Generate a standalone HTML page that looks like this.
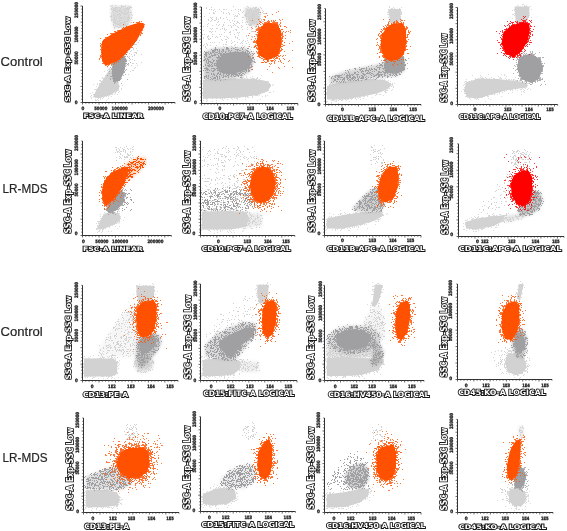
<!DOCTYPE html>
<html><head><meta charset="utf-8"><style>
html,body{margin:0;padding:0;background:#fff;}
body{width:567px;height:531px;position:relative;overflow:hidden;}
svg{position:absolute;left:0;top:0;}
.lab{font-family:"Liberation Sans",Arial,sans-serif;font-size:13px;fill:#262626;stroke:#262626;stroke-width:0.2;}
.t{font-family:"DejaVu Sans","Liberation Sans",sans-serif;font-weight:bold;fill:#fff;stroke:#161616;paint-order:stroke;}
.s{font-family:"DejaVu Sans","Liberation Sans",sans-serif;font-weight:bold;fill:#222;stroke:#222;paint-order:stroke;}
.ax{fill:none;stroke:#333;stroke-width:1;}
.tk{fill:none;stroke:#333;stroke-width:0.75;}
</style></head><body>
<svg width="567" height="531" viewBox="0 0 567 531">
<defs><filter id="b" x="-20%" y="-20%" width="140%" height="140%"><feGaussianBlur stdDeviation="0.7"/></filter>
<filter id="b2" x="-20%" y="-20%" width="140%" height="140%"><feGaussianBlur stdDeviation="1.5"/></filter></defs>
<path d="M111 6 131 6 131.5 20 128 28 114 28 111 18Z" fill="#d2d2d2" filter="url(#b2)" fill-opacity="0.75"/>
<path d="M110 5.5h1M110 16.5h1M111 6.5h1M111 8.5h1M111 9.5h1M111 13.5h1M111 15.5h1M111 16.5h1M111 17.5h1M111 19.5h1M111 20.5h1M112 5.5h1M112 7.5h1M112 9.5h1M112 11.5h1M112 19.5h1M113 8.5h1M113 10.5h1M113 12.5h1M113 14.5h1M113 15.5h1M113 17.5h1M113 20.5h1M113 21.5h1M113 22.5h1M113 24.5h1M113 25.5h1M114 8.5h1M114 9.5h1M114 10.5h1M114 15.5h1M114 16.5h1M114 17.5h1M114 18.5h1M114 19.5h1M114 20.5h1M114 22.5h1M114 23.5h1M114 27.5h1M114 28.5h1M115 5.5h1M115 7.5h1M115 9.5h1M115 10.5h1M115 11.5h1M115 13.5h1M115 19.5h1M115 20.5h1M115 21.5h1M115 22.5h1M115 23.5h1M115 25.5h1M115 26.5h1M116 7.5h1M116 8.5h1M116 11.5h1M116 16.5h1M116 18.5h1M116 23.5h1M117 7.5h1M117 9.5h1M117 11.5h1M117 12.5h1M117 14.5h1M117 15.5h1M117 21.5h1M117 23.5h1M117 24.5h1M117 26.5h1M118 10.5h1M118 14.5h1M118 17.5h1M118 20.5h1M118 22.5h1M118 24.5h1M118 27.5h1M119 7.5h1M119 9.5h1M119 10.5h1M119 11.5h1M119 13.5h1M119 14.5h1M119 16.5h1M119 18.5h1M119 20.5h1M119 21.5h1M119 23.5h1M119 24.5h1M119 25.5h1M119 27.5h1M120 8.5h1M120 9.5h1M120 11.5h1M120 14.5h1M120 15.5h1M120 17.5h1M120 18.5h1M120 20.5h1M120 22.5h1M120 23.5h1M120 25.5h1M120 26.5h1M121 5.5h1M121 6.5h1M121 7.5h1M121 11.5h1M121 12.5h1M121 13.5h1M121 17.5h1M121 18.5h1M121 20.5h1M121 22.5h1M121 23.5h1M121 25.5h1M121 27.5h1M122 6.5h1M122 12.5h1M122 17.5h1M122 22.5h1M123 6.5h1M123 9.5h1M123 13.5h1M123 19.5h1M123 22.5h1M123 23.5h1M123 24.5h1M123 25.5h1M123 26.5h1M123 27.5h1M124 6.5h1M124 9.5h1M124 11.5h1M124 12.5h1M124 13.5h1M124 14.5h1M124 16.5h1M124 18.5h1M124 21.5h1M124 22.5h1M124 25.5h1M124 27.5h1M124 28.5h1M125 5.5h1M125 8.5h1M125 10.5h1M125 11.5h1M125 13.5h1M125 17.5h1M125 21.5h1M125 23.5h1M125 24.5h1M125 25.5h1M125 27.5h1M126 8.5h1M126 9.5h1M126 13.5h1M126 14.5h1M126 20.5h1M126 21.5h1M126 25.5h1M126 26.5h1M126 27.5h1M127 7.5h1M127 8.5h1M127 9.5h1M127 12.5h1M127 13.5h1M127 17.5h1M127 18.5h1M127 19.5h1M127 21.5h1M127 24.5h1M128 6.5h1M128 8.5h1M128 9.5h1M128 11.5h1M128 12.5h1M128 15.5h1M128 16.5h1M128 17.5h1M128 19.5h1M128 20.5h1M129 7.5h1M129 8.5h1M129 14.5h1M129 17.5h1M129 18.5h1M129 25.5h1M130 6.5h1M130 7.5h1M130 12.5h1M131 7.5h1M131 12.5h1M131 14.5h1M131 17.5h1M131 18.5h1M131 22.5h1M132 15.5h1" stroke="#d2d2d2" stroke-width="1" fill="none"/>
<path d="M111 93.5h1M109 69.5h1M98 98.5h1M108 96.5h1M107 67.5h1M112 92.5h1M109 95.5h1M115 93.5h1M102 81.5h1M115 76.5h1M108 98.5h1M101 82.5h1M114 76.5h1M119 91.5h1M113 72.5h1M96 89.5h1M119 86.5h1M106 96.5h1M107 74.5h1M91 95.5h1M117 94.5h1M103 78.5h1M107 70.5h1M113 74.5h1M112 70.5h1M100 83.5h1M94 89.5h1M105 77.5h1M112 71.5h1M103 80.5h1M100 98.5h1M107 73.5h1M113 69.5h1M107 94.5h1M97 83.5h1M95 97.5h1M114 71.5h1M99 84.5h1M95 100.5h1M107 95.5h1M97 99.5h1M100 80.5h1M99 85.5h1M100 97.5h1M118 88.5h1M95 89.5h1M99 80.5h1M117 80.5h1M113 73.5h1M98 97.5h1M118 90.5h1M118 87.5h1M91 98.5h1M114 94.5h1M99 83.5h1M108 69.5h1M106 75.5h1M104 96.5h1M93 84.5h1M111 96.5h1M90 96.5h1M103 97.5h1M90 93.5h1M121 88.5h1M92 92.5h1M110 69.5h1M118 92.5h1M96 100.5h1M121 89.5h1M106 100.5h1M102 77.5h1M97 84.5h1M112 94.5h1M116 79.5h1M105 95.5h1M104 78.5h1M98 100.5h1M118 82.5h1M114 72.5h1M104 71.5h1M100 99.5h1M96 86.5h1M105 75.5h1M117 76.5h1M102 78.5h1M94 94.5h1M111 94.5h1M115 77.5h1M112 93.5h1M102 98.5h1M116 91.5h1M101 81.5h1M114 75.5h1M95 99.5h1M114 74.5h1M110 70.5h1M100 81.5h1M109 68.5h1M103 79.5h1M99 97.5h1M122 85.5h1M107 66.5h1M91 97.5h1M115 92.5h1M111 71.5h1M102 82.5h1M118 89.5h1M93 94.5h1" stroke="#d2d2d2" stroke-width="1" fill="none" stroke-opacity="0.8"/>
<path d="M92.9 96.9 96.9 89 104.8 77.1 109.7 69.2 112.7 71.2 117 80 119.5 86 118 90.5 110 95 102 97.5 96.9 98Z" fill="#d2d2d2" filter="url(#b)"/>
<path d="M115 50.5h1M112 72.5h1M124 71.5h1M123 70.5h1M121 75.5h1M126 61.5h1M119 79.5h1M125 66.5h1M115 82.5h1M112 66.5h1M110 78.5h1M114 83.5h1M114 56.5h1M125 62.5h1M121 78.5h1M115 81.5h1M125 58.5h1M114 57.5h1M110 79.5h1M120 54.5h1M125 74.5h1M123 71.5h1M126 54.5h1M113 78.5h1M127 79.5h1M112 67.5h1M123 54.5h1M111 69.5h1M120 56.5h1M127 64.5h1M112 76.5h1M113 79.5h1M117 80.5h1M114 54.5h1M119 80.5h1M121 83.5h1M113 67.5h1M130 62.5h1M112 78.5h1M122 56.5h1M127 52.5h1M124 68.5h1M123 75.5h1M124 72.5h1M123 72.5h1M124 52.5h1M125 56.5h1M109 71.5h1M124 69.5h1M107 75.5h1M114 82.5h1M125 63.5h1M112 58.5h1M126 69.5h1M108 61.5h1M128 63.5h1M113 80.5h1M129 58.5h1M109 73.5h1M112 63.5h1M110 67.5h1M122 73.5h1M127 56.5h1M113 81.5h1M117 81.5h1M118 57.5h1M112 57.5h1M119 57.5h1M125 61.5h1M124 57.5h1M124 56.5h1M118 56.5h1M120 79.5h1M113 76.5h1M126 60.5h1M112 64.5h1M111 68.5h1M112 75.5h1M125 54.5h1M110 76.5h1M125 70.5h1M125 59.5h1M116 80.5h1M123 55.5h1M110 59.5h1M111 76.5h1M111 65.5h1M126 63.5h1M112 69.5h1" stroke="#a0a0a2" stroke-width="1" fill="none" stroke-opacity="0.8"/>
<path d="M114.7 57.3 124.5 55.4 126.5 61.3 123.6 73.2 119.6 81 113.7 82 111.7 73.2 112.7 63.3Z" fill="#a0a0a2" filter="url(#b)"/>
<path d="M125 62.5h1M126 51.5h1M126 59.5h1M126 65.5h1M127 48.5h1M128 48.5h1M128 57.5h1M128 64.5h1M128 65.5h1M128 74.5h1M129 48.5h1M129 53.5h1M129 56.5h1M129 60.5h1M130 47.5h1M130 48.5h1M130 51.5h1M130 59.5h1M130 71.5h1M131 44.5h1M131 46.5h1M131 50.5h1M131 54.5h1M131 65.5h1M132 56.5h1M132 59.5h1M132 63.5h1M132 70.5h1M133 41.5h1M133 48.5h1M133 49.5h1M133 63.5h1M133 70.5h1M134 43.5h1M134 44.5h1M134 52.5h1M134 54.5h1M134 55.5h1M134 60.5h1M134 68.5h1M135 40.5h1M135 44.5h1M135 52.5h1M135 67.5h1M136 36.5h1M136 38.5h1M136 44.5h1M136 48.5h1M136 52.5h1M136 53.5h1M136 63.5h1M137 50.5h1M137 65.5h1M138 42.5h1M139 40.5h1M140 35.5h1M141 54.5h1M141 62.5h1" stroke="#d2d2d2" stroke-width="1" fill="none"/>
<path d="M113 34.5h1M123 55.5h1M132 45.5h1M122 28.5h1M100 45.5h1M106 37.5h1M113 33.5h1M126 26.5h1M103 63.5h1M122 57.5h1M125 51.5h1M131 25.5h1M111 33.5h1M115 31.5h1M101 50.5h1M120 30.5h1M111 62.5h1M136 22.5h1M141 30.5h1M116 62.5h1M100 57.5h1M110 33.5h1M99 58.5h1M126 54.5h1M112 33.5h1M111 34.5h1M133 43.5h1M120 59.5h1M138 22.5h1M140 34.5h1M102 42.5h1M131 47.5h1M130 46.5h1M101 47.5h1M129 49.5h1M123 54.5h1M135 41.5h1M139 21.5h1M112 62.5h1M116 32.5h1M125 53.5h1M102 60.5h1M101 56.5h1M102 48.5h1M113 64.5h1M108 37.5h1M141 21.5h1M121 57.5h1M103 62.5h1M142 33.5h1M102 56.5h1M138 36.5h1M102 61.5h1M100 43.5h1M117 30.5h1M133 25.5h1M141 32.5h1M105 37.5h1M125 27.5h1M107 34.5h1M108 65.5h1M120 57.5h1M103 43.5h1M137 23.5h1M141 33.5h1M119 30.5h1M123 27.5h1M100 56.5h1M102 57.5h1M109 64.5h1M114 63.5h1M102 52.5h1M104 61.5h1M119 59.5h1M142 23.5h1M134 42.5h1M128 49.5h1M102 63.5h1M140 35.5h1M101 52.5h1M118 30.5h1M103 40.5h1M102 54.5h1M120 56.5h1M135 40.5h1M117 32.5h1M136 40.5h1M133 22.5h1M133 44.5h1M101 54.5h1M107 66.5h1M142 30.5h1M140 31.5h1M118 59.5h1M126 52.5h1M110 35.5h1M107 64.5h1M123 24.5h1M102 59.5h1M132 47.5h1M101 44.5h1M141 23.5h1M100 38.5h1M114 31.5h1M144 24.5h1M100 46.5h1M102 41.5h1M137 22.5h1M100 49.5h1M118 61.5h1M129 26.5h1M136 38.5h1M131 45.5h1M132 43.5h1M111 64.5h1M99 59.5h1M104 63.5h1M115 32.5h1M100 55.5h1M139 22.5h1M134 41.5h1M126 51.5h1" stroke="#ff5100" stroke-width="1" fill="none" stroke-opacity="0.8"/>
<path d="M101.6 44 103.5 39.5 109 36 115 32.5 121.2 29.4 127 26.5 133.5 24.2 139 22.8 143.5 23 144.5 26.5 141 32.5 137 40 131 47.5 124.5 55 117 61.5 109.5 64.5 105.3 66 101.6 58.8 101.1 50Z" fill="#ff5100" filter="url(#b)"/>
<path d="M202 34.5h1M203 26.5h1M203 30.5h1M203 37.5h1M203 38.5h1M203 45.5h1M204 16.5h1M204 34.5h1M204 44.5h1M205 46.5h1M205 47.5h1M205 52.5h1M205 53.5h1M205 54.5h1M206 7.5h1M206 8.5h1M206 43.5h1M206 48.5h1M206 54.5h1M207 24.5h1M207 26.5h1M207 36.5h1M207 37.5h1M207 44.5h1M207 45.5h1M208 19.5h1M208 20.5h1M208 23.5h1M208 35.5h1M208 36.5h1M208 38.5h1M208 39.5h1M208 51.5h1M208 52.5h1M209 9.5h1M209 13.5h1M209 31.5h1M209 39.5h1M210 17.5h1M210 21.5h1M210 28.5h1M210 31.5h1M210 38.5h1M210 42.5h1M210 45.5h1M211 7.5h1M211 9.5h1M211 18.5h1M211 20.5h1M211 29.5h1M211 32.5h1M211 54.5h1M212 17.5h1M212 19.5h1M212 25.5h1M212 28.5h1M212 31.5h1M212 34.5h1M212 36.5h1M212 42.5h1M213 10.5h1M213 12.5h1M213 13.5h1M213 50.5h1M214 9.5h1M214 13.5h1M214 20.5h1M214 42.5h1M214 50.5h1M214 53.5h1M215 11.5h1M215 20.5h1M215 31.5h1M215 37.5h1M216 17.5h1M216 18.5h1M216 19.5h1M216 24.5h1M216 28.5h1M216 36.5h1M216 45.5h1M216 49.5h1M216 54.5h1M217 22.5h1M217 28.5h1M217 37.5h1M218 19.5h1M218 21.5h1M218 25.5h1M218 51.5h1M219 9.5h1M219 24.5h1M219 34.5h1M219 42.5h1M220 17.5h1M220 18.5h1M220 29.5h1M220 36.5h1M220 53.5h1M221 11.5h1M221 34.5h1M221 39.5h1M222 26.5h1M222 28.5h1M222 40.5h1M222 50.5h1M223 9.5h1M223 12.5h1M223 13.5h1M223 18.5h1M223 24.5h1M223 25.5h1M223 44.5h1M223 46.5h1M223 49.5h1M224 9.5h1M224 22.5h1M224 28.5h1M224 29.5h1M224 32.5h1M224 36.5h1M224 47.5h1M225 30.5h1M225 39.5h1M225 44.5h1M226 9.5h1M226 13.5h1M226 17.5h1M226 29.5h1M226 36.5h1M226 39.5h1M226 41.5h1M226 42.5h1M226 44.5h1M226 51.5h1M227 19.5h1M227 37.5h1M228 12.5h1M228 25.5h1M228 38.5h1M228 48.5h1M228 49.5h1M229 13.5h1M229 14.5h1M229 20.5h1M229 32.5h1M230 22.5h1M230 25.5h1M230 31.5h1M230 32.5h1M230 34.5h1M231 10.5h1M231 26.5h1M231 27.5h1M231 40.5h1M231 43.5h1M231 46.5h1M232 20.5h1M232 42.5h1M232 47.5h1M233 6.5h1M233 14.5h1M233 23.5h1M233 25.5h1M233 30.5h1M234 16.5h1M234 18.5h1M234 21.5h1M234 24.5h1M234 34.5h1M234 41.5h1M234 45.5h1M234 48.5h1M235 9.5h1M235 15.5h1M235 25.5h1M235 29.5h1M235 36.5h1M235 37.5h1M235 44.5h1M236 16.5h1M236 23.5h1M236 29.5h1M236 30.5h1M236 47.5h1M236 49.5h1M237 15.5h1M237 16.5h1M237 21.5h1M237 22.5h1M237 26.5h1M237 32.5h1M237 37.5h1M237 38.5h1M237 42.5h1M237 47.5h1M238 9.5h1M238 11.5h1M238 13.5h1M238 22.5h1M238 27.5h1M238 33.5h1M238 35.5h1M239 14.5h1M239 23.5h1M239 32.5h1M239 39.5h1M240 9.5h1M240 10.5h1M240 43.5h1M240 48.5h1M241 25.5h1M241 27.5h1M241 42.5h1M242 12.5h1M242 17.5h1M242 20.5h1M242 22.5h1M242 26.5h1M242 29.5h1M242 41.5h1M242 43.5h1M242 45.5h1M242 48.5h1M242 49.5h1M243 17.5h1M243 40.5h1M244 15.5h1M244 46.5h1M245 13.5h1M245 14.5h1M245 22.5h1M245 41.5h1M245 49.5h1M245 51.5h1M246 11.5h1M246 16.5h1M246 19.5h1M246 24.5h1M246 35.5h1M246 36.5h1M246 43.5h1M247 6.5h1M247 13.5h1M247 27.5h1M247 29.5h1M247 38.5h1M247 40.5h1M248 35.5h1M248 42.5h1M248 46.5h1M249 20.5h1M249 25.5h1M249 44.5h1M250 9.5h1M250 16.5h1M250 20.5h1M250 25.5h1M250 49.5h1M251 9.5h1M251 13.5h1M251 17.5h1M251 29.5h1M251 31.5h1M251 36.5h1M251 47.5h1M252 8.5h1M252 18.5h1M252 20.5h1M252 31.5h1M252 36.5h1M252 37.5h1M253 13.5h1M253 15.5h1M253 21.5h1M253 31.5h1M253 47.5h1M253 51.5h1M253 53.5h1M254 8.5h1M254 23.5h1M254 31.5h1M254 40.5h1M254 47.5h1M255 7.5h1M255 26.5h1M255 27.5h1M255 29.5h1M255 34.5h1M255 39.5h1M255 44.5h1M255 46.5h1M256 10.5h1M256 14.5h1M256 17.5h1M256 22.5h1M256 25.5h1M256 28.5h1M256 35.5h1M256 42.5h1M256 52.5h1M257 10.5h1M257 18.5h1M258 16.5h1M258 24.5h1M258 25.5h1M258 28.5h1M258 34.5h1M258 44.5h1M259 10.5h1M259 12.5h1M259 16.5h1M259 19.5h1M259 20.5h1M259 34.5h1M259 36.5h1M259 38.5h1M259 40.5h1M260 7.5h1M260 14.5h1M260 18.5h1M260 24.5h1M260 35.5h1M260 36.5h1M260 38.5h1M260 51.5h1M261 8.5h1M261 19.5h1M261 20.5h1M261 31.5h1M261 44.5h1M261 45.5h1M262 10.5h1M262 12.5h1M262 21.5h1M262 30.5h1M262 43.5h1M263 11.5h1M263 13.5h1M263 21.5h1M263 23.5h1M263 24.5h1M263 44.5h1M263 51.5h1M264 13.5h1M264 25.5h1M264 26.5h1M264 27.5h1M264 40.5h1M264 43.5h1M264 52.5h1M265 13.5h1M265 17.5h1M265 23.5h1M265 48.5h1" stroke="#d2d2d2" stroke-width="1" fill="none"/>
<path d="M244.5 7.9 259.3 7.9 260.3 19.8 257.4 25.7 249.4 25.7 245.5 17.8Z" fill="#d2d2d2" filter="url(#b2)" fill-opacity="0.9"/>
<path d="M243 11.5h1M245 15.5h1M245 16.5h1M246 8.5h1M246 11.5h1M246 13.5h1M246 14.5h1M246 15.5h1M246 16.5h1M246 18.5h1M246 21.5h1M247 9.5h1M247 10.5h1M247 16.5h1M247 21.5h1M247 22.5h1M248 7.5h1M248 11.5h1M248 12.5h1M248 13.5h1M248 16.5h1M248 17.5h1M248 18.5h1M248 19.5h1M248 24.5h1M249 9.5h1M249 10.5h1M249 11.5h1M249 12.5h1M249 19.5h1M249 21.5h1M249 22.5h1M249 24.5h1M250 8.5h1M250 9.5h1M250 16.5h1M250 17.5h1M250 19.5h1M250 23.5h1M250 24.5h1M251 9.5h1M251 10.5h1M251 13.5h1M251 14.5h1M251 15.5h1M251 17.5h1M251 18.5h1M251 20.5h1M251 21.5h1M251 22.5h1M251 24.5h1M251 25.5h1M252 11.5h1M252 14.5h1M252 15.5h1M252 16.5h1M252 17.5h1M252 19.5h1M252 22.5h1M252 23.5h1M253 7.5h1M253 10.5h1M253 11.5h1M253 12.5h1M253 16.5h1M253 17.5h1M253 18.5h1M253 20.5h1M253 23.5h1M254 8.5h1M254 13.5h1M254 14.5h1M254 15.5h1M254 16.5h1M254 18.5h1M254 19.5h1M254 21.5h1M254 22.5h1M254 23.5h1M255 7.5h1M255 8.5h1M255 9.5h1M255 10.5h1M255 11.5h1M255 12.5h1M255 17.5h1M255 18.5h1M255 22.5h1M256 7.5h1M256 9.5h1M256 10.5h1M256 11.5h1M256 12.5h1M256 15.5h1M256 17.5h1M256 19.5h1M256 21.5h1M256 22.5h1M256 23.5h1M256 24.5h1M257 9.5h1M257 10.5h1M257 12.5h1M257 13.5h1M257 17.5h1M257 19.5h1M257 22.5h1M257 23.5h1M258 8.5h1M258 9.5h1M258 10.5h1M258 11.5h1M258 12.5h1M258 13.5h1M258 14.5h1M258 16.5h1M258 17.5h1M258 18.5h1M258 19.5h1M258 20.5h1M258 22.5h1M259 9.5h1M259 14.5h1M259 18.5h1M259 23.5h1" stroke="#d2d2d2" stroke-width="1" fill="none"/>
<path d="M270 84.5h1M245 97.5h1M228 78.5h1M211 97.5h1M247 97.5h1M270 86.5h1M262 96.5h1M231 78.5h1M234 98.5h1M251 78.5h1M202 95.5h1M256 78.5h1M202 93.5h1M230 76.5h1M255 79.5h1M236 98.5h1M265 96.5h1M205 98.5h1M208 79.5h1M224 98.5h1M262 92.5h1M273 91.5h1M233 97.5h1M226 79.5h1M268 87.5h1M244 78.5h1M255 94.5h1M259 79.5h1M235 79.5h1M230 78.5h1M252 78.5h1M216 102.5h1M219 97.5h1M237 98.5h1M260 99.5h1M266 81.5h1M200 82.5h1M243 77.5h1M242 78.5h1M256 95.5h1M241 78.5h1M227 99.5h1M241 96.5h1M201 81.5h1M207 98.5h1M240 79.5h1M226 97.5h1M220 78.5h1M250 77.5h1M235 78.5h1M252 97.5h1M246 77.5h1M259 80.5h1M258 94.5h1M269 87.5h1M206 98.5h1M200 86.5h1M223 79.5h1M234 78.5h1M268 90.5h1M251 95.5h1M247 95.5h1M224 76.5h1M244 79.5h1M270 85.5h1M206 101.5h1M203 91.5h1M214 75.5h1M220 98.5h1M212 101.5h1M203 87.5h1M208 77.5h1M257 94.5h1M260 80.5h1M216 100.5h1M210 80.5h1M206 99.5h1M233 78.5h1M246 76.5h1M261 75.5h1M247 78.5h1M265 95.5h1M252 96.5h1M237 99.5h1M209 79.5h1M245 99.5h1M247 96.5h1M248 97.5h1M217 79.5h1M203 88.5h1M270 92.5h1M205 79.5h1M252 76.5h1M273 84.5h1M267 82.5h1M217 78.5h1M245 96.5h1M231 98.5h1M202 92.5h1M214 78.5h1M206 80.5h1M221 79.5h1M213 97.5h1M239 97.5h1M232 99.5h1M230 97.5h1M265 81.5h1M203 100.5h1M203 95.5h1M203 98.5h1M253 78.5h1M255 95.5h1M272 85.5h1M202 102.5h1M269 92.5h1M232 97.5h1M233 76.5h1M200 83.5h1M262 80.5h1M267 95.5h1M216 98.5h1M222 98.5h1M268 81.5h1M254 78.5h1M213 79.5h1M201 91.5h1M213 77.5h1M269 83.5h1M257 78.5h1M256 79.5h1M260 78.5h1M212 98.5h1M263 92.5h1M212 78.5h1M206 79.5h1M243 79.5h1M241 77.5h1M266 91.5h1M269 85.5h1M245 79.5h1M223 100.5h1M257 77.5h1M207 100.5h1M199 87.5h1M234 79.5h1M215 77.5h1M202 83.5h1M268 82.5h1M246 96.5h1M223 97.5h1M236 97.5h1M257 95.5h1M242 77.5h1M208 97.5h1M264 92.5h1M213 78.5h1M232 96.5h1M243 96.5h1M259 95.5h1M222 99.5h1M241 76.5h1M256 94.5h1M267 81.5h1M257 100.5h1M235 75.5h1M202 88.5h1M232 77.5h1" stroke="#d2d2d2" stroke-width="1" fill="none" stroke-opacity="0.8"/>
<path d="M203 80 220 79 240 78.5 255 79 266 81 271 85 268 91 258 95 240 97.5 220 98.5 203 98.5Z" fill="#d2d2d2" filter="url(#b)"/>
<path d="M203.7 52 215 48 230 47.4 245 48 253 53 254 62 250 72 240 77 225 79.5 203.7 79.5Z" fill="#a0a0a2" filter="url(#b2)" fill-opacity="0.5"/>
<path d="M203 60.5h1M203 66.5h1M203 70.5h1M204 51.5h1M204 54.5h1M204 56.5h1M204 57.5h1M204 59.5h1M204 60.5h1M204 68.5h1M204 76.5h1M204 77.5h1M204 78.5h1M205 52.5h1M205 53.5h1M205 54.5h1M205 55.5h1M205 58.5h1M205 59.5h1M205 64.5h1M205 65.5h1M205 68.5h1M205 70.5h1M205 76.5h1M206 52.5h1M206 53.5h1M206 54.5h1M206 55.5h1M206 56.5h1M206 60.5h1M206 61.5h1M206 62.5h1M206 67.5h1M206 68.5h1M206 69.5h1M206 72.5h1M206 75.5h1M206 76.5h1M206 77.5h1M207 52.5h1M207 58.5h1M207 59.5h1M207 63.5h1M207 65.5h1M207 68.5h1M207 69.5h1M207 70.5h1M207 72.5h1M207 78.5h1M208 53.5h1M208 57.5h1M208 59.5h1M208 60.5h1M208 61.5h1M208 62.5h1M208 63.5h1M208 65.5h1M208 66.5h1M208 69.5h1M208 72.5h1M208 75.5h1M208 76.5h1M208 78.5h1M209 54.5h1M209 56.5h1M209 57.5h1M209 61.5h1M209 64.5h1M209 65.5h1M209 66.5h1M209 70.5h1M210 52.5h1M210 53.5h1M210 56.5h1M210 57.5h1M210 61.5h1M210 62.5h1M210 65.5h1M210 77.5h1M210 79.5h1M211 49.5h1M211 53.5h1M211 55.5h1M211 62.5h1M211 64.5h1M211 66.5h1M211 68.5h1M211 70.5h1M211 73.5h1M211 74.5h1M211 78.5h1M212 50.5h1M212 51.5h1M212 52.5h1M212 55.5h1M212 56.5h1M212 59.5h1M212 62.5h1M212 63.5h1M212 65.5h1M212 66.5h1M212 71.5h1M212 76.5h1M212 79.5h1M213 50.5h1M213 51.5h1M213 52.5h1M213 55.5h1M213 60.5h1M213 61.5h1M213 68.5h1M213 70.5h1M213 71.5h1M213 73.5h1M213 74.5h1M213 78.5h1M214 49.5h1M214 50.5h1M214 51.5h1M214 53.5h1M214 54.5h1M214 55.5h1M214 60.5h1M214 63.5h1M214 64.5h1M214 65.5h1M214 68.5h1M214 69.5h1M214 70.5h1M214 74.5h1M214 75.5h1M214 77.5h1M214 78.5h1M215 47.5h1M215 48.5h1M215 49.5h1M215 50.5h1M215 52.5h1M215 54.5h1M215 55.5h1M215 63.5h1M215 65.5h1M215 69.5h1M215 77.5h1M215 78.5h1M215 80.5h1M216 49.5h1M216 52.5h1M216 57.5h1M216 60.5h1M216 68.5h1M216 75.5h1M216 76.5h1M217 49.5h1M217 50.5h1M217 52.5h1M217 57.5h1M217 58.5h1M217 60.5h1M217 61.5h1M217 62.5h1M217 63.5h1M217 68.5h1M217 70.5h1M217 73.5h1M217 74.5h1M217 76.5h1M217 77.5h1M217 78.5h1M217 79.5h1M218 53.5h1M218 55.5h1M218 56.5h1M218 57.5h1M218 59.5h1M218 60.5h1M218 63.5h1M218 65.5h1M218 67.5h1M218 68.5h1M218 70.5h1M218 72.5h1M218 73.5h1M219 49.5h1M219 50.5h1M219 51.5h1M219 52.5h1M219 57.5h1M219 60.5h1M219 62.5h1M219 64.5h1M219 65.5h1M219 66.5h1M219 71.5h1M219 74.5h1M219 76.5h1M219 77.5h1M219 78.5h1M220 53.5h1M220 54.5h1M220 55.5h1M220 57.5h1M220 60.5h1M220 63.5h1M220 64.5h1M220 66.5h1M220 68.5h1M220 69.5h1M220 71.5h1M220 73.5h1M220 74.5h1M220 80.5h1M221 51.5h1M221 53.5h1M221 54.5h1M221 55.5h1M221 59.5h1M221 61.5h1M221 62.5h1M221 63.5h1M221 67.5h1M221 68.5h1M221 71.5h1M221 75.5h1M222 50.5h1M222 52.5h1M222 56.5h1M222 57.5h1M222 58.5h1M222 60.5h1M222 63.5h1M222 65.5h1M222 66.5h1M222 68.5h1M222 69.5h1M222 70.5h1M222 71.5h1M222 72.5h1M222 77.5h1M223 49.5h1M223 50.5h1M223 51.5h1M223 53.5h1M223 54.5h1M223 58.5h1M223 59.5h1M223 63.5h1M223 64.5h1M223 65.5h1M223 66.5h1M223 69.5h1M223 71.5h1M223 72.5h1M223 73.5h1M223 75.5h1M223 77.5h1M224 53.5h1M224 57.5h1M224 61.5h1M224 62.5h1M224 63.5h1M224 69.5h1M224 70.5h1M224 73.5h1M225 51.5h1M225 52.5h1M225 60.5h1M225 61.5h1M225 63.5h1M225 65.5h1M225 76.5h1M225 79.5h1M226 47.5h1M226 48.5h1M226 49.5h1M226 53.5h1M226 56.5h1M226 57.5h1M226 60.5h1M226 61.5h1M226 62.5h1M226 67.5h1M226 68.5h1M226 70.5h1M226 74.5h1M226 76.5h1M227 47.5h1M227 48.5h1M227 56.5h1M227 57.5h1M227 58.5h1M227 64.5h1M227 65.5h1M227 66.5h1M227 68.5h1M227 73.5h1M227 75.5h1M228 48.5h1M228 50.5h1M228 57.5h1M228 60.5h1M228 61.5h1M228 62.5h1M228 67.5h1M228 69.5h1M228 74.5h1M228 75.5h1M228 76.5h1M228 77.5h1M229 56.5h1M229 61.5h1M229 65.5h1M229 69.5h1M229 71.5h1M229 74.5h1M230 52.5h1M230 53.5h1M230 56.5h1M230 58.5h1M230 59.5h1M230 63.5h1M230 64.5h1M230 66.5h1M230 68.5h1M230 70.5h1M231 48.5h1M231 50.5h1M231 56.5h1M231 58.5h1M231 59.5h1M231 60.5h1M231 63.5h1M231 65.5h1M231 66.5h1M231 74.5h1M231 75.5h1M231 76.5h1M232 52.5h1M232 53.5h1M232 57.5h1M232 59.5h1M232 60.5h1M232 62.5h1M232 63.5h1M232 68.5h1M232 69.5h1M232 74.5h1M233 48.5h1M233 52.5h1M233 57.5h1M233 59.5h1M233 64.5h1M233 70.5h1M233 71.5h1M233 72.5h1M233 73.5h1M233 74.5h1M233 75.5h1M234 53.5h1M234 56.5h1M234 59.5h1M234 60.5h1M234 61.5h1M234 62.5h1M234 65.5h1M234 66.5h1M234 67.5h1M234 72.5h1M234 73.5h1M234 76.5h1M235 47.5h1M235 49.5h1M235 51.5h1M235 54.5h1M235 56.5h1M235 57.5h1M235 59.5h1M235 60.5h1M235 62.5h1M235 65.5h1M235 66.5h1M235 67.5h1M235 71.5h1M235 72.5h1M235 73.5h1M235 74.5h1M235 76.5h1M236 56.5h1M236 57.5h1M236 62.5h1M236 66.5h1M236 67.5h1M236 69.5h1M236 71.5h1M236 74.5h1M237 49.5h1M237 50.5h1M237 52.5h1M237 53.5h1M237 56.5h1M237 57.5h1M237 58.5h1M237 60.5h1M237 61.5h1M237 64.5h1M237 65.5h1M237 66.5h1M237 68.5h1M237 74.5h1M237 75.5h1M238 49.5h1M238 52.5h1M238 56.5h1M238 57.5h1M238 58.5h1M238 61.5h1M238 67.5h1M238 75.5h1M238 76.5h1M239 50.5h1M239 53.5h1M239 58.5h1M239 61.5h1M239 63.5h1M239 64.5h1M239 66.5h1M239 67.5h1M239 68.5h1M239 70.5h1M239 73.5h1M239 74.5h1M240 59.5h1M240 61.5h1M240 75.5h1M240 77.5h1M241 47.5h1M241 52.5h1M241 53.5h1M241 54.5h1M241 56.5h1M241 60.5h1M241 61.5h1M241 62.5h1M241 64.5h1M241 65.5h1M241 66.5h1M241 72.5h1M241 74.5h1M241 75.5h1M242 48.5h1M242 49.5h1M242 51.5h1M242 56.5h1M242 60.5h1M242 61.5h1M242 63.5h1M242 64.5h1M242 65.5h1M242 67.5h1M243 47.5h1M243 53.5h1M243 55.5h1M243 56.5h1M243 57.5h1M243 61.5h1M243 65.5h1M243 67.5h1M243 71.5h1M243 73.5h1M244 54.5h1M244 59.5h1M244 60.5h1M244 62.5h1M244 64.5h1M244 67.5h1M244 68.5h1M244 69.5h1M244 71.5h1M245 52.5h1M245 55.5h1M245 56.5h1M245 59.5h1M245 64.5h1M245 67.5h1M245 68.5h1M245 69.5h1M245 70.5h1M245 72.5h1M246 50.5h1M246 53.5h1M246 56.5h1M246 57.5h1M246 58.5h1M246 59.5h1M246 61.5h1M246 63.5h1M246 67.5h1M246 69.5h1M246 70.5h1M246 71.5h1M247 48.5h1M247 50.5h1M247 51.5h1M247 54.5h1M247 57.5h1M247 62.5h1M247 64.5h1M247 65.5h1M247 66.5h1M247 67.5h1M248 48.5h1M248 51.5h1M248 54.5h1M248 55.5h1M248 57.5h1M248 59.5h1M248 60.5h1M248 62.5h1M248 63.5h1M248 67.5h1M248 68.5h1M248 69.5h1M248 70.5h1M248 71.5h1M249 52.5h1M249 57.5h1M249 59.5h1M249 61.5h1M249 64.5h1M249 70.5h1M250 61.5h1M250 62.5h1M250 64.5h1M251 51.5h1M251 59.5h1M251 60.5h1M251 65.5h1M251 66.5h1M251 67.5h1M251 69.5h1M252 53.5h1M252 55.5h1M252 57.5h1M252 58.5h1M252 66.5h1M252 69.5h1M253 54.5h1M253 57.5h1M254 61.5h1" stroke="#a0a0a2" stroke-width="1" fill="none"/>
<path d="M215 63.5h1M247 54.5h1M225 52.5h1M251 58.5h1M219 69.5h1M237 52.5h1M226 74.5h1M222 77.5h1M249 66.5h1M241 74.5h1M216 63.5h1M218 57.5h1M249 67.5h1M237 51.5h1M231 73.5h1M221 57.5h1M234 74.5h1M253 61.5h1M225 51.5h1M228 75.5h1M242 75.5h1M242 71.5h1M230 51.5h1M240 72.5h1M250 54.5h1M226 73.5h1M240 50.5h1M222 54.5h1M236 52.5h1M249 71.5h1M244 52.5h1M216 61.5h1M228 73.5h1M246 53.5h1M252 60.5h1M254 62.5h1M250 59.5h1M236 75.5h1M217 69.5h1M249 64.5h1M229 73.5h1M250 62.5h1M251 62.5h1M219 70.5h1M228 53.5h1M248 68.5h1M227 48.5h1M215 69.5h1M248 54.5h1M247 51.5h1M240 71.5h1M236 49.5h1M247 53.5h1M244 74.5h1M223 73.5h1M232 73.5h1M217 63.5h1M238 73.5h1M217 70.5h1M245 51.5h1M216 66.5h1M217 54.5h1M236 73.5h1M219 53.5h1M244 69.5h1M249 53.5h1M214 65.5h1M219 59.5h1M248 65.5h1M239 52.5h1M229 52.5h1M228 76.5h1M222 49.5h1M247 52.5h1M248 66.5h1M245 70.5h1M254 59.5h1M218 56.5h1M228 51.5h1M229 50.5h1M217 68.5h1M248 69.5h1M228 74.5h1M255 62.5h1M251 64.5h1M249 68.5h1M239 73.5h1M220 72.5h1M253 58.5h1M218 59.5h1M233 52.5h1M252 61.5h1M219 56.5h1M224 73.5h1M248 55.5h1M246 71.5h1M212 68.5h1M223 75.5h1M233 73.5h1M246 54.5h1M216 65.5h1M225 75.5h1M219 71.5h1M243 51.5h1M227 49.5h1M216 64.5h1M226 72.5h1M222 55.5h1M223 76.5h1M241 77.5h1M221 54.5h1M242 73.5h1M249 63.5h1M220 55.5h1M248 53.5h1M240 73.5h1M220 57.5h1M242 51.5h1M221 56.5h1M246 69.5h1M250 58.5h1M249 65.5h1M223 74.5h1" stroke="#a0a0a2" stroke-width="1" fill="none" stroke-opacity="0.8"/>
<path d="M218.5 58.5 224.7 53.6 234.6 51.7 244.4 52.3 250.6 56 251.9 62.2 248.1 68.4 240.7 72.1 230.9 74 222.2 73.3 217.3 68.4 216 63.5Z" fill="#a0a0a2" filter="url(#b)"/>
<path d="M279 36.5h1M272 72.5h1M261 55.5h1M261 22.5h1M272 14.5h1M268 42.5h1M278 48.5h1M266 47.5h1M264 31.5h1M282 38.5h1M272 48.5h1M271 26.5h1M266 58.5h1M274 44.5h1M268 47.5h1M272 52.5h1M281 39.5h1M277 42.5h1M271 21.5h1M257 28.5h1M269 33.5h1M267 35.5h1M266 35.5h1M273 24.5h1M280 36.5h1M259 30.5h1M266 59.5h1M270 23.5h1M269 58.5h1M269 54.5h1M279 68.5h1M265 32.5h1M286 27.5h1M258 45.5h1M267 36.5h1M285 35.5h1M271 56.5h1M278 41.5h1M274 54.5h1M266 41.5h1M254 53.5h1M267 30.5h1M270 44.5h1M277 41.5h1M264 34.5h1M266 46.5h1M275 48.5h1M276 35.5h1M284 59.5h1M264 45.5h1M284 42.5h1M261 45.5h1M265 62.5h1M279 31.5h1M267 44.5h1M270 46.5h1M264 22.5h1M288 61.5h1M252 69.5h1M262 23.5h1M273 39.5h1M272 38.5h1M272 47.5h1M281 48.5h1M265 33.5h1M282 32.5h1M274 28.5h1M259 23.5h1M269 36.5h1M265 17.5h1M272 32.5h1M253 42.5h1M271 34.5h1M263 44.5h1M273 41.5h1M273 53.5h1M267 60.5h1M277 46.5h1M281 40.5h1M283 63.5h1M259 38.5h1M260 21.5h1M292 41.5h1M262 62.5h1M262 34.5h1M265 43.5h1M249 33.5h1M266 27.5h1M280 20.5h1M260 36.5h1M259 34.5h1M265 44.5h1M285 32.5h1M269 66.5h1M251 27.5h1M268 23.5h1M274 42.5h1M275 56.5h1M278 32.5h1M273 54.5h1M271 28.5h1M267 55.5h1M271 54.5h1M257 29.5h1M266 56.5h1M290 32.5h1M272 40.5h1M269 51.5h1M262 50.5h1M279 28.5h1M248 35.5h1M278 67.5h1M260 12.5h1M279 49.5h1M265 16.5h1M267 48.5h1M265 41.5h1M277 25.5h1M280 40.5h1M269 40.5h1M257 32.5h1M284 66.5h1M256 26.5h1M253 57.5h1M249 46.5h1M270 64.5h1M269 23.5h1M279 50.5h1M260 50.5h1M288 31.5h1M270 34.5h1M272 50.5h1M275 41.5h1M269 48.5h1M274 33.5h1M261 28.5h1M267 69.5h1M278 30.5h1M269 37.5h1M260 57.5h1M276 48.5h1M290 30.5h1M292 67.5h1M260 51.5h1M276 56.5h1M266 22.5h1M279 45.5h1M277 52.5h1M282 29.5h1M272 25.5h1M269 26.5h1M252 20.5h1M272 56.5h1M264 16.5h1M276 29.5h1M268 50.5h1M278 47.5h1M263 26.5h1M278 35.5h1M279 48.5h1M282 19.5h1M275 55.5h1M270 60.5h1M250 67.5h1M269 55.5h1M264 53.5h1M265 46.5h1M270 30.5h1M257 30.5h1M271 25.5h1M276 54.5h1M286 31.5h1M267 54.5h1M267 15.5h1M265 36.5h1M251 39.5h1M289 43.5h1M266 13.5h1M274 22.5h1M270 25.5h1M270 39.5h1M264 47.5h1M264 61.5h1M272 57.5h1M248 56.5h1M271 23.5h1M276 12.5h1M274 62.5h1M263 34.5h1M280 38.5h1M252 28.5h1M280 22.5h1M279 42.5h1M278 61.5h1M265 39.5h1M254 41.5h1M280 51.5h1M255 46.5h1M289 60.5h1M262 28.5h1M280 46.5h1M278 38.5h1M280 25.5h1M266 57.5h1M257 56.5h1M284 45.5h1M292 50.5h1M260 33.5h1M278 33.5h1M284 51.5h1M258 34.5h1M279 58.5h1M274 21.5h1M279 24.5h1M278 11.5h1M263 52.5h1M274 26.5h1M275 26.5h1M262 42.5h1M279 37.5h1M262 27.5h1M261 56.5h1M257 36.5h1M267 61.5h1M285 55.5h1M272 41.5h1M269 47.5h1M262 48.5h1M282 44.5h1M263 30.5h1M266 44.5h1" stroke="#ff5100" stroke-width="1" fill="none" stroke-opacity="0.75"/>
<path d="M258 33.5h1M261 58.5h1M267 59.5h1M264 24.5h1M279 52.5h1M259 53.5h1M269 21.5h1M271 20.5h1M277 22.5h1M263 26.5h1M269 58.5h1M275 22.5h1M280 31.5h1M280 34.5h1M258 30.5h1M271 57.5h1M274 63.5h1M268 60.5h1M258 51.5h1M280 42.5h1M275 58.5h1M263 19.5h1M282 46.5h1M260 27.5h1M258 34.5h1M283 31.5h1M257 34.5h1M271 61.5h1M281 50.5h1M256 51.5h1M267 23.5h1M278 52.5h1M263 60.5h1M280 46.5h1M259 28.5h1M267 61.5h1M280 33.5h1M258 26.5h1M263 57.5h1M261 62.5h1M259 52.5h1M280 32.5h1M257 38.5h1M268 20.5h1M277 25.5h1M267 22.5h1M269 22.5h1M264 59.5h1M259 31.5h1M280 55.5h1M255 42.5h1M282 38.5h1M276 23.5h1M276 22.5h1M274 57.5h1M258 27.5h1M271 60.5h1M279 28.5h1M254 42.5h1M256 41.5h1M258 31.5h1M277 26.5h1M258 47.5h1M254 46.5h1M261 27.5h1M268 22.5h1M271 58.5h1M261 55.5h1M280 37.5h1M278 56.5h1M280 47.5h1M280 30.5h1M263 24.5h1M258 29.5h1M259 30.5h1M272 61.5h1M264 20.5h1M282 49.5h1M260 29.5h1M260 55.5h1M262 58.5h1M258 45.5h1M277 57.5h1M275 23.5h1M253 41.5h1M265 24.5h1M282 34.5h1M258 52.5h1M259 54.5h1M281 43.5h1M277 23.5h1M272 22.5h1M264 23.5h1M274 61.5h1M267 24.5h1M256 29.5h1M282 29.5h1M280 38.5h1M278 53.5h1M256 43.5h1M261 26.5h1M283 45.5h1M274 59.5h1M281 33.5h1M256 34.5h1M256 42.5h1M280 40.5h1M265 23.5h1M273 60.5h1M280 35.5h1M265 62.5h1M277 24.5h1M276 24.5h1M257 40.5h1M278 28.5h1M276 57.5h1M257 42.5h1M265 59.5h1M257 53.5h1M259 29.5h1M262 56.5h1M257 36.5h1M281 41.5h1M274 56.5h1M257 52.5h1M257 49.5h1M257 45.5h1M278 51.5h1M282 36.5h1M272 57.5h1M255 38.5h1M264 25.5h1M273 23.5h1M281 42.5h1M279 29.5h1M278 55.5h1M264 57.5h1M259 23.5h1M258 32.5h1M258 19.5h1M277 54.5h1M279 53.5h1M254 47.5h1M257 24.5h1M273 22.5h1M259 27.5h1M259 33.5h1M255 41.5h1M255 46.5h1M269 63.5h1M265 22.5h1M280 50.5h1M255 45.5h1M273 20.5h1M257 48.5h1M258 55.5h1M281 44.5h1M273 58.5h1M282 35.5h1M260 54.5h1M258 54.5h1M279 56.5h1M259 55.5h1M257 32.5h1M285 26.5h1M283 36.5h1M282 56.5h1M281 62.5h1M258 28.5h1M263 62.5h1M271 63.5h1M256 40.5h1M264 19.5h1M281 39.5h1M279 30.5h1M284 42.5h1M279 51.5h1M258 53.5h1M282 40.5h1M275 56.5h1M280 45.5h1M280 23.5h1M257 41.5h1M281 49.5h1M283 55.5h1M260 24.5h1M283 58.5h1M278 25.5h1M284 26.5h1M282 33.5h1M278 27.5h1M259 56.5h1M281 34.5h1M273 21.5h1M280 61.5h1M274 23.5h1M270 23.5h1M257 43.5h1M279 19.5h1M281 29.5h1M270 58.5h1M281 38.5h1M280 60.5h1M276 58.5h1M268 21.5h1M255 31.5h1M254 36.5h1M277 58.5h1M258 56.5h1M260 22.5h1M266 23.5h1M280 26.5h1M268 61.5h1M282 41.5h1M279 59.5h1M261 28.5h1M281 37.5h1M267 60.5h1M275 20.5h1M263 59.5h1M258 48.5h1M256 45.5h1M256 48.5h1M281 46.5h1M266 59.5h1M262 62.5h1M259 32.5h1M254 40.5h1M267 21.5h1M272 60.5h1M256 47.5h1M256 30.5h1M278 26.5h1M259 21.5h1M285 38.5h1M266 62.5h1M275 60.5h1M281 35.5h1M259 57.5h1M257 35.5h1M277 55.5h1M282 37.5h1M262 27.5h1" stroke="#ff5100" stroke-width="1" fill="none" stroke-opacity="0.8"/>
<path d="M268.2 22.7 277.1 23.7 281.1 31.6 281.1 45.5 278.1 55.4 267.2 60.5 259.3 55 256.4 41.5 259.3 29.7 263.3 24.7Z" fill="#ff5100" filter="url(#b)"/>
<path d="M393 7.5h1M389 15.5h1M399 14.5h1M401 14.5h1M389 20.5h1M401 20.5h1M390 19.5h1M396 22.5h1M401 13.5h1M401 12.5h1M398 25.5h1M388 17.5h1M390 26.5h1M400 20.5h1M388 22.5h1M399 8.5h1M390 22.5h1M394 22.5h1M389 6.5h1M389 19.5h1M388 11.5h1M397 22.5h1M387 14.5h1M389 23.5h1M398 23.5h1M401 7.5h1M396 23.5h1M400 16.5h1M400 18.5h1M399 15.5h1M389 12.5h1M391 8.5h1M388 12.5h1M399 16.5h1M389 7.5h1M400 23.5h1M388 9.5h1M400 17.5h1M401 11.5h1M400 13.5h1M388 14.5h1M399 21.5h1M393 9.5h1M394 8.5h1M397 20.5h1M392 8.5h1M396 25.5h1M388 21.5h1M399 9.5h1M398 20.5h1M400 14.5h1M401 19.5h1M387 12.5h1M394 23.5h1" stroke="#d2d2d2" stroke-width="1" fill="none" stroke-opacity="0.8"/>
<path d="M388.3 8.9 401.1 8.9 400.2 19.8 396.2 23.7 390.3 22.7Z" fill="#d2d2d2" filter="url(#b)"/>
<path d="M328 86.5h1M379 76.5h1M393 86.5h1M346 81.5h1M337 81.5h1M392 84.5h1M329 84.5h1M386 88.5h1M357 81.5h1M385 91.5h1M332 99.5h1M344 81.5h1M340 82.5h1M356 99.5h1M335 101.5h1M387 81.5h1M358 96.5h1M338 100.5h1M380 94.5h1M334 98.5h1M325 101.5h1M327 93.5h1M351 98.5h1M384 76.5h1M381 91.5h1M388 82.5h1M336 98.5h1M333 99.5h1M363 95.5h1M325 95.5h1M373 78.5h1M344 82.5h1M347 99.5h1M340 99.5h1M329 85.5h1M342 79.5h1M372 79.5h1M332 84.5h1M359 96.5h1M341 98.5h1M335 79.5h1M362 95.5h1M334 100.5h1M330 83.5h1M342 100.5h1M356 96.5h1M375 92.5h1M370 78.5h1M387 82.5h1M382 79.5h1M363 98.5h1M338 103.5h1M364 96.5h1M384 91.5h1M363 80.5h1M386 92.5h1M325 88.5h1M367 94.5h1M355 80.5h1M338 82.5h1M391 90.5h1M341 100.5h1M376 92.5h1M372 93.5h1M386 90.5h1M379 94.5h1M327 89.5h1M363 96.5h1M345 99.5h1M348 99.5h1M387 90.5h1M348 98.5h1M367 79.5h1M355 98.5h1M331 98.5h1M377 94.5h1M370 77.5h1M342 82.5h1M323 88.5h1M363 78.5h1M367 96.5h1M324 98.5h1M364 79.5h1M331 103.5h1M390 83.5h1M385 92.5h1M362 79.5h1M351 80.5h1M347 78.5h1M351 79.5h1M325 91.5h1M332 83.5h1M379 80.5h1M327 87.5h1M383 95.5h1M352 98.5h1M326 94.5h1M388 76.5h1M327 98.5h1M365 79.5h1M390 81.5h1M388 80.5h1M339 99.5h1M333 100.5h1M372 97.5h1M359 77.5h1M392 85.5h1M357 97.5h1M326 93.5h1M346 100.5h1M359 97.5h1M384 80.5h1M327 96.5h1M328 103.5h1M336 82.5h1M368 79.5h1M330 84.5h1M336 100.5h1M345 82.5h1M323 92.5h1M380 79.5h1M327 101.5h1M325 89.5h1M392 89.5h1M391 86.5h1M360 99.5h1M350 98.5h1M358 98.5h1M374 93.5h1M384 79.5h1M389 88.5h1M326 92.5h1M385 89.5h1M375 95.5h1M336 101.5h1M376 93.5h1M326 101.5h1M326 89.5h1M351 99.5h1M370 94.5h1M349 80.5h1M355 97.5h1M348 77.5h1M339 82.5h1M388 87.5h1M380 75.5h1M374 79.5h1M367 78.5h1M385 90.5h1M353 97.5h1M392 83.5h1M377 92.5h1M331 102.5h1M327 90.5h1M326 84.5h1M373 79.5h1M333 82.5h1M331 100.5h1M332 100.5h1M326 102.5h1M394 83.5h1M368 94.5h1M380 80.5h1M376 94.5h1M349 101.5h1M352 77.5h1M393 87.5h1M342 99.5h1M366 79.5h1M334 99.5h1M367 95.5h1M360 97.5h1" stroke="#d2d2d2" stroke-width="1" fill="none" stroke-opacity="0.8"/>
<path d="M327 86 340 82 355 80.5 370 79 385 80 392 84.5 388 89 377 93.5 362 96.5 345 99.5 327 99.5Z" fill="#d2d2d2" filter="url(#b)"/>
<path d="M330 77 340 73 350 70 362.5 67.5 377.5 64.5 385 62 404 59 405 70 398 76 385 77.5 370 79 355 81 340 82.5 330 84Z" fill="#a0a0a2" filter="url(#b2)" fill-opacity="0.45"/>
<path d="M329 76.5h1M331 77.5h1M331 78.5h1M331 82.5h1M332 76.5h1M333 78.5h1M333 81.5h1M334 76.5h1M334 79.5h1M334 80.5h1M335 75.5h1M335 76.5h1M335 77.5h1M335 79.5h1M335 80.5h1M336 75.5h1M336 81.5h1M337 75.5h1M337 76.5h1M337 78.5h1M337 79.5h1M337 81.5h1M338 75.5h1M338 76.5h1M338 77.5h1M338 79.5h1M339 75.5h1M339 76.5h1M339 77.5h1M339 81.5h1M340 75.5h1M340 77.5h1M340 79.5h1M340 82.5h1M341 75.5h1M341 77.5h1M341 81.5h1M342 74.5h1M342 77.5h1M342 79.5h1M342 80.5h1M343 78.5h1M343 79.5h1M343 81.5h1M343 82.5h1M344 74.5h1M344 77.5h1M344 78.5h1M344 79.5h1M344 80.5h1M345 70.5h1M345 72.5h1M345 82.5h1M346 73.5h1M346 75.5h1M346 76.5h1M346 77.5h1M347 70.5h1M347 74.5h1M347 75.5h1M347 76.5h1M347 77.5h1M347 78.5h1M347 79.5h1M348 71.5h1M348 72.5h1M348 75.5h1M348 78.5h1M348 80.5h1M349 69.5h1M349 73.5h1M349 74.5h1M349 75.5h1M349 76.5h1M349 77.5h1M349 79.5h1M350 75.5h1M350 76.5h1M350 77.5h1M350 79.5h1M350 80.5h1M351 74.5h1M351 78.5h1M352 74.5h1M352 75.5h1M352 77.5h1M352 78.5h1M352 79.5h1M353 74.5h1M353 76.5h1M353 77.5h1M353 78.5h1M353 80.5h1M354 68.5h1M354 72.5h1M354 73.5h1M354 76.5h1M354 77.5h1M354 79.5h1M355 68.5h1M355 69.5h1M355 72.5h1M355 73.5h1M355 77.5h1M355 78.5h1M355 80.5h1M356 74.5h1M356 80.5h1M357 71.5h1M357 74.5h1M357 75.5h1M357 76.5h1M357 77.5h1M357 79.5h1M358 72.5h1M358 74.5h1M358 78.5h1M358 79.5h1M358 80.5h1M359 67.5h1M359 69.5h1M359 76.5h1M359 77.5h1M360 69.5h1M360 70.5h1M360 78.5h1M361 68.5h1M361 69.5h1M361 71.5h1M361 72.5h1M361 75.5h1M361 77.5h1M361 78.5h1M361 80.5h1M362 68.5h1M362 70.5h1M362 71.5h1M362 73.5h1M362 75.5h1M362 76.5h1M362 77.5h1M362 78.5h1M363 68.5h1M363 71.5h1M363 73.5h1M363 74.5h1M363 76.5h1M363 77.5h1M363 78.5h1M364 68.5h1M364 74.5h1M364 75.5h1M365 70.5h1M365 71.5h1M365 74.5h1M365 77.5h1M365 79.5h1M366 67.5h1M366 68.5h1M366 69.5h1M366 70.5h1M366 73.5h1M366 76.5h1M366 78.5h1M366 79.5h1M367 70.5h1M367 72.5h1M367 73.5h1M368 66.5h1M368 70.5h1M368 71.5h1M368 73.5h1M368 77.5h1M369 68.5h1M369 69.5h1M369 72.5h1M369 73.5h1M370 70.5h1M370 72.5h1M370 74.5h1M371 65.5h1M371 68.5h1M371 69.5h1M371 73.5h1M371 75.5h1M371 77.5h1M372 69.5h1M372 71.5h1M372 73.5h1M373 74.5h1M373 76.5h1M374 68.5h1M374 69.5h1M374 71.5h1M374 75.5h1M374 76.5h1M375 69.5h1M375 75.5h1M375 79.5h1M376 66.5h1M376 69.5h1M376 70.5h1M376 74.5h1M376 75.5h1M376 78.5h1M377 65.5h1M377 67.5h1M377 73.5h1M377 74.5h1M377 77.5h1M378 67.5h1M378 71.5h1M378 72.5h1M378 73.5h1M378 74.5h1M378 75.5h1M378 76.5h1M378 77.5h1M379 63.5h1M379 65.5h1M379 67.5h1M379 68.5h1M379 69.5h1M379 71.5h1M379 72.5h1M379 74.5h1M379 75.5h1M379 76.5h1M380 64.5h1M380 65.5h1M380 67.5h1M380 72.5h1M380 74.5h1M381 64.5h1M381 65.5h1M381 72.5h1M381 74.5h1M381 75.5h1M382 62.5h1M382 65.5h1M382 66.5h1M382 71.5h1M382 74.5h1M382 76.5h1M382 77.5h1M383 68.5h1M384 64.5h1M384 65.5h1M384 66.5h1M384 67.5h1M384 68.5h1M384 72.5h1M384 74.5h1M384 75.5h1M385 62.5h1M385 65.5h1M385 66.5h1M385 67.5h1M385 68.5h1M385 72.5h1M385 73.5h1M385 75.5h1M386 66.5h1M386 70.5h1M386 72.5h1M387 65.5h1M387 66.5h1M387 67.5h1M387 69.5h1M387 70.5h1M387 73.5h1M387 76.5h1M387 77.5h1M388 62.5h1M388 63.5h1M388 64.5h1M388 67.5h1M388 70.5h1M388 76.5h1M389 63.5h1M389 64.5h1M389 65.5h1M389 66.5h1M389 67.5h1M389 68.5h1M389 71.5h1M389 74.5h1M390 63.5h1M390 64.5h1M390 65.5h1M390 69.5h1M390 74.5h1M390 75.5h1M391 60.5h1M391 61.5h1M391 62.5h1M391 63.5h1M391 67.5h1M391 72.5h1M392 62.5h1M392 66.5h1M392 67.5h1M392 68.5h1M392 70.5h1M392 72.5h1M392 73.5h1M392 75.5h1M393 61.5h1M393 62.5h1M393 64.5h1M393 66.5h1M393 71.5h1M393 74.5h1M394 61.5h1M394 63.5h1M394 64.5h1M394 66.5h1M394 69.5h1M394 75.5h1M395 65.5h1M395 68.5h1M395 72.5h1M395 74.5h1M395 76.5h1M396 63.5h1M396 69.5h1M396 72.5h1M396 73.5h1M396 74.5h1M396 75.5h1M397 62.5h1M397 64.5h1M397 66.5h1M397 67.5h1M397 69.5h1M397 70.5h1M398 60.5h1M398 61.5h1M398 63.5h1M398 68.5h1M398 71.5h1M398 72.5h1M399 58.5h1M399 61.5h1M399 65.5h1M399 66.5h1M399 67.5h1M399 70.5h1M399 71.5h1M399 73.5h1M399 74.5h1M400 60.5h1M400 61.5h1M400 63.5h1M400 67.5h1M400 69.5h1M400 71.5h1M400 74.5h1M401 60.5h1M401 61.5h1M401 64.5h1M401 65.5h1M401 66.5h1M401 69.5h1M401 70.5h1M401 72.5h1M402 61.5h1M402 64.5h1M402 66.5h1M402 69.5h1M403 59.5h1M403 61.5h1M403 64.5h1M404 62.5h1M404 65.5h1M404 68.5h1M405 64.5h1M405 65.5h1" stroke="#a0a0a2" stroke-width="1" fill="none"/>
<path d="M384 64.5h1M400 55.5h1M384 63.5h1M408 58.5h1M403 56.5h1M407 68.5h1M387 72.5h1M398 72.5h1M402 70.5h1M397 56.5h1M384 59.5h1M388 57.5h1M381 64.5h1M384 70.5h1M390 73.5h1M403 69.5h1M404 64.5h1M390 57.5h1M405 65.5h1M383 72.5h1M397 75.5h1M391 57.5h1M383 69.5h1M382 63.5h1M392 56.5h1M393 58.5h1M401 71.5h1M384 68.5h1M384 65.5h1M392 72.5h1M391 77.5h1M407 63.5h1M402 54.5h1M385 65.5h1M405 64.5h1M405 60.5h1M383 57.5h1M396 72.5h1M391 56.5h1M396 73.5h1M403 61.5h1M384 73.5h1M392 75.5h1M397 54.5h1M382 68.5h1M384 60.5h1M389 72.5h1M398 53.5h1M381 60.5h1M385 58.5h1M406 60.5h1M401 72.5h1M388 72.5h1M398 57.5h1M385 57.5h1M404 65.5h1M396 54.5h1M383 62.5h1M384 72.5h1M383 71.5h1M387 75.5h1M386 71.5h1M400 52.5h1M385 70.5h1M390 72.5h1M387 57.5h1" stroke="#a0a0a2" stroke-width="1" fill="none" stroke-opacity="0.8"/>
<path d="M384.3 58 404 56 405 70 396 74 385 72Z" fill="#a0a0a2" filter="url(#b)"/>
<path d="M408 32.5h1M403 25.5h1M397 64.5h1M397 59.5h1M393 23.5h1M382 53.5h1M399 56.5h1M383 57.5h1M406 43.5h1M393 65.5h1M381 40.5h1M403 53.5h1M380 38.5h1M403 23.5h1M404 50.5h1M406 45.5h1M401 22.5h1M397 60.5h1M389 60.5h1M378 45.5h1M392 24.5h1M401 59.5h1M379 33.5h1M387 27.5h1M404 26.5h1M403 51.5h1M382 55.5h1M407 37.5h1M404 28.5h1M400 21.5h1M389 25.5h1M382 51.5h1M389 59.5h1M406 42.5h1M380 49.5h1M405 30.5h1M407 34.5h1M394 59.5h1M383 19.5h1M401 20.5h1M393 61.5h1M391 60.5h1M395 61.5h1M380 50.5h1M407 36.5h1M386 59.5h1M391 61.5h1M388 22.5h1M379 47.5h1M389 19.5h1M380 46.5h1M385 60.5h1M407 28.5h1M382 34.5h1M380 44.5h1M388 59.5h1M381 52.5h1M385 25.5h1M408 30.5h1M405 39.5h1M394 61.5h1M400 56.5h1M381 43.5h1M385 29.5h1M379 46.5h1M391 23.5h1M405 34.5h1M384 57.5h1M387 25.5h1M386 27.5h1M403 52.5h1M405 38.5h1M383 56.5h1M382 35.5h1M404 49.5h1M382 50.5h1M380 40.5h1M399 60.5h1M385 59.5h1M385 28.5h1M377 42.5h1M388 24.5h1M402 53.5h1M405 46.5h1M402 54.5h1M386 26.5h1M381 35.5h1M405 41.5h1M383 53.5h1M380 31.5h1M403 50.5h1M379 56.5h1M380 36.5h1M386 28.5h1M386 61.5h1M406 27.5h1M381 42.5h1M393 24.5h1M396 23.5h1M382 52.5h1M408 53.5h1M379 57.5h1M381 38.5h1M379 48.5h1M394 22.5h1M384 54.5h1M400 57.5h1M392 60.5h1M405 48.5h1M398 22.5h1M388 23.5h1M382 33.5h1M377 38.5h1M406 46.5h1M394 23.5h1M401 23.5h1M385 31.5h1M406 28.5h1M387 24.5h1M383 55.5h1M401 54.5h1M380 51.5h1M401 56.5h1M393 22.5h1M381 29.5h1M397 21.5h1M376 45.5h1M384 27.5h1M406 29.5h1M406 49.5h1M383 26.5h1M403 24.5h1M405 49.5h1M403 59.5h1M383 28.5h1M381 47.5h1M405 50.5h1M407 35.5h1M390 25.5h1M405 28.5h1M404 46.5h1M404 48.5h1M389 21.5h1M407 41.5h1M377 53.5h1M378 34.5h1M406 26.5h1M396 21.5h1M385 57.5h1M406 37.5h1M396 59.5h1M392 64.5h1M396 22.5h1M402 55.5h1M399 58.5h1M405 33.5h1M398 58.5h1M381 31.5h1M405 59.5h1M405 44.5h1M382 56.5h1M409 33.5h1M382 30.5h1M384 28.5h1M394 63.5h1M390 60.5h1M406 41.5h1M384 56.5h1M377 44.5h1M402 20.5h1M405 47.5h1M394 21.5h1M407 49.5h1M401 55.5h1M408 39.5h1M380 52.5h1M388 25.5h1M400 23.5h1M380 35.5h1M401 63.5h1M402 24.5h1M406 40.5h1M403 54.5h1M387 58.5h1M397 22.5h1M380 48.5h1M404 27.5h1M396 24.5h1M404 20.5h1M408 31.5h1M400 19.5h1M379 36.5h1M407 53.5h1M381 32.5h1M376 39.5h1M383 60.5h1M383 29.5h1M410 46.5h1M407 27.5h1M384 29.5h1M403 22.5h1M381 44.5h1M381 34.5h1M393 59.5h1M384 60.5h1M391 24.5h1M391 25.5h1M384 55.5h1M381 50.5h1M395 59.5h1M408 34.5h1M398 57.5h1M378 49.5h1M387 62.5h1M410 31.5h1M379 52.5h1M378 35.5h1M396 20.5h1M405 31.5h1M381 51.5h1M380 37.5h1M409 32.5h1" stroke="#ff5100" stroke-width="1" fill="none" stroke-opacity="0.8"/>
<path d="M392.2 23.7 402.1 22.7 406.1 29.7 406.1 43.5 404.1 53.4 398.2 59.3 390.3 61.3 384.3 57.4 380.4 47.5 381.4 35.6 386.3 27.7Z" fill="#ff5100" filter="url(#b)"/>
<path d="M516 22.5h1M529 13.5h1M517 24.5h1M516 27.5h1M528 17.5h1M530 6.5h1M525 6.5h1M528 11.5h1M531 9.5h1M525 21.5h1M514 23.5h1M515 13.5h1M526 7.5h1M518 6.5h1M524 6.5h1M512 14.5h1M520 24.5h1M514 9.5h1M514 15.5h1M521 27.5h1M526 6.5h1M527 17.5h1M521 23.5h1M526 24.5h1M526 5.5h1M524 23.5h1M515 10.5h1M523 23.5h1M515 22.5h1M517 5.5h1M527 21.5h1M531 17.5h1M521 24.5h1M528 12.5h1M514 10.5h1M512 10.5h1M526 20.5h1M524 5.5h1M514 13.5h1M527 19.5h1M515 14.5h1M512 18.5h1M516 16.5h1M523 4.5h1M516 24.5h1M522 4.5h1M526 21.5h1M513 14.5h1M524 7.5h1M522 23.5h1M529 15.5h1" stroke="#d2d2d2" stroke-width="1" fill="none" stroke-opacity="0.8"/>
<path d="M514.5 6.5 529.5 6.5 529 17 525 24 516 25Z" fill="#d2d2d2" filter="url(#b)"/>
<path d="M521 94.5h1M463 85.5h1M488 74.5h1M512 89.5h1M506 79.5h1M488 96.5h1M465 81.5h1M515 80.5h1M469 96.5h1M466 81.5h1M530 81.5h1M516 87.5h1M464 90.5h1M485 95.5h1M501 74.5h1M522 87.5h1M482 78.5h1M493 78.5h1M510 89.5h1M475 98.5h1M466 94.5h1M510 90.5h1M521 91.5h1M492 94.5h1M489 78.5h1M477 98.5h1M509 89.5h1M479 97.5h1M502 92.5h1M517 88.5h1M467 82.5h1M528 83.5h1M524 92.5h1M466 82.5h1M469 98.5h1M465 96.5h1M478 79.5h1M481 76.5h1M527 85.5h1M474 98.5h1M524 81.5h1M499 91.5h1M530 84.5h1M523 91.5h1M515 77.5h1M470 99.5h1M481 97.5h1M513 80.5h1M504 91.5h1M526 85.5h1M508 80.5h1M467 95.5h1M472 75.5h1M520 87.5h1M528 80.5h1M501 90.5h1M476 79.5h1M530 89.5h1M491 79.5h1M525 83.5h1M497 94.5h1M469 81.5h1M466 95.5h1M494 93.5h1M465 93.5h1M526 86.5h1M516 80.5h1M506 80.5h1M511 89.5h1M488 79.5h1M494 78.5h1M479 79.5h1M487 79.5h1M498 76.5h1M509 79.5h1M505 80.5h1M499 78.5h1M476 99.5h1M487 95.5h1M491 77.5h1M515 89.5h1M490 99.5h1M480 77.5h1M481 78.5h1M525 88.5h1M497 92.5h1M505 78.5h1M464 93.5h1M484 96.5h1M465 88.5h1M492 93.5h1M508 89.5h1M524 90.5h1M517 90.5h1M516 81.5h1M506 90.5h1M524 87.5h1M514 79.5h1M515 88.5h1M465 87.5h1M501 78.5h1M498 79.5h1M528 88.5h1M475 78.5h1M504 80.5h1M520 89.5h1M482 97.5h1M466 79.5h1M464 87.5h1M486 95.5h1M482 77.5h1M504 74.5h1M500 78.5h1M512 92.5h1M464 89.5h1M499 93.5h1M486 78.5h1M480 75.5h1M466 96.5h1M496 79.5h1M508 79.5h1M464 84.5h1M465 92.5h1M483 96.5h1M478 99.5h1M477 97.5h1M499 92.5h1M494 94.5h1M475 79.5h1M469 97.5h1M472 81.5h1M463 89.5h1M464 82.5h1M522 88.5h1M527 89.5h1M496 92.5h1M472 97.5h1M512 90.5h1M527 83.5h1M519 80.5h1M487 96.5h1M483 78.5h1M500 77.5h1M513 79.5h1M471 80.5h1M478 78.5h1M468 81.5h1M485 77.5h1M521 89.5h1M485 101.5h1M493 93.5h1M491 94.5h1M481 79.5h1M483 95.5h1M504 75.5h1M489 94.5h1M508 93.5h1M523 89.5h1M511 79.5h1M481 96.5h1M519 82.5h1M467 97.5h1M506 76.5h1M461 91.5h1M501 96.5h1M476 97.5h1M500 91.5h1M480 97.5h1M488 98.5h1M515 81.5h1M465 83.5h1M523 87.5h1M464 91.5h1" stroke="#d2d2d2" stroke-width="1" fill="none" stroke-opacity="0.8"/>
<path d="M465.9 83 477.8 78.5 497.6 79 517.3 81.1 527.2 83.1 527.2 87.5 507.4 90 493.6 94 477.8 98.5 467.9 97.5 464 91Z" fill="#d2d2d2" filter="url(#b)"/>
<path d="M539 80.5h1M542 70.5h1M518 63.5h1M538 80.5h1M540 61.5h1M524 53.5h1M519 76.5h1M526 53.5h1M517 58.5h1M513 68.5h1M541 73.5h1M541 79.5h1M541 69.5h1M544 81.5h1M520 57.5h1M542 63.5h1M519 74.5h1M526 82.5h1M521 79.5h1M525 80.5h1M531 82.5h1M523 79.5h1M523 55.5h1M542 68.5h1M532 81.5h1M521 55.5h1M535 53.5h1M536 57.5h1M541 61.5h1M541 70.5h1M522 82.5h1M517 72.5h1M537 58.5h1M540 59.5h1M535 56.5h1M533 54.5h1M520 76.5h1M541 65.5h1M545 84.5h1M540 78.5h1M540 80.5h1M542 66.5h1M542 57.5h1M538 57.5h1M531 53.5h1M516 64.5h1M525 54.5h1M539 57.5h1M531 54.5h1M540 63.5h1M543 65.5h1M517 59.5h1M542 71.5h1M533 56.5h1M518 75.5h1M537 80.5h1M541 63.5h1M518 59.5h1M532 52.5h1M539 59.5h1M518 65.5h1M537 81.5h1M541 68.5h1M520 79.5h1M521 80.5h1M533 81.5h1M517 64.5h1M515 70.5h1M516 62.5h1M518 78.5h1M518 70.5h1M519 58.5h1M519 59.5h1M526 55.5h1M529 83.5h1M517 65.5h1M528 54.5h1M530 81.5h1M540 77.5h1M539 52.5h1M530 52.5h1M532 82.5h1M521 78.5h1M534 81.5h1M540 60.5h1M514 65.5h1M522 79.5h1M517 69.5h1M522 81.5h1M513 73.5h1M532 53.5h1M523 52.5h1M517 55.5h1M540 85.5h1M525 83.5h1M516 69.5h1M520 78.5h1M537 79.5h1M542 73.5h1M539 76.5h1M523 54.5h1M533 55.5h1M518 56.5h1M520 75.5h1M539 78.5h1M539 58.5h1M540 58.5h1M531 84.5h1M542 69.5h1M518 71.5h1M534 54.5h1M539 79.5h1M535 82.5h1M519 73.5h1M526 81.5h1M540 79.5h1M532 51.5h1M519 75.5h1M526 80.5h1M530 84.5h1M542 79.5h1M543 57.5h1M538 78.5h1M517 57.5h1M543 66.5h1M522 53.5h1M538 58.5h1M541 67.5h1M540 57.5h1M520 58.5h1M520 80.5h1M516 60.5h1M535 81.5h1M541 84.5h1M517 68.5h1M521 56.5h1M542 78.5h1M518 61.5h1M541 71.5h1M524 56.5h1M532 83.5h1M517 80.5h1M517 66.5h1M522 51.5h1M544 63.5h1M525 81.5h1M542 65.5h1M518 57.5h1M530 51.5h1M538 77.5h1M515 66.5h1M524 55.5h1" stroke="#a0a0a2" stroke-width="1" fill="none" stroke-opacity="0.8"/>
<path d="M523.3 55.4 531.2 53.4 540.1 59.3 543 67.2 539.1 79.1 531.2 83.1 521.3 79.1 517.3 69.2 518.3 59.3Z" fill="#a0a0a2" filter="url(#b)"/>
<path d="M511 25.5h1M519 57.5h1M531 42.5h1M529 38.5h1M530 42.5h1M504 49.5h1M525 50.5h1M524 45.5h1M529 42.5h1M499 33.5h1M526 45.5h1M534 26.5h1M513 59.5h1M503 46.5h1M520 51.5h1M519 53.5h1M527 44.5h1M519 22.5h1M515 56.5h1M525 43.5h1M531 22.5h1M523 21.5h1M514 56.5h1M507 54.5h1M524 49.5h1M513 57.5h1M508 57.5h1M511 26.5h1M501 35.5h1M521 49.5h1M515 21.5h1M517 24.5h1M506 54.5h1M526 42.5h1M500 45.5h1M528 35.5h1M501 38.5h1M523 47.5h1M503 49.5h1M497 40.5h1M522 22.5h1M503 48.5h1M517 53.5h1M505 29.5h1M503 36.5h1M526 22.5h1M512 25.5h1M518 55.5h1M521 53.5h1M529 35.5h1M512 22.5h1M526 41.5h1M502 50.5h1M530 30.5h1M502 41.5h1M529 37.5h1M524 21.5h1M529 33.5h1M526 23.5h1M510 56.5h1M518 52.5h1M519 54.5h1M529 29.5h1M526 19.5h1M501 39.5h1M501 44.5h1M510 21.5h1M513 25.5h1M509 26.5h1M521 51.5h1M523 22.5h1M508 29.5h1M517 23.5h1M502 48.5h1M501 43.5h1M502 42.5h1M512 24.5h1M512 26.5h1M519 51.5h1M528 41.5h1M528 26.5h1M507 25.5h1M529 32.5h1M498 42.5h1M530 40.5h1M505 53.5h1M507 29.5h1M513 24.5h1M500 48.5h1M520 56.5h1M523 48.5h1M509 23.5h1M508 28.5h1M519 52.5h1M528 38.5h1M528 33.5h1M524 17.5h1M525 21.5h1M514 25.5h1M505 50.5h1M504 53.5h1M527 22.5h1M528 25.5h1M522 20.5h1M500 31.5h1M529 24.5h1M517 22.5h1M497 53.5h1M506 29.5h1M529 20.5h1M516 22.5h1M521 19.5h1M504 51.5h1M525 22.5h1M528 24.5h1M513 22.5h1M516 57.5h1M529 44.5h1M512 56.5h1M530 26.5h1M533 29.5h1M506 56.5h1M532 31.5h1M504 29.5h1M527 37.5h1M525 23.5h1M531 26.5h1M527 39.5h1M527 38.5h1M502 36.5h1M502 47.5h1M506 28.5h1M524 20.5h1M527 41.5h1M502 30.5h1M502 44.5h1M509 54.5h1M525 46.5h1M530 36.5h1M512 23.5h1M514 57.5h1M521 22.5h1M529 54.5h1M531 31.5h1M514 24.5h1M504 54.5h1M517 55.5h1M522 23.5h1M502 43.5h1M527 42.5h1M525 20.5h1M509 27.5h1M503 34.5h1M501 46.5h1M530 32.5h1M530 25.5h1M532 35.5h1M505 26.5h1M530 33.5h1M530 28.5h1M532 34.5h1M523 46.5h1M503 50.5h1M525 16.5h1M509 58.5h1M517 21.5h1M528 31.5h1M520 54.5h1M503 55.5h1M510 57.5h1M518 53.5h1M531 20.5h1M520 55.5h1M509 56.5h1M510 54.5h1M507 21.5h1M502 39.5h1M500 44.5h1M502 34.5h1M503 39.5h1M512 57.5h1M505 55.5h1M529 23.5h1M530 21.5h1M500 37.5h1M519 55.5h1M526 43.5h1M505 52.5h1M523 20.5h1M527 46.5h1M511 22.5h1M508 53.5h1M528 23.5h1M513 56.5h1M509 25.5h1M528 39.5h1M496 31.5h1M503 53.5h1M517 54.5h1M528 40.5h1M517 56.5h1M524 51.5h1M523 16.5h1M504 25.5h1M530 34.5h1M508 24.5h1M523 18.5h1M502 32.5h1M510 23.5h1M502 31.5h1M520 22.5h1M499 42.5h1M501 52.5h1M529 36.5h1" stroke="#ff0000" stroke-width="1" fill="none" stroke-opacity="0.8"/>
<path d="M511.4 25.5 523 22 529 23.5 530 29.7 527.5 41.5 521.3 51.4 513.4 57.4 505.5 53.4 501.5 43.5 503.5 32Z" fill="#ff0000" filter="url(#b)"/>
<path d="M115 147.5h1M115 152.5h1M116 147.5h1M116 149.5h1M116 150.5h1M116 157.5h1M116 160.5h1M117 151.5h1M117 152.5h1M118 148.5h1M118 151.5h1M119 149.5h1M119 150.5h1M119 152.5h1M119 156.5h1M119 158.5h1M120 147.5h1M120 151.5h1M120 153.5h1M120 154.5h1M120 157.5h1M121 151.5h1M121 158.5h1M122 148.5h1M122 155.5h1M123 149.5h1M123 150.5h1M123 151.5h1M124 147.5h1M124 149.5h1M124 156.5h1M124 157.5h1M124 159.5h1M125 150.5h1M125 151.5h1M125 152.5h1M125 157.5h1M126 146.5h1M126 156.5h1M126 157.5h1M127 148.5h1M127 153.5h1M127 154.5h1M127 156.5h1M127 157.5h1M128 149.5h1M128 154.5h1M128 155.5h1M129 155.5h1M129 159.5h1M130 148.5h1M130 151.5h1M130 152.5h1M130 154.5h1M130 157.5h1M131 158.5h1M132 147.5h1M132 149.5h1M132 151.5h1M132 155.5h1M133 146.5h1M133 149.5h1M133 157.5h1" stroke="#d2d2d2" stroke-width="1" fill="none"/>
<path d="M106 210.5h1M103 228.5h1M103 215.5h1M100 218.5h1M112 225.5h1M107 210.5h1M99 224.5h1M102 231.5h1M119 222.5h1M103 216.5h1M107 211.5h1M99 230.5h1M101 228.5h1M110 225.5h1M119 221.5h1M98 231.5h1M98 228.5h1M113 223.5h1M96 228.5h1M99 231.5h1M119 219.5h1M101 220.5h1M109 226.5h1M97 232.5h1M112 212.5h1M108 212.5h1M98 223.5h1M102 216.5h1M111 211.5h1M117 222.5h1M118 213.5h1M120 216.5h1M99 223.5h1M110 212.5h1M108 231.5h1M102 227.5h1M116 213.5h1M102 218.5h1M103 214.5h1M108 213.5h1M100 228.5h1M98 222.5h1M105 227.5h1M97 221.5h1M119 215.5h1M114 224.5h1M119 213.5h1M119 220.5h1M118 221.5h1M96 223.5h1M117 213.5h1M100 216.5h1M99 221.5h1M97 226.5h1M119 216.5h1M115 226.5h1M111 231.5h1M119 218.5h1M120 218.5h1M123 220.5h1M100 214.5h1M103 229.5h1M109 210.5h1M118 223.5h1M114 210.5h1M96 229.5h1M117 212.5h1M102 230.5h1M97 225.5h1M105 214.5h1M98 221.5h1M112 210.5h1M100 220.5h1M97 228.5h1M102 217.5h1M118 210.5h1M124 217.5h1M117 228.5h1M119 226.5h1M101 232.5h1M97 229.5h1M104 212.5h1M115 222.5h1M109 227.5h1M102 229.5h1M98 226.5h1M119 211.5h1M116 223.5h1M100 229.5h1M118 220.5h1M116 221.5h1M105 228.5h1" stroke="#d2d2d2" stroke-width="1" fill="none" stroke-opacity="0.8"/>
<path d="M97.5 227.7 101.1 218.8 104.7 213.4 111.9 211.6 119 213.4 120.8 218.8 115.4 224.1 104.7 228.6 98.4 229.5Z" fill="#d2d2d2" filter="url(#b)"/>
<path d="M124 199.5h1M113 213.5h1M121 204.5h1M121 203.5h1M118 193.5h1M112 212.5h1M123 192.5h1M115 194.5h1M104 209.5h1M104 208.5h1M117 209.5h1M125 189.5h1M104 187.5h1M108 211.5h1M126 193.5h1M115 214.5h1M117 211.5h1M107 207.5h1M109 211.5h1M122 204.5h1M107 197.5h1M125 195.5h1M118 191.5h1M122 205.5h1M113 212.5h1M107 203.5h1M125 196.5h1M115 210.5h1M111 197.5h1M115 209.5h1M125 194.5h1M108 214.5h1M111 199.5h1M110 212.5h1M119 208.5h1M126 197.5h1M123 200.5h1M124 200.5h1M108 200.5h1M118 188.5h1M119 206.5h1M121 191.5h1M123 188.5h1M108 199.5h1M114 212.5h1M120 189.5h1M121 205.5h1M108 212.5h1M108 205.5h1M124 202.5h1M118 209.5h1M106 210.5h1M112 196.5h1M124 190.5h1M124 201.5h1M105 209.5h1M115 196.5h1M117 192.5h1M106 201.5h1M107 205.5h1M112 213.5h1M122 190.5h1M126 190.5h1M109 196.5h1M118 207.5h1M123 197.5h1M124 194.5h1M107 201.5h1M124 204.5h1M124 192.5h1" stroke="#a0a0a2" stroke-width="1" fill="none" stroke-opacity="0.8"/>
<path d="M111.9 197.3 120.8 190.1 125.3 193.7 123.5 202.7 117.2 209.8 110.1 213.4 105.6 209.8Z" fill="#a0a0a2" filter="url(#b)"/>
<path d="M122 208.5h1M122 210.5h1M123 201.5h1M123 205.5h1M124 199.5h1M124 200.5h1M124 202.5h1M124 204.5h1M124 209.5h1M125 193.5h1M125 202.5h1M126 198.5h1M126 203.5h1M126 207.5h1M127 194.5h1M127 197.5h1M127 202.5h1M127 204.5h1M128 193.5h1M128 203.5h1M129 193.5h1M130 189.5h1M130 197.5h1M130 199.5h1M130 210.5h1M131 190.5h1M131 199.5h1M131 200.5h1M131 209.5h1M133 202.5h1" stroke="#a0a0a2" stroke-width="1" fill="none"/>
<path d="M118 173 127 163 137 157.5 145.5 157 146 163 140 171 132 178 124 183Z" fill="#ff5100" filter="url(#b2)" fill-opacity="0.25"/>
<path d="M117 171.5h1M117 172.5h1M118 171.5h1M118 173.5h1M119 171.5h1M119 173.5h1M119 175.5h1M120 170.5h1M120 171.5h1M120 173.5h1M120 174.5h1M121 168.5h1M121 170.5h1M121 174.5h1M121 176.5h1M121 177.5h1M122 169.5h1M122 170.5h1M122 171.5h1M122 173.5h1M122 174.5h1M122 176.5h1M122 178.5h1M122 180.5h1M123 167.5h1M123 169.5h1M123 170.5h1M123 171.5h1M123 172.5h1M123 178.5h1M123 179.5h1M124 169.5h1M124 171.5h1M124 176.5h1M124 180.5h1M124 181.5h1M124 182.5h1M125 167.5h1M125 168.5h1M125 169.5h1M125 172.5h1M125 180.5h1M125 182.5h1M126 167.5h1M126 171.5h1M126 172.5h1M126 173.5h1M126 174.5h1M126 175.5h1M126 178.5h1M127 164.5h1M127 167.5h1M127 168.5h1M127 169.5h1M127 170.5h1M127 174.5h1M127 175.5h1M128 163.5h1M128 164.5h1M128 165.5h1M128 167.5h1M128 169.5h1M128 170.5h1M128 171.5h1M128 174.5h1M128 176.5h1M128 177.5h1M128 180.5h1M129 161.5h1M129 164.5h1M129 167.5h1M129 169.5h1M129 170.5h1M129 171.5h1M129 172.5h1M129 173.5h1M129 175.5h1M129 176.5h1M130 162.5h1M130 164.5h1M130 169.5h1M130 170.5h1M130 172.5h1M130 174.5h1M130 175.5h1M130 176.5h1M131 162.5h1M131 163.5h1M131 165.5h1M131 166.5h1M131 168.5h1M131 170.5h1M131 171.5h1M131 174.5h1M131 176.5h1M131 177.5h1M132 162.5h1M132 163.5h1M132 169.5h1M132 170.5h1M132 174.5h1M132 176.5h1M132 177.5h1M133 159.5h1M133 161.5h1M133 162.5h1M133 164.5h1M133 166.5h1M133 169.5h1M133 173.5h1M134 159.5h1M134 161.5h1M134 164.5h1M134 169.5h1M134 170.5h1M134 173.5h1M135 159.5h1M135 161.5h1M135 163.5h1M135 164.5h1M135 165.5h1M135 167.5h1M135 170.5h1M135 173.5h1M136 160.5h1M136 162.5h1M136 166.5h1M136 167.5h1M137 157.5h1M137 158.5h1M137 159.5h1M137 162.5h1M137 164.5h1M137 166.5h1M137 167.5h1M137 168.5h1M137 171.5h1M138 156.5h1M138 158.5h1M138 161.5h1M138 162.5h1M138 167.5h1M138 170.5h1M138 172.5h1M139 161.5h1M139 163.5h1M139 166.5h1M139 169.5h1M140 158.5h1M140 159.5h1M140 162.5h1M140 164.5h1M140 165.5h1M140 166.5h1M140 167.5h1M140 168.5h1M141 158.5h1M141 159.5h1M141 162.5h1M141 164.5h1M141 165.5h1M142 159.5h1M142 163.5h1M142 165.5h1M142 166.5h1M142 167.5h1M143 159.5h1M143 162.5h1M143 163.5h1M143 164.5h1M143 167.5h1M144 161.5h1M144 163.5h1M145 159.5h1M145 164.5h1" stroke="#ff5100" stroke-width="1" fill="none"/>
<path d="M105 205.5h1M122 187.5h1M102 194.5h1M113 172.5h1M129 179.5h1M121 191.5h1M104 183.5h1M103 199.5h1M123 185.5h1M117 193.5h1M123 167.5h1M104 208.5h1M105 176.5h1M112 167.5h1M116 196.5h1M114 201.5h1M106 205.5h1M115 198.5h1M112 173.5h1M130 167.5h1M111 173.5h1M117 168.5h1M111 170.5h1M103 187.5h1M101 193.5h1M110 174.5h1M120 189.5h1M127 178.5h1M113 203.5h1M124 186.5h1M127 172.5h1M129 180.5h1M103 185.5h1M117 170.5h1M102 198.5h1M104 182.5h1M106 171.5h1M119 169.5h1M107 203.5h1M121 185.5h1M109 203.5h1M127 182.5h1M115 197.5h1M125 184.5h1M101 192.5h1M124 181.5h1M110 202.5h1M99 195.5h1M117 167.5h1M104 205.5h1M99 199.5h1M102 205.5h1M116 170.5h1M124 183.5h1M118 193.5h1M116 194.5h1M126 168.5h1M127 176.5h1M126 176.5h1M115 196.5h1M123 184.5h1M113 200.5h1M129 166.5h1M105 180.5h1M102 197.5h1M111 200.5h1M116 168.5h1M126 182.5h1M109 175.5h1M126 174.5h1M122 168.5h1M119 193.5h1M111 172.5h1M126 175.5h1M118 201.5h1M119 190.5h1M122 189.5h1M103 183.5h1M128 170.5h1M114 170.5h1M104 180.5h1M102 187.5h1M114 171.5h1M99 201.5h1M114 199.5h1M107 204.5h1M121 187.5h1M102 191.5h1M119 168.5h1M121 167.5h1M112 200.5h1M104 177.5h1M100 190.5h1M115 195.5h1M111 174.5h1M104 181.5h1M104 178.5h1M105 181.5h1M112 199.5h1M106 177.5h1M112 172.5h1M104 209.5h1M127 169.5h1M120 166.5h1M103 203.5h1M125 180.5h1M103 195.5h1M102 192.5h1M101 184.5h1M125 178.5h1M106 206.5h1M108 204.5h1M101 186.5h1M122 185.5h1M102 189.5h1M114 197.5h1M121 190.5h1M123 183.5h1M121 168.5h1M127 177.5h1M104 204.5h1M103 186.5h1M102 202.5h1M107 176.5h1M101 187.5h1M108 176.5h1M124 166.5h1M101 198.5h1M122 165.5h1M116 200.5h1M105 203.5h1M122 167.5h1M114 169.5h1M118 169.5h1M106 179.5h1M118 167.5h1M124 185.5h1M121 188.5h1M110 204.5h1M121 195.5h1M127 174.5h1M105 171.5h1M101 191.5h1M115 199.5h1M106 180.5h1M104 202.5h1M107 208.5h1M120 197.5h1M118 192.5h1M103 201.5h1M124 180.5h1M113 198.5h1M128 169.5h1M125 176.5h1M127 171.5h1M126 178.5h1M113 201.5h1M119 192.5h1M113 171.5h1M104 206.5h1M108 207.5h1M109 205.5h1M102 199.5h1M128 173.5h1M109 206.5h1M124 163.5h1M102 195.5h1M110 173.5h1M120 188.5h1M122 184.5h1M124 167.5h1M117 195.5h1M122 193.5h1M127 173.5h1M115 169.5h1M99 192.5h1M113 170.5h1M129 168.5h1M129 171.5h1M127 175.5h1M103 176.5h1M113 199.5h1M106 204.5h1" stroke="#ff5100" stroke-width="1" fill="none" stroke-opacity="0.8"/>
<path d="M102.9 184.8 106.5 177.6 113.6 171.3 122.6 167.7 128 168.6 127.1 175.8 123.5 184.8 118.1 193.7 111.9 200.9 105.6 206.2 102.5 200.9 102 191.9Z" fill="#ff5100" filter="url(#b)"/>
<path d="M200 155.5h1M202 149.5h1M202 160.5h1M202 166.5h1M202 178.5h1M203 147.5h1M203 156.5h1M204 159.5h1M204 160.5h1M204 161.5h1M204 165.5h1M204 175.5h1M204 181.5h1M205 157.5h1M205 178.5h1M205 181.5h1M205 185.5h1M206 181.5h1M206 186.5h1M207 153.5h1M207 157.5h1M207 164.5h1M207 166.5h1M207 178.5h1M207 181.5h1M208 151.5h1M208 155.5h1M208 164.5h1M208 178.5h1M208 181.5h1M208 189.5h1M209 150.5h1M209 178.5h1M209 184.5h1M209 189.5h1M210 151.5h1M210 154.5h1M210 159.5h1M210 169.5h1M210 183.5h1M211 165.5h1M211 179.5h1M211 180.5h1M213 165.5h1M214 149.5h1M214 155.5h1M214 158.5h1M215 153.5h1M215 164.5h1M215 172.5h1M215 179.5h1M215 180.5h1M215 184.5h1M216 158.5h1M216 168.5h1M216 173.5h1M216 177.5h1M217 151.5h1M217 152.5h1M217 153.5h1M217 163.5h1M217 164.5h1M217 169.5h1M217 178.5h1M217 183.5h1M218 149.5h1M218 153.5h1M218 158.5h1M218 159.5h1M218 160.5h1M218 166.5h1M218 172.5h1M219 179.5h1M220 154.5h1M220 177.5h1M221 154.5h1M221 156.5h1M221 160.5h1M221 162.5h1M221 183.5h1M222 148.5h1M222 154.5h1M222 156.5h1M222 162.5h1M222 165.5h1M222 169.5h1M222 170.5h1M222 178.5h1M222 182.5h1M223 147.5h1M223 162.5h1M223 166.5h1M223 175.5h1M224 155.5h1M224 160.5h1M224 165.5h1M224 166.5h1M224 169.5h1M224 175.5h1M225 148.5h1M225 156.5h1M225 157.5h1M225 161.5h1M225 183.5h1M225 189.5h1M226 146.5h1M226 152.5h1M226 156.5h1M228 148.5h1M228 150.5h1M228 152.5h1M228 159.5h1M228 176.5h1M228 178.5h1M229 151.5h1M229 160.5h1M229 178.5h1M229 179.5h1M229 182.5h1M229 185.5h1M230 156.5h1M230 159.5h1M230 175.5h1M230 179.5h1M232 189.5h1M233 148.5h1M233 166.5h1M233 175.5h1M233 176.5h1M233 188.5h1M234 148.5h1M234 154.5h1M234 165.5h1M234 174.5h1M234 176.5h1M234 177.5h1M234 183.5h1M234 184.5h1M234 188.5h1M235 158.5h1M235 161.5h1M235 188.5h1M236 150.5h1M236 152.5h1M236 155.5h1M236 156.5h1M236 170.5h1M236 175.5h1M236 181.5h1M236 187.5h1M237 146.5h1M237 149.5h1M237 154.5h1M237 164.5h1M237 180.5h1M237 182.5h1M237 187.5h1M238 147.5h1M238 148.5h1M238 153.5h1M238 155.5h1M238 165.5h1M238 180.5h1M238 186.5h1M239 150.5h1M239 174.5h1M240 151.5h1M240 152.5h1M240 156.5h1M240 159.5h1M241 170.5h1M241 173.5h1M241 185.5h1M242 154.5h1M242 164.5h1M242 170.5h1M242 187.5h1M243 151.5h1M243 157.5h1M243 170.5h1M243 179.5h1M244 146.5h1M244 156.5h1M244 158.5h1M244 172.5h1M244 179.5h1M244 186.5h1M246 157.5h1M246 164.5h1M247 148.5h1M247 149.5h1M247 159.5h1M248 149.5h1M248 158.5h1M248 161.5h1M249 152.5h1M249 165.5h1M249 166.5h1M249 169.5h1M249 175.5h1M249 178.5h1M250 156.5h1M251 157.5h1M251 163.5h1M251 171.5h1M251 179.5h1M251 184.5h1M251 185.5h1M252 147.5h1M252 168.5h1M252 177.5h1M252 187.5h1M253 157.5h1M253 164.5h1M253 176.5h1M253 178.5h1M253 185.5h1M254 151.5h1M254 156.5h1M254 158.5h1M254 161.5h1M254 168.5h1M254 188.5h1M255 180.5h1M255 185.5h1M256 156.5h1M256 179.5h1M257 170.5h1M257 178.5h1M258 159.5h1M258 165.5h1M258 178.5h1M258 182.5h1M258 187.5h1" stroke="#d2d2d2" stroke-width="1" fill="none"/>
<path d="M200 205.5h1M201 190.5h1M201 192.5h1M201 193.5h1M201 197.5h1M201 209.5h1M202 188.5h1M203 192.5h1M203 202.5h1M203 205.5h1M203 206.5h1M204 201.5h1M204 202.5h1M204 210.5h1M204 211.5h1M205 203.5h1M205 210.5h1M205 212.5h1M206 200.5h1M206 202.5h1M206 206.5h1M206 210.5h1M207 189.5h1M207 194.5h1M207 196.5h1M207 200.5h1M207 203.5h1M207 205.5h1M208 189.5h1M208 190.5h1M208 192.5h1M208 193.5h1M208 204.5h1M209 200.5h1M209 208.5h1M209 212.5h1M210 187.5h1M210 190.5h1M210 192.5h1M210 195.5h1M210 200.5h1M211 195.5h1M211 196.5h1M211 201.5h1M211 209.5h1M211 210.5h1M212 194.5h1M212 206.5h1M212 209.5h1M213 192.5h1M213 193.5h1M213 197.5h1M213 200.5h1M213 209.5h1M214 189.5h1M214 191.5h1M214 200.5h1M214 204.5h1M214 208.5h1M214 209.5h1M215 188.5h1M215 189.5h1M215 194.5h1M215 196.5h1M215 201.5h1M215 208.5h1M216 190.5h1M216 199.5h1M217 189.5h1M217 196.5h1M217 202.5h1M217 203.5h1M217 206.5h1M217 209.5h1M218 190.5h1M218 195.5h1M218 198.5h1M218 199.5h1M218 201.5h1M218 203.5h1M218 204.5h1M219 189.5h1M219 192.5h1M219 196.5h1M219 197.5h1M219 198.5h1M219 206.5h1M219 209.5h1M220 202.5h1M220 206.5h1M220 208.5h1M220 212.5h1M221 191.5h1M221 192.5h1M221 194.5h1M221 202.5h1M221 205.5h1M221 208.5h1M221 210.5h1M222 193.5h1M222 194.5h1M222 212.5h1M223 185.5h1M223 187.5h1M223 189.5h1M223 191.5h1M223 198.5h1M223 200.5h1M223 201.5h1M223 203.5h1M223 204.5h1M223 205.5h1M223 207.5h1M224 198.5h1M224 202.5h1M224 206.5h1M224 207.5h1M224 210.5h1M225 187.5h1M225 190.5h1M225 197.5h1M225 202.5h1M225 204.5h1M225 211.5h1M226 192.5h1M226 196.5h1M227 186.5h1M227 187.5h1M227 190.5h1M227 194.5h1M227 198.5h1M227 203.5h1M227 204.5h1M227 207.5h1M227 211.5h1M228 201.5h1M228 203.5h1M228 206.5h1M229 207.5h1M229 211.5h1M230 187.5h1M230 194.5h1M230 196.5h1M230 201.5h1M230 212.5h1M231 191.5h1M231 193.5h1M231 194.5h1M231 196.5h1M231 201.5h1M231 204.5h1M232 185.5h1M232 192.5h1M232 193.5h1M232 196.5h1M232 199.5h1M232 202.5h1M233 195.5h1M234 185.5h1M234 191.5h1M234 197.5h1M234 199.5h1M235 186.5h1M235 192.5h1M235 193.5h1M235 196.5h1M235 197.5h1M235 199.5h1M235 208.5h1M236 188.5h1M236 193.5h1M236 198.5h1M236 199.5h1M236 200.5h1M236 201.5h1M236 208.5h1M236 209.5h1M236 210.5h1M236 212.5h1M237 186.5h1M237 196.5h1M237 198.5h1M237 203.5h1M237 206.5h1M238 193.5h1M238 195.5h1M238 199.5h1M238 204.5h1M238 206.5h1M238 207.5h1M238 212.5h1M239 187.5h1M239 204.5h1M239 206.5h1M239 211.5h1M239 213.5h1M240 187.5h1M240 192.5h1M240 197.5h1M241 190.5h1M241 193.5h1M241 202.5h1M242 193.5h1M242 194.5h1M242 197.5h1M242 200.5h1M243 198.5h1M243 199.5h1M244 192.5h1M244 194.5h1M244 195.5h1M244 196.5h1M244 202.5h1M245 190.5h1M245 195.5h1M245 196.5h1M245 198.5h1M246 188.5h1M246 195.5h1M246 197.5h1M246 210.5h1M247 190.5h1M247 204.5h1M247 206.5h1M247 208.5h1M248 189.5h1M248 190.5h1M248 193.5h1M248 195.5h1M248 196.5h1M248 202.5h1M248 207.5h1M249 190.5h1M249 195.5h1M249 202.5h1M250 192.5h1M250 193.5h1M250 199.5h1M250 200.5h1M251 193.5h1M251 202.5h1M251 203.5h1M252 187.5h1M252 194.5h1M252 197.5h1M252 202.5h1M252 207.5h1M253 187.5h1M254 202.5h1M254 203.5h1M254 207.5h1M255 192.5h1M255 205.5h1M256 197.5h1M256 199.5h1M256 204.5h1M257 200.5h1M257 205.5h1" stroke="#d2d2d2" stroke-width="1" fill="none"/>
<path d="M200 204.5h1M200 211.5h1M201 192.5h1M201 196.5h1M201 203.5h1M201 210.5h1M202 194.5h1M202 197.5h1M202 199.5h1M202 202.5h1M202 205.5h1M202 209.5h1M203 193.5h1M203 202.5h1M203 203.5h1M203 205.5h1M203 206.5h1M203 207.5h1M203 210.5h1M204 192.5h1M204 197.5h1M204 200.5h1M204 201.5h1M204 210.5h1M205 191.5h1M205 193.5h1M205 194.5h1M205 199.5h1M205 200.5h1M205 202.5h1M205 203.5h1M205 211.5h1M205 213.5h1M206 191.5h1M206 194.5h1M206 200.5h1M206 202.5h1M206 204.5h1M207 199.5h1M207 200.5h1M207 201.5h1M207 202.5h1M207 203.5h1M207 204.5h1M207 205.5h1M207 208.5h1M208 201.5h1M208 202.5h1M208 203.5h1M208 204.5h1M208 206.5h1M208 208.5h1M208 209.5h1M209 193.5h1M209 196.5h1M209 200.5h1M209 206.5h1M209 207.5h1M209 209.5h1M210 191.5h1M210 196.5h1M210 197.5h1M210 198.5h1M210 202.5h1M210 204.5h1M211 192.5h1M211 193.5h1M211 196.5h1M211 204.5h1M211 208.5h1M211 209.5h1M212 194.5h1M212 196.5h1M212 200.5h1M212 202.5h1M212 203.5h1M212 204.5h1M212 209.5h1M212 212.5h1M213 190.5h1M213 202.5h1M213 210.5h1M214 190.5h1M214 192.5h1M214 195.5h1M214 199.5h1M214 202.5h1M214 203.5h1M214 205.5h1M215 188.5h1M215 191.5h1M215 192.5h1M215 193.5h1M215 199.5h1M215 201.5h1M215 204.5h1M215 210.5h1M216 195.5h1M216 201.5h1M216 206.5h1M216 207.5h1M216 208.5h1M216 209.5h1M217 188.5h1M217 194.5h1M217 195.5h1M217 196.5h1M217 197.5h1M217 200.5h1M217 201.5h1M217 204.5h1M217 209.5h1M217 210.5h1M217 211.5h1M218 192.5h1M218 194.5h1M218 195.5h1M218 196.5h1M218 201.5h1M219 193.5h1M219 194.5h1M219 201.5h1M219 212.5h1M220 192.5h1M220 196.5h1M220 198.5h1M220 204.5h1M220 207.5h1M220 209.5h1M221 194.5h1M221 200.5h1M221 204.5h1M221 207.5h1M222 188.5h1M222 191.5h1M222 198.5h1M222 210.5h1M223 193.5h1M223 202.5h1M223 205.5h1M223 209.5h1M224 190.5h1M224 194.5h1M224 196.5h1M224 202.5h1M224 204.5h1M224 207.5h1M224 208.5h1M225 190.5h1M225 191.5h1M225 192.5h1M225 196.5h1M225 198.5h1M225 204.5h1M225 205.5h1M225 206.5h1M225 207.5h1M225 209.5h1M225 210.5h1M226 191.5h1M226 192.5h1M226 197.5h1M226 206.5h1M227 190.5h1M227 191.5h1M227 192.5h1M227 197.5h1M227 199.5h1M227 201.5h1M227 204.5h1M227 206.5h1M227 209.5h1M228 194.5h1M228 197.5h1M228 198.5h1M228 201.5h1M228 202.5h1M228 207.5h1M229 187.5h1M229 188.5h1M229 190.5h1M229 191.5h1M229 195.5h1M229 196.5h1M229 205.5h1M229 207.5h1M230 193.5h1M230 194.5h1M230 195.5h1M230 197.5h1M230 198.5h1M230 199.5h1M230 205.5h1M230 208.5h1M230 212.5h1M231 193.5h1M231 194.5h1M231 197.5h1M231 199.5h1M231 207.5h1M231 208.5h1M231 209.5h1M231 212.5h1M232 198.5h1M232 201.5h1M232 202.5h1M232 208.5h1M233 191.5h1M233 192.5h1M233 194.5h1M233 195.5h1M233 197.5h1M233 199.5h1M233 200.5h1M233 203.5h1M233 204.5h1M233 205.5h1M233 206.5h1M233 209.5h1M233 211.5h1M234 191.5h1M234 193.5h1M234 194.5h1M234 201.5h1M234 205.5h1M234 206.5h1M235 191.5h1M235 196.5h1M235 198.5h1M235 200.5h1M235 203.5h1M235 206.5h1M235 212.5h1M236 190.5h1M236 191.5h1M236 192.5h1M236 193.5h1M236 194.5h1M236 202.5h1M236 203.5h1M236 205.5h1M236 207.5h1M236 208.5h1M236 210.5h1M237 192.5h1M237 194.5h1M237 199.5h1M237 203.5h1M237 204.5h1M237 205.5h1M237 210.5h1M238 193.5h1M238 203.5h1M238 207.5h1M239 189.5h1M239 192.5h1M239 193.5h1M239 194.5h1M239 200.5h1M239 201.5h1M239 206.5h1M240 190.5h1M240 191.5h1M240 193.5h1M240 194.5h1M240 195.5h1M240 204.5h1M240 207.5h1M240 210.5h1M240 211.5h1M241 193.5h1M241 198.5h1M241 201.5h1M242 193.5h1M242 207.5h1M242 209.5h1M242 211.5h1M243 189.5h1M243 190.5h1M243 194.5h1M243 195.5h1M243 202.5h1M244 188.5h1M244 193.5h1M244 200.5h1M244 201.5h1M244 204.5h1M245 193.5h1M245 194.5h1M245 195.5h1M245 199.5h1M245 200.5h1M245 203.5h1M245 207.5h1M245 208.5h1M245 210.5h1M246 194.5h1M246 195.5h1M246 197.5h1M246 198.5h1M246 205.5h1M246 208.5h1M247 189.5h1M247 193.5h1M247 195.5h1M247 197.5h1M247 199.5h1M247 200.5h1M247 203.5h1M247 205.5h1M247 208.5h1M248 190.5h1M248 191.5h1M248 194.5h1M248 197.5h1M248 199.5h1M248 202.5h1M248 206.5h1M248 207.5h1M248 208.5h1M249 189.5h1M249 193.5h1M249 195.5h1M249 199.5h1M249 201.5h1M249 202.5h1M249 204.5h1M250 194.5h1M250 201.5h1M250 203.5h1M251 193.5h1M251 194.5h1M251 198.5h1M251 204.5h1M252 206.5h1M253 191.5h1M253 200.5h1M254 201.5h1M254 203.5h1M254 206.5h1M255 194.5h1" stroke="#a0a0a2" stroke-width="1" fill="none"/>
<path d="M245 212 262 214 262 226 245 228Z" fill="#d2d2d2" filter="url(#b2)" fill-opacity="0.45"/>
<path d="M244 216.5h1M244 221.5h1M244 223.5h1M244 228.5h1M245 213.5h1M245 215.5h1M245 222.5h1M245 223.5h1M245 224.5h1M246 212.5h1M246 213.5h1M246 215.5h1M246 216.5h1M246 224.5h1M246 225.5h1M247 211.5h1M247 212.5h1M247 215.5h1M247 217.5h1M247 225.5h1M248 218.5h1M248 220.5h1M248 224.5h1M249 212.5h1M249 213.5h1M249 218.5h1M249 220.5h1M249 221.5h1M249 223.5h1M250 214.5h1M250 215.5h1M250 222.5h1M250 226.5h1M251 216.5h1M251 218.5h1M251 228.5h1M252 221.5h1M252 222.5h1M252 223.5h1M253 216.5h1M253 220.5h1M253 221.5h1M254 220.5h1M254 221.5h1M255 218.5h1M255 219.5h1M255 222.5h1M255 224.5h1M256 222.5h1M256 225.5h1M256 227.5h1M257 213.5h1M257 215.5h1M257 216.5h1M257 217.5h1M257 218.5h1M257 224.5h1M258 217.5h1M258 220.5h1M259 224.5h1M259 227.5h1M260 215.5h1M260 219.5h1M260 221.5h1M260 223.5h1M261 215.5h1M261 221.5h1M262 218.5h1" stroke="#d2d2d2" stroke-width="1" fill="none"/>
<path d="M220 231.5h1M248 219.5h1M202 212.5h1M230 209.5h1M213 208.5h1M242 211.5h1M238 228.5h1M231 209.5h1M207 207.5h1M220 208.5h1M222 228.5h1M225 208.5h1M213 229.5h1M244 212.5h1M235 211.5h1M201 227.5h1M198 222.5h1M210 209.5h1M237 227.5h1M248 223.5h1M248 221.5h1M201 219.5h1M205 228.5h1M234 227.5h1M228 209.5h1M232 209.5h1M226 211.5h1M243 228.5h1M231 232.5h1M241 212.5h1M215 209.5h1M204 228.5h1M247 211.5h1M220 230.5h1M213 209.5h1M225 211.5h1M222 230.5h1M230 231.5h1M227 231.5h1M234 232.5h1M201 230.5h1M243 211.5h1M218 212.5h1M198 211.5h1M202 216.5h1M200 222.5h1M207 229.5h1M221 211.5h1M219 210.5h1M246 215.5h1M246 213.5h1M242 231.5h1M232 228.5h1M248 217.5h1M203 210.5h1M241 209.5h1M231 229.5h1M247 216.5h1M245 228.5h1M246 224.5h1M250 219.5h1M226 228.5h1M221 210.5h1M240 227.5h1M202 215.5h1M229 210.5h1M201 229.5h1M229 230.5h1M199 229.5h1M200 210.5h1M246 214.5h1M217 232.5h1M240 211.5h1M214 228.5h1M208 230.5h1M217 230.5h1M204 208.5h1M218 211.5h1M230 210.5h1M246 223.5h1M209 229.5h1M210 228.5h1M202 209.5h1M205 208.5h1M252 214.5h1M243 226.5h1M251 215.5h1M223 209.5h1M234 209.5h1M201 215.5h1M214 233.5h1M200 226.5h1M201 218.5h1M244 226.5h1M212 212.5h1M214 212.5h1M214 230.5h1M210 231.5h1M252 228.5h1M207 212.5h1M247 208.5h1M199 232.5h1M233 210.5h1M202 225.5h1M223 206.5h1M250 217.5h1M211 228.5h1M202 226.5h1M203 229.5h1M235 208.5h1M211 211.5h1M247 222.5h1M233 211.5h1M243 230.5h1M210 212.5h1M247 220.5h1M236 208.5h1M238 210.5h1M249 225.5h1M201 207.5h1M199 230.5h1M205 211.5h1M216 229.5h1M201 225.5h1M228 232.5h1M217 229.5h1M207 211.5h1M247 219.5h1M246 212.5h1M233 230.5h1M201 224.5h1M235 228.5h1M209 230.5h1" stroke="#d2d2d2" stroke-width="1" fill="none" stroke-opacity="0.8"/>
<path d="M201.8 211.6 230 211 246 212 249 218 246 227 230 229.5 201.8 229.5Z" fill="#d2d2d2" filter="url(#b)"/>
<path d="M268 182.5h1M258 170.5h1M263 170.5h1M264 194.5h1M272 170.5h1M268 201.5h1M256 200.5h1M265 172.5h1M265 181.5h1M241 189.5h1M252 185.5h1M278 177.5h1M262 201.5h1M249 174.5h1M260 198.5h1M268 195.5h1M278 193.5h1M260 173.5h1M239 213.5h1M250 193.5h1M257 197.5h1M272 203.5h1M262 170.5h1M254 180.5h1M265 191.5h1M274 185.5h1M260 190.5h1M265 190.5h1M272 193.5h1M256 171.5h1M260 174.5h1M255 181.5h1M264 200.5h1M273 196.5h1M269 176.5h1M244 173.5h1M273 182.5h1M257 190.5h1M262 183.5h1M268 181.5h1M276 195.5h1M255 193.5h1M254 188.5h1M269 166.5h1M262 194.5h1M249 187.5h1M265 192.5h1M274 181.5h1M269 173.5h1M265 201.5h1M256 198.5h1M268 192.5h1M239 173.5h1M264 183.5h1M251 174.5h1M264 190.5h1M261 189.5h1M255 198.5h1M261 176.5h1M271 206.5h1M257 162.5h1M260 186.5h1M266 176.5h1M255 207.5h1M269 181.5h1M253 208.5h1M273 198.5h1M253 196.5h1M252 190.5h1M261 202.5h1M275 197.5h1M274 188.5h1M283 191.5h1M252 164.5h1M271 164.5h1M258 174.5h1M261 184.5h1M252 193.5h1M274 203.5h1M268 198.5h1M257 199.5h1M263 176.5h1M281 172.5h1M268 186.5h1M261 163.5h1M242 163.5h1M260 182.5h1M262 196.5h1M265 193.5h1M249 186.5h1M266 174.5h1M270 177.5h1M269 174.5h1M266 168.5h1M266 198.5h1M265 173.5h1M250 166.5h1M255 186.5h1M261 166.5h1M257 179.5h1M254 189.5h1M270 174.5h1M272 191.5h1M265 183.5h1M271 187.5h1M257 167.5h1M250 195.5h1M275 186.5h1M266 186.5h1M249 189.5h1M275 182.5h1M262 210.5h1M263 191.5h1M250 186.5h1M261 172.5h1M268 193.5h1M281 175.5h1M243 195.5h1M255 179.5h1M253 198.5h1M257 171.5h1M259 205.5h1M246 187.5h1M273 169.5h1M268 168.5h1M240 173.5h1M260 187.5h1M281 210.5h1M274 175.5h1M264 172.5h1M282 164.5h1M275 189.5h1M279 170.5h1M248 199.5h1M256 174.5h1M253 190.5h1M250 184.5h1M268 164.5h1M273 178.5h1M264 175.5h1M271 191.5h1M285 179.5h1M241 175.5h1M257 175.5h1M265 178.5h1M271 171.5h1M264 173.5h1M261 193.5h1M265 168.5h1M258 176.5h1M263 188.5h1M260 207.5h1M272 176.5h1M260 211.5h1M257 194.5h1M253 170.5h1M260 163.5h1M245 188.5h1M276 170.5h1M272 180.5h1M259 201.5h1M276 191.5h1M262 191.5h1M252 175.5h1M269 188.5h1M252 182.5h1M267 187.5h1M259 184.5h1M256 185.5h1M252 199.5h1M259 172.5h1M261 188.5h1M275 187.5h1M257 205.5h1M280 179.5h1M253 175.5h1M270 190.5h1M256 186.5h1M253 183.5h1M266 183.5h1M278 191.5h1M258 186.5h1M264 201.5h1M260 170.5h1M265 174.5h1M255 187.5h1M264 191.5h1M245 183.5h1M275 195.5h1M258 189.5h1M280 191.5h1M266 161.5h1M254 195.5h1M267 200.5h1M254 177.5h1M251 176.5h1M254 194.5h1M269 183.5h1M251 181.5h1M271 186.5h1M253 169.5h1M265 170.5h1M259 169.5h1M259 191.5h1M270 211.5h1M257 173.5h1M268 196.5h1M255 173.5h1M263 203.5h1M257 206.5h1M282 193.5h1M268 197.5h1M266 181.5h1M266 203.5h1M277 167.5h1M263 168.5h1M274 191.5h1M271 181.5h1M267 167.5h1M260 200.5h1M250 187.5h1M257 184.5h1M262 193.5h1M248 173.5h1M277 177.5h1M265 180.5h1M252 191.5h1M262 186.5h1M261 185.5h1M272 195.5h1M267 164.5h1M236 202.5h1M256 196.5h1M253 188.5h1M266 211.5h1M258 177.5h1M272 192.5h1M272 189.5h1M283 187.5h1M267 171.5h1M252 196.5h1M257 191.5h1M273 161.5h1M269 205.5h1M274 194.5h1M256 172.5h1M252 180.5h1M255 194.5h1M247 182.5h1M270 169.5h1M259 200.5h1M274 183.5h1M257 200.5h1M259 166.5h1M251 192.5h1M276 180.5h1M263 166.5h1M263 196.5h1M276 183.5h1M249 195.5h1M269 170.5h1M268 202.5h1M274 198.5h1M274 171.5h1M261 159.5h1M244 190.5h1M241 184.5h1M266 204.5h1M254 168.5h1M259 177.5h1M270 176.5h1M275 180.5h1M257 165.5h1M252 179.5h1M262 161.5h1M251 164.5h1M274 169.5h1M262 169.5h1M262 166.5h1M270 173.5h1M273 181.5h1M254 193.5h1M243 197.5h1M258 199.5h1M269 192.5h1M260 205.5h1M274 199.5h1M254 199.5h1M258 180.5h1M261 169.5h1M255 200.5h1M269 196.5h1M253 168.5h1M257 170.5h1M261 179.5h1M280 195.5h1M268 169.5h1M245 169.5h1M272 167.5h1M269 201.5h1M246 201.5h1M254 181.5h1M263 190.5h1M263 184.5h1M266 194.5h1M271 182.5h1M269 191.5h1M245 192.5h1M237 178.5h1M270 193.5h1M252 173.5h1M270 170.5h1M256 175.5h1M258 195.5h1M274 187.5h1M256 168.5h1M253 179.5h1M278 163.5h1M260 202.5h1M256 173.5h1M268 184.5h1M274 180.5h1M257 195.5h1M276 188.5h1M272 164.5h1M280 193.5h1M250 205.5h1M275 165.5h1M270 165.5h1M258 188.5h1M261 171.5h1M277 195.5h1M274 166.5h1M272 181.5h1M264 181.5h1M256 158.5h1M260 183.5h1M267 206.5h1M254 204.5h1M272 182.5h1M246 177.5h1M262 177.5h1M246 166.5h1M246 190.5h1M260 165.5h1M248 187.5h1M270 182.5h1M245 190.5h1M240 194.5h1M252 194.5h1M271 185.5h1M254 171.5h1M257 203.5h1M272 184.5h1M272 173.5h1M279 172.5h1M275 184.5h1M279 184.5h1M256 191.5h1" stroke="#ff5100" stroke-width="1" fill="none" stroke-opacity="0.75"/>
<path d="M251 180.5h1M249 189.5h1M263 202.5h1M254 202.5h1M248 186.5h1M274 191.5h1M248 176.5h1M273 178.5h1M244 181.5h1M261 201.5h1M267 200.5h1M276 197.5h1M264 208.5h1M277 180.5h1M280 183.5h1M257 169.5h1M245 187.5h1M251 191.5h1M275 182.5h1M276 198.5h1M272 173.5h1M251 171.5h1M276 174.5h1M244 172.5h1M260 204.5h1M255 170.5h1M248 191.5h1M276 176.5h1M265 205.5h1M276 182.5h1M257 167.5h1M275 178.5h1M273 191.5h1M265 202.5h1M264 202.5h1M256 163.5h1M254 169.5h1M256 165.5h1M254 200.5h1M253 174.5h1M253 172.5h1M254 203.5h1M255 169.5h1M266 202.5h1M278 188.5h1M246 183.5h1M263 165.5h1M260 203.5h1M256 168.5h1M274 190.5h1M249 185.5h1M274 188.5h1M263 167.5h1M274 183.5h1M273 207.5h1M249 199.5h1M259 166.5h1M276 177.5h1M277 185.5h1M251 174.5h1M270 167.5h1M262 166.5h1M262 167.5h1M277 177.5h1M259 168.5h1M261 167.5h1M274 177.5h1M272 174.5h1M268 199.5h1M250 197.5h1M279 184.5h1M253 201.5h1M267 167.5h1M245 186.5h1M263 166.5h1M275 183.5h1M260 202.5h1M247 180.5h1M245 188.5h1M251 190.5h1M275 179.5h1M273 194.5h1M273 201.5h1M253 199.5h1M243 175.5h1M274 184.5h1M274 175.5h1M250 184.5h1M251 177.5h1M274 187.5h1M274 204.5h1M270 169.5h1M267 199.5h1M277 189.5h1M269 169.5h1M274 170.5h1M268 168.5h1M265 200.5h1M252 175.5h1M247 184.5h1M275 176.5h1M247 189.5h1M274 171.5h1M251 169.5h1M269 197.5h1M269 168.5h1M252 173.5h1M258 167.5h1M276 180.5h1M279 190.5h1M274 181.5h1M256 169.5h1M250 199.5h1M246 191.5h1M243 183.5h1M263 164.5h1M246 169.5h1M277 184.5h1M251 165.5h1M271 170.5h1M249 187.5h1M273 176.5h1M276 175.5h1M272 197.5h1M276 179.5h1M258 168.5h1M259 201.5h1M272 160.5h1M272 198.5h1M248 166.5h1M268 198.5h1M261 202.5h1M251 188.5h1M275 193.5h1M269 167.5h1M261 203.5h1M258 163.5h1M252 174.5h1M250 182.5h1M277 187.5h1M250 174.5h1M271 196.5h1M272 194.5h1M270 168.5h1M263 163.5h1M258 208.5h1M280 182.5h1M250 180.5h1M259 205.5h1M254 168.5h1M251 199.5h1M247 179.5h1M257 201.5h1M273 197.5h1M277 172.5h1M272 193.5h1M274 182.5h1M254 198.5h1M251 201.5h1M262 159.5h1M245 180.5h1M275 173.5h1M272 168.5h1M249 180.5h1M251 184.5h1M265 201.5h1M257 207.5h1M254 172.5h1M263 206.5h1M276 169.5h1M245 198.5h1M272 171.5h1M262 206.5h1M255 200.5h1M256 202.5h1M267 166.5h1M262 163.5h1M246 188.5h1M271 172.5h1M252 200.5h1M270 171.5h1M274 174.5h1M275 194.5h1M279 178.5h1M250 176.5h1M254 171.5h1M264 203.5h1M269 203.5h1M261 166.5h1M264 209.5h1M278 192.5h1M257 205.5h1M265 167.5h1M248 196.5h1M246 198.5h1M276 186.5h1M280 186.5h1M275 181.5h1M279 188.5h1M276 183.5h1M264 204.5h1M271 167.5h1M267 207.5h1M272 170.5h1M255 201.5h1M264 165.5h1M253 173.5h1M250 186.5h1M275 177.5h1M250 187.5h1M275 189.5h1M244 184.5h1M277 169.5h1M271 194.5h1M273 179.5h1M277 182.5h1M273 200.5h1M280 193.5h1M254 166.5h1M269 199.5h1M273 177.5h1M273 196.5h1M266 200.5h1M275 192.5h1M276 185.5h1M274 193.5h1M248 190.5h1M270 195.5h1M252 165.5h1M248 181.5h1M274 178.5h1M256 167.5h1M249 188.5h1M259 207.5h1M274 195.5h1M275 188.5h1M267 164.5h1M245 174.5h1M258 206.5h1M278 161.5h1M272 172.5h1M272 195.5h1M248 180.5h1M269 198.5h1M268 165.5h1M275 184.5h1M252 202.5h1M249 200.5h1M270 200.5h1M251 192.5h1M256 170.5h1M274 173.5h1M254 199.5h1M277 163.5h1M273 173.5h1M256 164.5h1M278 206.5h1M272 166.5h1M251 176.5h1M250 177.5h1M273 174.5h1M264 201.5h1M245 181.5h1M257 202.5h1M252 171.5h1M269 206.5h1M267 165.5h1M270 198.5h1M247 174.5h1M260 205.5h1M251 181.5h1M273 193.5h1M259 202.5h1M265 164.5h1M251 179.5h1M264 167.5h1M280 163.5h1M249 173.5h1M269 201.5h1M271 204.5h1M252 197.5h1M280 179.5h1M247 185.5h1M258 202.5h1M254 204.5h1M254 205.5h1M273 170.5h1M260 164.5h1M247 195.5h1M261 209.5h1M268 200.5h1M274 197.5h1M272 204.5h1M249 190.5h1M259 167.5h1M273 187.5h1M257 168.5h1M254 170.5h1M271 208.5h1M252 201.5h1M250 185.5h1M254 173.5h1M260 161.5h1M260 163.5h1M252 169.5h1M253 195.5h1M251 202.5h1M261 165.5h1M246 181.5h1M255 199.5h1M271 197.5h1M276 172.5h1M258 169.5h1M267 202.5h1M278 167.5h1M262 162.5h1M256 201.5h1M253 175.5h1M250 183.5h1M250 198.5h1M277 186.5h1M251 194.5h1M250 172.5h1M273 192.5h1M269 165.5h1M251 175.5h1M274 160.5h1M280 180.5h1M263 204.5h1M268 167.5h1M252 172.5h1M247 182.5h1M252 199.5h1M243 181.5h1M244 183.5h1M263 160.5h1M278 183.5h1M249 181.5h1M249 175.5h1M269 166.5h1M242 182.5h1M276 190.5h1M280 171.5h1M257 162.5h1M253 198.5h1M270 203.5h1M251 195.5h1M246 182.5h1" stroke="#ff5100" stroke-width="1" fill="none" stroke-opacity="0.8"/>
<path d="M275.1 185.8 274.5 189.3 273.5 192.6 272.1 195.6 270.3 198.1 268.2 200.2 265.9 201.7 263.5 202.5 261 202.6 258.6 202.1 256.4 200.8 254.4 199 252.7 196.6 251.4 193.8 250.5 190.6 250.1 187.1 250.1 183.6 250.7 180.1 251.7 176.8 253.1 173.8 254.9 171.3 257 169.2 259.3 167.7 261.7 166.9 264.2 166.8 266.6 167.3 268.8 168.6 270.8 170.4 272.5 172.8 273.8 175.6 274.7 178.8 275.1 182.3Z" fill="#ff5100" filter="url(#b)"/>
<path d="M370 154.5h1M370 160.5h1M371 146.5h1M371 147.5h1M371 150.5h1M371 160.5h1M371 164.5h1M372 147.5h1M373 149.5h1M373 150.5h1M373 152.5h1M373 157.5h1M373 159.5h1M374 145.5h1M374 151.5h1M374 157.5h1M375 149.5h1M375 151.5h1M375 157.5h1M375 159.5h1M375 163.5h1M376 156.5h1M376 158.5h1M376 161.5h1M377 151.5h1M377 162.5h1M378 150.5h1M378 153.5h1M378 156.5h1M378 158.5h1M378 159.5h1M379 150.5h1M380 149.5h1M380 152.5h1M380 153.5h1M380 156.5h1M381 154.5h1M381 157.5h1M381 162.5h1M381 163.5h1M382 145.5h1M382 153.5h1M382 162.5h1M382 163.5h1M383 159.5h1M383 160.5h1M384 148.5h1" stroke="#d2d2d2" stroke-width="1" fill="none"/>
<path d="M347 214.5h1M329 218.5h1M330 217.5h1M374 219.5h1M329 213.5h1M364 224.5h1M369 212.5h1M356 208.5h1M368 222.5h1M380 216.5h1M326 224.5h1M360 225.5h1M340 230.5h1M340 213.5h1M327 219.5h1M326 225.5h1M361 213.5h1M355 213.5h1M340 210.5h1M350 228.5h1M386 214.5h1M356 213.5h1M333 217.5h1M378 220.5h1M378 209.5h1M357 211.5h1M358 226.5h1M327 228.5h1M361 224.5h1M343 228.5h1M345 213.5h1M326 219.5h1M333 214.5h1M349 230.5h1M341 228.5h1M352 227.5h1M330 218.5h1M378 219.5h1M373 210.5h1M349 213.5h1M326 223.5h1M326 229.5h1M371 211.5h1M378 221.5h1M336 227.5h1M347 228.5h1M338 216.5h1M331 216.5h1M328 218.5h1M369 222.5h1M328 217.5h1M387 213.5h1M362 212.5h1M355 225.5h1M355 212.5h1M376 207.5h1M371 212.5h1M325 226.5h1M347 226.5h1M341 213.5h1M382 212.5h1M337 229.5h1M332 229.5h1M335 228.5h1M354 226.5h1M375 212.5h1M365 211.5h1M383 215.5h1M325 230.5h1M324 219.5h1M356 212.5h1M326 221.5h1M349 227.5h1M379 219.5h1M342 216.5h1M367 228.5h1M366 212.5h1M339 228.5h1M352 226.5h1M354 227.5h1M341 229.5h1M358 227.5h1M380 211.5h1M378 212.5h1M362 224.5h1M360 212.5h1M338 228.5h1M337 216.5h1M380 218.5h1M382 214.5h1M348 214.5h1M375 224.5h1M335 216.5h1M335 229.5h1M344 212.5h1M324 230.5h1M339 216.5h1M361 212.5h1M342 215.5h1M348 230.5h1M374 210.5h1M376 212.5h1M344 228.5h1M382 215.5h1M329 216.5h1M336 228.5h1M377 219.5h1M353 213.5h1M367 221.5h1M357 229.5h1M340 214.5h1M371 221.5h1M366 224.5h1M370 221.5h1M325 227.5h1M375 221.5h1M379 217.5h1M356 226.5h1M375 209.5h1M331 217.5h1M381 216.5h1M342 228.5h1M335 230.5h1M338 214.5h1M376 221.5h1" stroke="#d2d2d2" stroke-width="1" fill="none" stroke-opacity="0.8"/>
<path d="M326.8 218.7 342.9 215.1 360.8 212.5 380.5 211.6 384 215.1 375.1 220.5 360.8 225 342.9 228.6 326.8 228.6Z" fill="#d2d2d2" filter="url(#b)"/>
<path d="M352 209 360 200 368 192 376 187 383 190 385 204 381 211.6 364 212.5Z" fill="#a0a0a2" filter="url(#b2)" fill-opacity="0.5"/>
<path d="M352 209.5h1M354 206.5h1M354 208.5h1M354 210.5h1M355 209.5h1M355 210.5h1M356 203.5h1M356 209.5h1M357 203.5h1M357 207.5h1M358 201.5h1M358 206.5h1M359 200.5h1M359 201.5h1M359 202.5h1M359 203.5h1M359 204.5h1M359 205.5h1M359 206.5h1M359 207.5h1M359 208.5h1M360 201.5h1M360 202.5h1M360 203.5h1M360 204.5h1M360 206.5h1M361 202.5h1M361 203.5h1M361 207.5h1M361 210.5h1M362 196.5h1M362 200.5h1M362 205.5h1M362 206.5h1M362 207.5h1M362 209.5h1M363 197.5h1M363 199.5h1M363 201.5h1M363 207.5h1M363 208.5h1M364 195.5h1M364 196.5h1M364 198.5h1M364 200.5h1M364 203.5h1M364 204.5h1M364 208.5h1M364 210.5h1M365 196.5h1M365 197.5h1M365 198.5h1M365 199.5h1M365 200.5h1M365 201.5h1M365 202.5h1M365 203.5h1M365 205.5h1M366 193.5h1M366 195.5h1M366 196.5h1M366 198.5h1M366 203.5h1M366 205.5h1M366 206.5h1M366 209.5h1M366 210.5h1M367 195.5h1M367 196.5h1M367 201.5h1M367 202.5h1M367 204.5h1M367 205.5h1M367 207.5h1M367 208.5h1M367 209.5h1M367 210.5h1M368 193.5h1M368 194.5h1M368 195.5h1M368 196.5h1M368 200.5h1M368 201.5h1M368 204.5h1M368 205.5h1M368 206.5h1M368 212.5h1M369 194.5h1M369 196.5h1M369 199.5h1M369 200.5h1M369 202.5h1M369 205.5h1M369 206.5h1M369 207.5h1M369 208.5h1M370 189.5h1M370 191.5h1M370 192.5h1M370 196.5h1M370 198.5h1M370 199.5h1M370 200.5h1M370 202.5h1M370 207.5h1M370 208.5h1M370 212.5h1M371 192.5h1M371 193.5h1M371 194.5h1M371 196.5h1M371 197.5h1M371 198.5h1M371 199.5h1M371 201.5h1M371 202.5h1M371 204.5h1M371 206.5h1M371 207.5h1M372 189.5h1M372 190.5h1M372 192.5h1M372 193.5h1M372 195.5h1M372 196.5h1M372 197.5h1M372 199.5h1M372 200.5h1M372 203.5h1M372 205.5h1M372 207.5h1M372 210.5h1M372 211.5h1M373 189.5h1M373 191.5h1M373 195.5h1M373 198.5h1M373 199.5h1M373 203.5h1M373 208.5h1M373 209.5h1M373 210.5h1M374 188.5h1M374 189.5h1M374 192.5h1M374 194.5h1M374 195.5h1M374 197.5h1M374 199.5h1M374 200.5h1M374 204.5h1M374 206.5h1M374 207.5h1M374 208.5h1M374 209.5h1M374 210.5h1M375 186.5h1M375 188.5h1M375 191.5h1M375 192.5h1M375 194.5h1M375 198.5h1M375 199.5h1M375 201.5h1M375 203.5h1M375 206.5h1M375 207.5h1M375 208.5h1M376 190.5h1M376 191.5h1M376 193.5h1M376 195.5h1M376 196.5h1M376 200.5h1M376 202.5h1M376 204.5h1M376 207.5h1M376 209.5h1M376 211.5h1M377 188.5h1M377 189.5h1M377 190.5h1M377 191.5h1M377 195.5h1M377 196.5h1M377 197.5h1M377 199.5h1M377 200.5h1M377 205.5h1M377 207.5h1M377 210.5h1M378 191.5h1M378 192.5h1M378 197.5h1M378 198.5h1M378 199.5h1M378 200.5h1M378 201.5h1M378 202.5h1M378 203.5h1M378 204.5h1M378 205.5h1M378 208.5h1M379 190.5h1M379 191.5h1M379 192.5h1M379 197.5h1M379 199.5h1M379 200.5h1M379 202.5h1M379 203.5h1M379 206.5h1M379 208.5h1M379 211.5h1M380 188.5h1M380 191.5h1M380 192.5h1M380 193.5h1M380 195.5h1M380 200.5h1M380 202.5h1M380 203.5h1M380 204.5h1M380 205.5h1M380 206.5h1M380 207.5h1M380 208.5h1M380 210.5h1M381 193.5h1M381 195.5h1M381 196.5h1M381 200.5h1M381 203.5h1M381 204.5h1M381 206.5h1M381 209.5h1M381 210.5h1M381 211.5h1M382 190.5h1M382 191.5h1M382 192.5h1M382 193.5h1M382 195.5h1M382 196.5h1M382 202.5h1M382 204.5h1M382 207.5h1M382 208.5h1M383 192.5h1M383 198.5h1M383 204.5h1M383 206.5h1M384 200.5h1M384 201.5h1M384 204.5h1M384 205.5h1" stroke="#a0a0a2" stroke-width="1" fill="none"/>
<path d="M395 192.5h1M385 206.5h1M378 187.5h1M382 173.5h1M376 171.5h1M384 171.5h1M401 195.5h1M397 179.5h1M390 199.5h1M399 182.5h1M398 167.5h1M394 195.5h1M392 199.5h1M381 203.5h1M390 164.5h1M393 195.5h1M394 194.5h1M391 201.5h1M378 184.5h1M377 206.5h1M379 201.5h1M384 172.5h1M387 201.5h1M385 170.5h1M397 170.5h1M396 198.5h1M396 191.5h1M383 168.5h1M397 171.5h1M376 192.5h1M386 201.5h1M381 171.5h1M387 169.5h1M389 166.5h1M379 194.5h1M396 168.5h1M388 200.5h1M394 192.5h1M397 169.5h1M394 200.5h1M381 200.5h1M387 164.5h1M390 167.5h1M396 185.5h1M401 175.5h1M398 184.5h1M392 198.5h1M397 166.5h1M399 174.5h1M385 169.5h1M378 175.5h1M383 204.5h1M386 166.5h1M377 186.5h1M379 184.5h1M379 181.5h1M372 186.5h1M378 176.5h1M380 178.5h1M398 175.5h1M393 194.5h1M379 197.5h1M401 174.5h1M396 201.5h1M379 195.5h1M375 186.5h1M399 180.5h1M395 191.5h1M399 168.5h1M381 169.5h1M377 176.5h1M378 193.5h1M396 187.5h1M398 180.5h1M381 174.5h1M379 175.5h1M382 200.5h1M399 169.5h1M377 175.5h1M398 177.5h1M397 185.5h1M388 164.5h1M377 205.5h1M392 167.5h1M390 200.5h1M393 196.5h1M394 198.5h1M389 202.5h1M384 162.5h1M398 179.5h1M375 197.5h1M384 173.5h1M397 197.5h1M379 199.5h1M376 176.5h1M378 195.5h1M382 201.5h1M376 187.5h1M393 207.5h1M391 199.5h1M388 202.5h1M378 194.5h1M378 178.5h1M399 178.5h1M387 167.5h1M399 184.5h1M381 176.5h1M398 183.5h1M396 196.5h1M383 170.5h1M378 181.5h1M378 182.5h1M390 206.5h1M380 200.5h1M383 172.5h1M395 166.5h1M396 166.5h1M396 167.5h1M379 196.5h1M380 201.5h1M388 167.5h1M393 203.5h1M390 202.5h1M395 194.5h1M388 207.5h1M385 164.5h1M398 181.5h1M393 197.5h1M398 182.5h1M395 195.5h1M378 190.5h1M378 204.5h1M374 192.5h1M383 201.5h1M381 201.5h1M391 200.5h1M394 196.5h1M399 173.5h1M379 177.5h1M382 205.5h1M397 174.5h1M397 186.5h1M377 181.5h1M394 165.5h1M398 174.5h1M397 181.5h1M389 199.5h1M380 197.5h1M397 193.5h1M395 198.5h1M398 192.5h1M384 169.5h1M381 175.5h1M398 185.5h1M400 180.5h1M394 201.5h1M397 184.5h1M398 178.5h1M398 165.5h1M384 201.5h1M380 198.5h1M374 187.5h1M376 180.5h1M399 188.5h1M400 182.5h1M377 180.5h1M381 205.5h1M393 165.5h1M387 202.5h1M377 191.5h1M393 161.5h1M380 182.5h1M397 178.5h1M378 196.5h1M390 201.5h1M379 192.5h1M378 198.5h1M383 203.5h1M378 186.5h1M394 193.5h1M398 170.5h1M380 202.5h1M379 198.5h1M385 201.5h1M377 188.5h1M381 166.5h1M397 168.5h1M382 171.5h1M376 191.5h1M379 186.5h1M379 179.5h1M382 165.5h1M378 199.5h1M396 188.5h1M386 168.5h1M398 176.5h1M383 202.5h1M380 181.5h1M398 166.5h1M377 192.5h1M392 163.5h1M387 166.5h1M397 172.5h1M398 168.5h1M379 187.5h1M389 201.5h1M397 196.5h1M384 167.5h1M379 172.5h1M390 166.5h1M387 165.5h1M395 167.5h1M381 177.5h1M400 166.5h1M390 163.5h1M397 187.5h1M394 202.5h1M392 165.5h1M377 184.5h1M391 167.5h1M399 186.5h1M397 173.5h1M381 202.5h1" stroke="#ff5100" stroke-width="1" fill="none" stroke-opacity="0.8"/>
<path d="M389.4 166.8 396.6 166.8 398.4 175.8 397.5 188.3 393 199 385.8 202.6 379.6 199 377.8 188.3 380.5 177.6 385 170.4Z" fill="#ff5100" filter="url(#b)"/>
<path d="M510 156.5h1M511 159.5h1M511 162.5h1M511 163.5h1M512 150.5h1M512 153.5h1M512 157.5h1M512 162.5h1M513 151.5h1M513 152.5h1M513 156.5h1M513 157.5h1M513 158.5h1M513 159.5h1M513 165.5h1M514 151.5h1M514 153.5h1M514 155.5h1M514 163.5h1M514 164.5h1M515 155.5h1M515 156.5h1M515 159.5h1M515 160.5h1M515 162.5h1M515 163.5h1M515 164.5h1M515 166.5h1M515 167.5h1M516 151.5h1M516 152.5h1M516 158.5h1M516 159.5h1M516 161.5h1M516 164.5h1M517 150.5h1M517 151.5h1M517 157.5h1M517 161.5h1M517 162.5h1M517 165.5h1M518 150.5h1M518 153.5h1M518 161.5h1M518 163.5h1M519 151.5h1M519 157.5h1M519 158.5h1M519 161.5h1M520 153.5h1M520 155.5h1M520 156.5h1M520 157.5h1M520 164.5h1M521 153.5h1M521 154.5h1M521 158.5h1M521 167.5h1M522 152.5h1M522 154.5h1M522 159.5h1M523 152.5h1M523 154.5h1M523 155.5h1M523 159.5h1M523 165.5h1M523 166.5h1M524 149.5h1M524 153.5h1M524 157.5h1M524 162.5h1M524 168.5h1M525 150.5h1M525 154.5h1M525 156.5h1M525 159.5h1M525 162.5h1M526 152.5h1M526 154.5h1M526 157.5h1M526 162.5h1M527 151.5h1M527 159.5h1M527 164.5h1M527 166.5h1M527 167.5h1M528 155.5h1M528 156.5h1M528 159.5h1M529 154.5h1M529 157.5h1M529 161.5h1M529 162.5h1M529 166.5h1M530 152.5h1M530 159.5h1M531 157.5h1" stroke="#d2d2d2" stroke-width="1" fill="none"/>
<path d="M479 209.5h1M481 212.5h1M482 206.5h1M483 201.5h1M483 209.5h1M483 210.5h1M484 205.5h1M487 213.5h1M488 201.5h1M488 207.5h1M488 208.5h1M489 206.5h1M489 215.5h1M491 199.5h1M491 203.5h1M491 204.5h1M492 208.5h1M492 214.5h1M493 197.5h1M494 197.5h1M494 202.5h1M495 191.5h1M495 205.5h1M495 209.5h1M496 190.5h1M496 202.5h1M496 207.5h1M497 184.5h1M498 189.5h1M498 207.5h1M499 186.5h1M499 207.5h1M500 189.5h1M500 195.5h1M500 198.5h1M501 194.5h1M501 201.5h1M501 203.5h1M502 187.5h1M503 191.5h1M504 182.5h1M504 183.5h1M504 191.5h1M504 205.5h1M505 179.5h1M505 192.5h1M505 198.5h1M505 201.5h1M506 176.5h1M506 194.5h1M506 201.5h1M507 174.5h1M507 197.5h1M508 177.5h1M508 181.5h1M508 187.5h1M508 188.5h1M508 190.5h1M509 171.5h1M509 174.5h1M509 177.5h1M509 186.5h1M510 173.5h1M511 176.5h1M511 177.5h1" stroke="#d2d2d2" stroke-width="1" fill="none"/>
<path d="M498 216.5h1M474 219.5h1M463 223.5h1M504 218.5h1M502 215.5h1M471 219.5h1M481 229.5h1M475 229.5h1M488 215.5h1M503 217.5h1M497 222.5h1M478 214.5h1M481 228.5h1M496 215.5h1M494 215.5h1M489 225.5h1M487 226.5h1M490 217.5h1M491 216.5h1M482 228.5h1M472 218.5h1M471 228.5h1M484 226.5h1M500 221.5h1M481 218.5h1M472 229.5h1M506 213.5h1M477 228.5h1M491 227.5h1M465 223.5h1M483 218.5h1M469 229.5h1M502 221.5h1M465 220.5h1M466 226.5h1M504 221.5h1M470 221.5h1M504 215.5h1M465 224.5h1M501 215.5h1M466 220.5h1M484 218.5h1M506 214.5h1M490 226.5h1M469 221.5h1M488 227.5h1M477 219.5h1M466 230.5h1M503 221.5h1M474 228.5h1M492 216.5h1M490 225.5h1M487 217.5h1M466 224.5h1M475 219.5h1M496 225.5h1M508 213.5h1M478 230.5h1M464 229.5h1M485 218.5h1M465 222.5h1M498 225.5h1M493 215.5h1M467 219.5h1M482 227.5h1M489 226.5h1M498 222.5h1M473 218.5h1M493 230.5h1M500 222.5h1M496 227.5h1M483 228.5h1M503 218.5h1M493 213.5h1M478 217.5h1M488 216.5h1M471 217.5h1M472 219.5h1M475 231.5h1M500 214.5h1M473 231.5h1M481 217.5h1M476 218.5h1M505 217.5h1M467 221.5h1M473 229.5h1M495 227.5h1M497 223.5h1M488 217.5h1M482 229.5h1M477 217.5h1M480 218.5h1M482 217.5h1M476 229.5h1M476 231.5h1M469 228.5h1M484 228.5h1M472 220.5h1M463 229.5h1M494 225.5h1M490 216.5h1M491 225.5h1M489 216.5h1M463 226.5h1M466 225.5h1M478 229.5h1M491 217.5h1M475 217.5h1M469 218.5h1M497 216.5h1M478 216.5h1M503 215.5h1M485 226.5h1M493 225.5h1M498 224.5h1M472 228.5h1M474 216.5h1M504 219.5h1M495 223.5h1M499 214.5h1M474 220.5h1M480 228.5h1" stroke="#d2d2d2" stroke-width="1" fill="none" stroke-opacity="0.8"/>
<path d="M465.2 222.3 475.9 218.7 493.8 216 505 215.5 503 221 493.8 225.9 475.9 229.4 466 228.6Z" fill="#d2d2d2" filter="url(#b)"/>
<path d="M505 215.5 524.2 213.3 526 216.9 511.7 221.4 503 222Z" fill="#d2d2d2" filter="url(#b2)" fill-opacity="0.6"/>
<path d="M503 220.5h1M504 222.5h1M505 215.5h1M505 217.5h1M505 218.5h1M506 215.5h1M506 217.5h1M506 218.5h1M507 219.5h1M507 220.5h1M508 220.5h1M508 221.5h1M509 217.5h1M509 219.5h1M510 218.5h1M510 219.5h1M510 220.5h1M510 221.5h1M511 221.5h1M512 217.5h1M512 218.5h1M513 219.5h1M513 220.5h1M515 215.5h1M515 216.5h1M516 216.5h1M516 217.5h1M517 216.5h1M517 218.5h1M518 216.5h1M518 218.5h1M518 219.5h1M519 215.5h1M519 216.5h1M520 215.5h1M521 219.5h1M522 214.5h1M522 215.5h1M522 216.5h1M522 217.5h1M523 213.5h1M523 214.5h1M523 216.5h1M524 213.5h1M524 214.5h1" stroke="#d2d2d2" stroke-width="1" fill="none"/>
<path d="M517 209.8 526 200.8 533.1 190.1 540.3 191.9 543 200.8 538.5 209.8 529.6 215.1 520.6 215.1Z" fill="#a0a0a2" filter="url(#b2)" fill-opacity="0.6"/>
<path d="M517 210.5h1M518 209.5h1M518 210.5h1M518 211.5h1M519 209.5h1M519 210.5h1M519 211.5h1M519 214.5h1M520 208.5h1M520 209.5h1M520 211.5h1M520 213.5h1M520 214.5h1M520 215.5h1M521 204.5h1M521 205.5h1M521 206.5h1M521 207.5h1M521 210.5h1M521 214.5h1M522 204.5h1M522 205.5h1M522 206.5h1M522 207.5h1M522 209.5h1M522 211.5h1M522 212.5h1M522 213.5h1M523 202.5h1M523 203.5h1M523 204.5h1M523 205.5h1M523 208.5h1M523 209.5h1M523 213.5h1M523 214.5h1M524 202.5h1M524 204.5h1M524 205.5h1M524 207.5h1M524 209.5h1M524 210.5h1M524 213.5h1M524 214.5h1M525 200.5h1M525 202.5h1M525 203.5h1M525 204.5h1M525 208.5h1M525 209.5h1M525 212.5h1M525 215.5h1M526 201.5h1M526 210.5h1M526 211.5h1M526 215.5h1M527 198.5h1M527 203.5h1M527 204.5h1M527 205.5h1M527 206.5h1M527 208.5h1M527 209.5h1M527 210.5h1M527 212.5h1M527 213.5h1M528 198.5h1M528 199.5h1M528 203.5h1M528 206.5h1M528 208.5h1M528 209.5h1M528 213.5h1M529 196.5h1M529 198.5h1M529 199.5h1M529 201.5h1M529 202.5h1M529 203.5h1M529 204.5h1M529 205.5h1M529 209.5h1M529 210.5h1M529 213.5h1M529 214.5h1M529 215.5h1M530 195.5h1M530 196.5h1M530 201.5h1M530 206.5h1M530 208.5h1M530 209.5h1M530 211.5h1M530 214.5h1M531 191.5h1M531 193.5h1M531 194.5h1M531 196.5h1M531 197.5h1M531 200.5h1M531 203.5h1M531 204.5h1M531 205.5h1M531 206.5h1M531 207.5h1M531 208.5h1M531 209.5h1M531 211.5h1M531 212.5h1M531 214.5h1M532 191.5h1M532 195.5h1M532 197.5h1M532 199.5h1M532 205.5h1M532 206.5h1M532 210.5h1M532 211.5h1M532 212.5h1M532 214.5h1M533 192.5h1M533 194.5h1M533 196.5h1M533 197.5h1M533 198.5h1M533 199.5h1M533 200.5h1M533 203.5h1M533 206.5h1M533 208.5h1M533 209.5h1M534 191.5h1M534 192.5h1M534 193.5h1M534 195.5h1M534 196.5h1M534 198.5h1M534 199.5h1M534 200.5h1M534 203.5h1M534 205.5h1M534 206.5h1M534 207.5h1M534 209.5h1M534 210.5h1M534 211.5h1M535 190.5h1M535 191.5h1M535 192.5h1M535 193.5h1M535 194.5h1M535 195.5h1M535 196.5h1M535 197.5h1M535 199.5h1M535 200.5h1M535 201.5h1M535 202.5h1M535 203.5h1M535 205.5h1M535 206.5h1M536 192.5h1M536 193.5h1M536 194.5h1M536 196.5h1M536 198.5h1M536 201.5h1M536 203.5h1M536 204.5h1M536 206.5h1M536 209.5h1M537 191.5h1M537 192.5h1M537 193.5h1M537 195.5h1M537 196.5h1M537 198.5h1M537 204.5h1M537 207.5h1M537 208.5h1M538 190.5h1M538 192.5h1M538 193.5h1M538 194.5h1M538 196.5h1M538 199.5h1M538 200.5h1M538 203.5h1M538 204.5h1M538 205.5h1M538 206.5h1M538 208.5h1M538 210.5h1M539 193.5h1M539 198.5h1M539 199.5h1M539 200.5h1M539 201.5h1M539 204.5h1M539 205.5h1M539 208.5h1M539 209.5h1M540 192.5h1M540 196.5h1M540 197.5h1M540 198.5h1M540 199.5h1M540 200.5h1M540 202.5h1M540 203.5h1M540 204.5h1M541 193.5h1M541 200.5h1M541 201.5h1M541 205.5h1M542 198.5h1M542 203.5h1M543 201.5h1" stroke="#a0a0a2" stroke-width="1" fill="none"/>
<path d="M514 197.5h1M522 184.5h1M519 177.5h1M520 168.5h1M525 179.5h1M516 197.5h1M522 205.5h1M519 179.5h1M527 171.5h1M521 168.5h1M514 193.5h1M529 182.5h1M531 192.5h1M528 184.5h1M508 161.5h1M518 202.5h1M525 178.5h1M534 192.5h1M523 164.5h1M522 191.5h1M514 188.5h1M511 186.5h1M517 197.5h1M533 182.5h1M513 180.5h1M529 195.5h1M521 179.5h1M527 183.5h1M512 193.5h1M533 185.5h1M537 185.5h1M525 164.5h1M530 208.5h1M524 207.5h1M526 179.5h1M512 179.5h1M530 188.5h1M520 170.5h1M527 194.5h1M535 184.5h1M508 205.5h1M535 186.5h1M530 159.5h1M511 197.5h1M523 202.5h1M521 171.5h1M518 188.5h1M530 193.5h1M532 193.5h1M527 203.5h1M533 181.5h1M522 182.5h1M528 174.5h1M531 207.5h1M522 198.5h1M524 189.5h1M521 196.5h1M512 195.5h1M522 178.5h1M527 202.5h1M524 184.5h1M518 158.5h1M520 202.5h1M526 200.5h1M518 208.5h1M517 160.5h1M524 156.5h1M534 191.5h1M525 157.5h1M515 169.5h1M523 185.5h1M519 168.5h1M518 162.5h1M517 191.5h1M530 192.5h1M529 158.5h1M504 180.5h1M514 203.5h1M521 188.5h1M539 157.5h1M520 187.5h1M526 169.5h1M521 177.5h1M532 187.5h1M512 184.5h1M518 200.5h1M534 163.5h1M537 176.5h1M516 207.5h1M506 154.5h1M504 157.5h1M529 188.5h1M514 169.5h1M521 174.5h1M532 171.5h1M518 157.5h1M523 171.5h1M523 168.5h1M511 178.5h1M516 182.5h1M519 203.5h1M530 191.5h1M527 198.5h1M529 179.5h1M517 186.5h1M522 187.5h1M523 186.5h1M507 185.5h1M518 159.5h1M530 195.5h1M528 200.5h1M513 178.5h1M520 162.5h1M509 204.5h1M512 200.5h1M521 157.5h1M526 167.5h1M521 205.5h1M523 188.5h1M530 169.5h1M517 180.5h1M516 195.5h1M514 176.5h1M525 206.5h1" stroke="#ff0000" stroke-width="1" fill="none" stroke-opacity="0.75"/>
<path d="M530 197.5h1M520 204.5h1M510 193.5h1M532 193.5h1M511 180.5h1M523 171.5h1M532 178.5h1M533 197.5h1M532 181.5h1M532 188.5h1M533 178.5h1M534 197.5h1M517 168.5h1M511 174.5h1M530 200.5h1M514 175.5h1M517 207.5h1M528 210.5h1M527 169.5h1M515 171.5h1M531 174.5h1M531 189.5h1M523 169.5h1M525 208.5h1M527 202.5h1M509 171.5h1M509 185.5h1M533 177.5h1M529 172.5h1M519 172.5h1M516 174.5h1M527 210.5h1M511 198.5h1M510 199.5h1M519 207.5h1M510 186.5h1M524 207.5h1M515 199.5h1M516 204.5h1M519 171.5h1M510 185.5h1M536 197.5h1M531 195.5h1M531 199.5h1M535 176.5h1M528 202.5h1M514 176.5h1M511 201.5h1M513 200.5h1M525 207.5h1M512 201.5h1M533 190.5h1M520 209.5h1M512 172.5h1M529 198.5h1M528 201.5h1M510 208.5h1M524 209.5h1M530 172.5h1M511 193.5h1M536 167.5h1M529 168.5h1M509 192.5h1M528 203.5h1M512 180.5h1M530 199.5h1M535 187.5h1M524 170.5h1M525 209.5h1M537 179.5h1M518 205.5h1M508 185.5h1M510 194.5h1M514 199.5h1M505 180.5h1M532 197.5h1M525 206.5h1M528 171.5h1M509 180.5h1M533 186.5h1M510 180.5h1M532 202.5h1M510 197.5h1M529 204.5h1M515 175.5h1M515 206.5h1M511 194.5h1M532 174.5h1M531 194.5h1M532 180.5h1M516 201.5h1M533 199.5h1M517 203.5h1M530 201.5h1M511 187.5h1M512 204.5h1M530 170.5h1M514 173.5h1M529 200.5h1M531 183.5h1M519 204.5h1M530 195.5h1M522 169.5h1M533 192.5h1M511 197.5h1M530 176.5h1M521 210.5h1M525 204.5h1M513 199.5h1M523 170.5h1M532 190.5h1M531 185.5h1M521 171.5h1M516 203.5h1M536 177.5h1M508 194.5h1M522 171.5h1M531 191.5h1M512 196.5h1M516 173.5h1M504 197.5h1M528 172.5h1M532 175.5h1M513 169.5h1M509 176.5h1M525 205.5h1M512 175.5h1M530 191.5h1M521 172.5h1M512 179.5h1M532 194.5h1M531 177.5h1M533 194.5h1M527 170.5h1M531 205.5h1M527 203.5h1M531 193.5h1M511 184.5h1M528 200.5h1M515 202.5h1M534 179.5h1M516 167.5h1M521 170.5h1M510 187.5h1M521 204.5h1M529 196.5h1M533 168.5h1M531 204.5h1M529 197.5h1M510 184.5h1M511 196.5h1M522 205.5h1M509 191.5h1M512 198.5h1M531 200.5h1M521 166.5h1M526 167.5h1M535 175.5h1M521 205.5h1M510 195.5h1M527 168.5h1M513 198.5h1M532 186.5h1M517 173.5h1M533 175.5h1M509 193.5h1M521 169.5h1M510 176.5h1M531 182.5h1M518 204.5h1M527 171.5h1M529 202.5h1M522 170.5h1M522 206.5h1M518 170.5h1M512 176.5h1M536 166.5h1M512 195.5h1M530 175.5h1M510 181.5h1M512 192.5h1M509 186.5h1M533 181.5h1M512 199.5h1M526 171.5h1M532 189.5h1M520 169.5h1M526 204.5h1M516 206.5h1M506 194.5h1M506 195.5h1M525 171.5h1M517 202.5h1M530 174.5h1M510 190.5h1M510 196.5h1M528 173.5h1M530 193.5h1M531 196.5h1M519 206.5h1M525 203.5h1M531 187.5h1M530 202.5h1M510 183.5h1M505 188.5h1M515 173.5h1M531 186.5h1M524 206.5h1M530 198.5h1M519 205.5h1M522 204.5h1M527 166.5h1M532 183.5h1M527 165.5h1M524 167.5h1M521 167.5h1M506 190.5h1M531 192.5h1M507 177.5h1M520 206.5h1M520 170.5h1" stroke="#ff0000" stroke-width="1" fill="none" stroke-opacity="0.8"/>
<path d="M518.8 172 527.8 170 532.2 177 532.2 190.1 529.6 200.8 524.2 206.2 517 204.4 511.7 195.5 510.8 183.5 513.5 176Z" fill="#ff0000" filter="url(#b)"/>
<path d="M146 285.5h1M154 290.5h1M153 294.5h1M157 291.5h1M143 285.5h1M139 284.5h1M154 287.5h1M153 284.5h1M150 300.5h1M150 299.5h1M139 303.5h1M134 298.5h1M138 299.5h1M152 296.5h1M149 286.5h1M136 286.5h1M140 304.5h1M136 296.5h1M139 300.5h1M153 289.5h1M154 291.5h1M137 291.5h1M137 299.5h1M153 297.5h1M141 286.5h1M136 285.5h1M139 305.5h1M138 304.5h1M151 299.5h1M136 291.5h1M140 286.5h1M153 293.5h1M147 301.5h1M153 288.5h1M149 285.5h1M137 287.5h1M143 304.5h1M139 302.5h1M144 286.5h1M137 300.5h1M152 283.5h1M155 294.5h1M145 285.5h1M138 301.5h1M157 299.5h1M142 303.5h1M140 303.5h1M142 302.5h1M137 303.5h1M145 301.5h1M133 294.5h1M137 285.5h1M153 292.5h1M146 302.5h1M152 297.5h1" stroke="#d2d2d2" stroke-width="1" fill="none" stroke-opacity="0.8"/>
<path d="M136.5 285.8 154.5 285.8 154 296 149 302 140 303.5 136.5 295Z" fill="#d2d2d2" filter="url(#b)"/>
<path d="M98 350 110 332 124 312 136 302 137 357 118 357 98 357Z" fill="#d2d2d2" filter="url(#b2)" fill-opacity="0.2"/>
<path d="M98 355.5h1M99 345.5h1M99 352.5h1M100 349.5h1M100 350.5h1M100 353.5h1M101 354.5h1M101 355.5h1M102 353.5h1M102 356.5h1M102 357.5h1M103 347.5h1M103 348.5h1M103 351.5h1M105 340.5h1M105 342.5h1M106 337.5h1M106 339.5h1M106 345.5h1M106 346.5h1M106 348.5h1M106 353.5h1M107 339.5h1M107 345.5h1M107 347.5h1M107 350.5h1M107 352.5h1M108 334.5h1M108 337.5h1M108 345.5h1M108 347.5h1M108 350.5h1M109 340.5h1M109 344.5h1M109 346.5h1M109 350.5h1M110 333.5h1M110 336.5h1M110 337.5h1M110 338.5h1M110 345.5h1M110 347.5h1M110 348.5h1M111 340.5h1M111 347.5h1M111 355.5h1M111 356.5h1M112 340.5h1M112 350.5h1M112 354.5h1M112 355.5h1M113 327.5h1M113 328.5h1M113 342.5h1M113 343.5h1M113 355.5h1M114 327.5h1M114 335.5h1M114 336.5h1M114 346.5h1M114 347.5h1M114 355.5h1M115 322.5h1M115 326.5h1M115 329.5h1M115 330.5h1M115 335.5h1M115 338.5h1M115 345.5h1M115 347.5h1M115 348.5h1M115 349.5h1M115 355.5h1M116 324.5h1M116 328.5h1M116 333.5h1M116 334.5h1M116 336.5h1M116 342.5h1M116 344.5h1M116 350.5h1M116 351.5h1M117 321.5h1M117 329.5h1M117 341.5h1M117 342.5h1M117 343.5h1M117 344.5h1M117 349.5h1M117 357.5h1M118 319.5h1M118 321.5h1M118 324.5h1M118 328.5h1M118 341.5h1M118 343.5h1M118 344.5h1M118 347.5h1M118 350.5h1M119 323.5h1M119 325.5h1M119 328.5h1M119 345.5h1M119 347.5h1M119 349.5h1M119 350.5h1M120 337.5h1M120 341.5h1M120 344.5h1M120 345.5h1M120 346.5h1M120 350.5h1M121 314.5h1M121 323.5h1M121 326.5h1M121 328.5h1M121 331.5h1M121 336.5h1M121 337.5h1M121 338.5h1M121 343.5h1M121 345.5h1M121 350.5h1M121 351.5h1M122 312.5h1M122 315.5h1M122 317.5h1M122 323.5h1M122 347.5h1M122 349.5h1M122 354.5h1M123 318.5h1M123 320.5h1M123 335.5h1M123 336.5h1M123 341.5h1M123 349.5h1M123 350.5h1M123 352.5h1M123 353.5h1M123 356.5h1M124 312.5h1M124 324.5h1M124 332.5h1M124 339.5h1M124 343.5h1M124 346.5h1M124 351.5h1M125 322.5h1M125 326.5h1M125 330.5h1M125 334.5h1M125 338.5h1M125 340.5h1M125 343.5h1M125 344.5h1M125 347.5h1M126 309.5h1M126 312.5h1M126 320.5h1M126 336.5h1M126 337.5h1M126 338.5h1M126 339.5h1M126 340.5h1M126 351.5h1M126 355.5h1M127 312.5h1M127 315.5h1M127 322.5h1M127 327.5h1M127 329.5h1M127 333.5h1M127 342.5h1M127 349.5h1M127 351.5h1M127 353.5h1M128 312.5h1M128 319.5h1M128 320.5h1M128 331.5h1M128 332.5h1M128 334.5h1M128 337.5h1M128 340.5h1M128 341.5h1M128 349.5h1M128 353.5h1M128 356.5h1M129 312.5h1M129 318.5h1M129 319.5h1M129 326.5h1M129 327.5h1M129 332.5h1M129 337.5h1M129 339.5h1M129 351.5h1M130 316.5h1M130 317.5h1M130 324.5h1M130 327.5h1M130 337.5h1M130 344.5h1M130 345.5h1M130 346.5h1M130 349.5h1M130 350.5h1M130 355.5h1M131 311.5h1M131 313.5h1M131 314.5h1M131 316.5h1M131 320.5h1M131 332.5h1M131 337.5h1M132 306.5h1M132 312.5h1M132 318.5h1M132 319.5h1M132 320.5h1M132 323.5h1M132 325.5h1M132 332.5h1M132 343.5h1M132 345.5h1M132 351.5h1M133 311.5h1M133 313.5h1M133 314.5h1M133 318.5h1M133 322.5h1M133 327.5h1M133 339.5h1M133 340.5h1M133 344.5h1M133 351.5h1M133 353.5h1M134 303.5h1M134 306.5h1M134 309.5h1M134 314.5h1M134 315.5h1M134 327.5h1M134 332.5h1M134 338.5h1M134 342.5h1M134 345.5h1M135 308.5h1M135 325.5h1M135 329.5h1M135 332.5h1M135 349.5h1M135 355.5h1M136 310.5h1M136 319.5h1M136 324.5h1M136 327.5h1M136 332.5h1M136 336.5h1M136 337.5h1M136 342.5h1M136 345.5h1M136 356.5h1M137 326.5h1M137 332.5h1" stroke="#d2d2d2" stroke-width="1" fill="none"/>
<path d="M116 362.5h1M84 375.5h1M118 365.5h1M101 359.5h1M82 373.5h1M117 366.5h1M107 375.5h1M80 361.5h1M88 375.5h1M119 364.5h1M84 376.5h1M117 362.5h1M83 367.5h1M117 373.5h1M95 376.5h1M103 376.5h1M116 363.5h1M88 357.5h1M94 358.5h1M115 359.5h1M109 376.5h1M84 369.5h1M84 356.5h1M81 366.5h1M116 369.5h1M92 378.5h1M85 376.5h1M112 377.5h1M103 357.5h1M99 359.5h1M111 358.5h1M84 361.5h1M83 363.5h1M87 377.5h1M85 377.5h1M116 365.5h1M104 357.5h1M108 376.5h1M82 371.5h1M94 377.5h1M115 358.5h1M103 354.5h1M97 359.5h1M108 357.5h1M95 359.5h1M83 358.5h1M117 361.5h1M102 376.5h1M84 373.5h1M111 378.5h1M115 360.5h1M97 358.5h1M89 358.5h1M82 378.5h1M103 358.5h1M114 357.5h1M85 375.5h1M100 358.5h1M101 358.5h1M84 371.5h1M118 377.5h1M87 376.5h1M84 364.5h1M83 364.5h1M109 356.5h1M101 355.5h1M93 355.5h1M112 357.5h1M83 372.5h1M103 378.5h1M114 375.5h1M116 368.5h1M89 375.5h1M90 356.5h1M112 355.5h1M82 366.5h1M92 376.5h1M90 376.5h1M81 369.5h1M98 378.5h1M100 357.5h1M114 378.5h1M110 358.5h1M83 373.5h1M81 375.5h1M118 368.5h1M93 377.5h1M81 365.5h1M115 374.5h1M83 366.5h1M111 357.5h1M106 376.5h1M115 361.5h1M86 358.5h1M117 372.5h1M88 376.5h1M83 370.5h1M112 359.5h1M84 370.5h1M108 377.5h1M107 356.5h1M118 362.5h1M117 363.5h1M116 366.5h1M107 378.5h1M88 359.5h1M99 358.5h1M87 375.5h1M111 376.5h1M119 360.5h1M111 380.5h1M113 374.5h1M101 376.5h1M82 369.5h1M113 359.5h1M116 364.5h1M97 375.5h1" stroke="#d2d2d2" stroke-width="1" fill="none" stroke-opacity="0.8"/>
<path d="M84 358.5 113.5 358.5 117.2 362 117.2 373.5 111.7 376.5 84 376.5Z" fill="#d2d2d2" filter="url(#b)"/>
<path d="M135.3 357 150 356 154 362 152 369 146 372 138 372 134 365Z" fill="#d2d2d2" filter="url(#b2)" fill-opacity="0.7"/>
<path d="M133 366.5h1M134 361.5h1M134 363.5h1M134 364.5h1M135 358.5h1M135 360.5h1M135 361.5h1M135 362.5h1M135 363.5h1M135 366.5h1M136 360.5h1M136 363.5h1M136 364.5h1M136 365.5h1M136 366.5h1M137 355.5h1M137 358.5h1M137 359.5h1M137 362.5h1M137 370.5h1M137 371.5h1M138 356.5h1M138 357.5h1M138 358.5h1M138 362.5h1M138 365.5h1M138 368.5h1M138 370.5h1M138 371.5h1M139 357.5h1M139 358.5h1M139 359.5h1M139 362.5h1M139 364.5h1M139 365.5h1M139 367.5h1M139 368.5h1M139 370.5h1M140 358.5h1M140 360.5h1M140 362.5h1M140 363.5h1M140 366.5h1M140 367.5h1M140 371.5h1M141 356.5h1M141 358.5h1M141 359.5h1M141 360.5h1M141 363.5h1M141 366.5h1M141 367.5h1M141 368.5h1M141 370.5h1M141 372.5h1M142 359.5h1M142 361.5h1M142 363.5h1M142 364.5h1M142 365.5h1M142 366.5h1M142 367.5h1M142 368.5h1M142 369.5h1M143 361.5h1M143 362.5h1M143 364.5h1M143 365.5h1M143 366.5h1M143 367.5h1M143 372.5h1M144 356.5h1M144 357.5h1M144 358.5h1M144 359.5h1M144 360.5h1M144 361.5h1M144 362.5h1M144 364.5h1M144 367.5h1M144 371.5h1M145 357.5h1M145 358.5h1M145 360.5h1M145 361.5h1M145 363.5h1M145 364.5h1M145 365.5h1M145 368.5h1M145 369.5h1M145 372.5h1M146 357.5h1M146 358.5h1M146 361.5h1M146 367.5h1M146 368.5h1M146 371.5h1M147 360.5h1M147 363.5h1M147 364.5h1M147 365.5h1M147 366.5h1M147 367.5h1M148 356.5h1M148 358.5h1M148 359.5h1M148 361.5h1M148 362.5h1M148 364.5h1M148 365.5h1M148 366.5h1M148 368.5h1M148 370.5h1M149 357.5h1M149 358.5h1M149 363.5h1M149 364.5h1M149 365.5h1M149 366.5h1M149 369.5h1M150 357.5h1M150 359.5h1M150 363.5h1M150 365.5h1M150 370.5h1M151 362.5h1M151 363.5h1M151 365.5h1M151 367.5h1M152 360.5h1M152 361.5h1M152 362.5h1M152 369.5h1M153 361.5h1M153 362.5h1M153 363.5h1" stroke="#d2d2d2" stroke-width="1" fill="none"/>
<path d="M137 339 153.9 332.4 160 336 161 344.2 156 353 150 360 145 366 139 367 136.1 356Z" fill="#a0a0a2" filter="url(#b2)" fill-opacity="0.6"/>
<path d="M136 339.5h1M136 342.5h1M136 345.5h1M136 347.5h1M136 351.5h1M136 355.5h1M136 357.5h1M137 339.5h1M137 343.5h1M137 344.5h1M137 346.5h1M137 348.5h1M137 349.5h1M137 351.5h1M137 353.5h1M137 355.5h1M137 356.5h1M137 358.5h1M137 360.5h1M138 337.5h1M138 342.5h1M138 344.5h1M138 345.5h1M138 346.5h1M138 347.5h1M138 348.5h1M138 353.5h1M138 354.5h1M138 355.5h1M138 358.5h1M138 361.5h1M138 364.5h1M138 366.5h1M139 337.5h1M139 338.5h1M139 340.5h1M139 342.5h1M139 343.5h1M139 344.5h1M139 348.5h1M139 350.5h1M139 354.5h1M139 355.5h1M139 357.5h1M139 359.5h1M139 361.5h1M139 364.5h1M140 337.5h1M140 346.5h1M140 350.5h1M140 352.5h1M140 355.5h1M140 357.5h1M140 360.5h1M140 362.5h1M140 363.5h1M141 336.5h1M141 338.5h1M141 339.5h1M141 340.5h1M141 342.5h1M141 343.5h1M141 345.5h1M141 346.5h1M141 349.5h1M141 350.5h1M141 351.5h1M141 352.5h1M141 353.5h1M141 354.5h1M141 355.5h1M141 357.5h1M141 359.5h1M141 360.5h1M141 362.5h1M141 364.5h1M141 365.5h1M141 367.5h1M142 336.5h1M142 337.5h1M142 339.5h1M142 344.5h1M142 345.5h1M142 346.5h1M142 347.5h1M142 348.5h1M142 349.5h1M142 350.5h1M142 351.5h1M142 352.5h1M142 353.5h1M142 354.5h1M142 355.5h1M142 356.5h1M142 357.5h1M142 359.5h1M142 360.5h1M142 362.5h1M142 364.5h1M142 365.5h1M143 336.5h1M143 340.5h1M143 343.5h1M143 346.5h1M143 350.5h1M143 351.5h1M143 352.5h1M143 353.5h1M143 354.5h1M143 358.5h1M143 359.5h1M143 360.5h1M143 361.5h1M143 362.5h1M144 337.5h1M144 340.5h1M144 341.5h1M144 344.5h1M144 347.5h1M144 350.5h1M144 351.5h1M144 354.5h1M144 355.5h1M144 356.5h1M144 357.5h1M144 358.5h1M144 361.5h1M144 362.5h1M144 365.5h1M145 337.5h1M145 338.5h1M145 341.5h1M145 344.5h1M145 345.5h1M145 347.5h1M145 349.5h1M145 351.5h1M145 352.5h1M145 354.5h1M145 362.5h1M146 335.5h1M146 338.5h1M146 339.5h1M146 342.5h1M146 344.5h1M146 346.5h1M146 348.5h1M146 350.5h1M146 352.5h1M146 353.5h1M146 355.5h1M146 358.5h1M147 337.5h1M147 339.5h1M147 340.5h1M147 344.5h1M147 346.5h1M147 347.5h1M147 351.5h1M147 354.5h1M147 355.5h1M147 356.5h1M147 357.5h1M147 358.5h1M147 361.5h1M147 362.5h1M148 335.5h1M148 337.5h1M148 341.5h1M148 342.5h1M148 344.5h1M148 345.5h1M148 349.5h1M148 358.5h1M149 337.5h1M149 340.5h1M149 341.5h1M149 342.5h1M149 348.5h1M149 349.5h1M149 350.5h1M149 354.5h1M150 337.5h1M150 338.5h1M150 339.5h1M150 340.5h1M150 342.5h1M150 344.5h1M150 349.5h1M150 350.5h1M150 358.5h1M150 359.5h1M151 338.5h1M151 339.5h1M151 341.5h1M151 345.5h1M151 346.5h1M151 347.5h1M151 348.5h1M151 351.5h1M151 354.5h1M151 356.5h1M152 334.5h1M152 336.5h1M152 337.5h1M152 338.5h1M152 343.5h1M152 344.5h1M152 345.5h1M152 351.5h1M153 337.5h1M153 338.5h1M153 343.5h1M153 345.5h1M153 346.5h1M153 347.5h1M153 348.5h1M153 349.5h1M153 351.5h1M153 352.5h1M153 354.5h1M154 334.5h1M154 338.5h1M154 339.5h1M154 340.5h1M154 342.5h1M154 344.5h1M154 349.5h1M154 351.5h1M154 352.5h1M155 336.5h1M155 340.5h1M155 341.5h1M155 342.5h1M155 343.5h1M155 345.5h1M155 350.5h1M155 352.5h1M156 335.5h1M156 336.5h1M156 338.5h1M156 341.5h1M156 345.5h1M156 346.5h1M156 350.5h1M157 335.5h1M157 337.5h1M157 339.5h1M157 340.5h1M157 341.5h1M157 346.5h1M157 350.5h1M158 335.5h1M158 338.5h1M158 339.5h1M158 340.5h1M158 341.5h1M158 343.5h1M158 344.5h1M158 346.5h1M158 348.5h1M158 349.5h1M159 342.5h1M159 345.5h1M160 338.5h1M161 341.5h1" stroke="#a0a0a2" stroke-width="1" fill="none"/>
<path d="M153 335.5h1M141 339.5h1M152 335.5h1M148 351.5h1M155 346.5h1M154 346.5h1M143 353.5h1M150 335.5h1M155 339.5h1M140 341.5h1M143 354.5h1M140 349.5h1M142 352.5h1M154 336.5h1M143 352.5h1M156 344.5h1M138 346.5h1M146 355.5h1M148 334.5h1M140 346.5h1M153 346.5h1M141 351.5h1M154 344.5h1M138 341.5h1M147 337.5h1M148 352.5h1M149 350.5h1M153 336.5h1M147 352.5h1M154 345.5h1M140 350.5h1M156 345.5h1M139 353.5h1M149 352.5h1M156 346.5h1M156 339.5h1M143 334.5h1M139 351.5h1M147 333.5h1M153 348.5h1M155 336.5h1M139 345.5h1M157 341.5h1M151 349.5h1M153 349.5h1M155 343.5h1M151 335.5h1M149 336.5h1M139 349.5h1M141 336.5h1M138 351.5h1M147 335.5h1M154 351.5h1" stroke="#a0a0a2" stroke-width="1" fill="none" stroke-opacity="0.8"/>
<path d="M140 339 153 335 156.5 339 155.5 345 150 351 144 354 139.5 350Z" fill="#a0a0a2" filter="url(#b)"/>
<path d="M140 328.5h1M146 319.5h1M153 336.5h1M131 308.5h1M149 332.5h1M139 310.5h1M149 313.5h1M152 306.5h1M133 349.5h1M142 321.5h1M143 320.5h1M142 342.5h1M141 307.5h1M151 315.5h1M152 331.5h1M128 311.5h1M152 313.5h1M150 303.5h1M134 313.5h1M147 322.5h1M165 334.5h1M147 312.5h1M161 328.5h1M157 326.5h1M150 334.5h1M143 332.5h1M151 301.5h1M157 322.5h1M149 309.5h1M140 332.5h1M145 325.5h1M154 326.5h1M148 299.5h1M156 323.5h1M132 315.5h1M156 301.5h1M130 324.5h1M156 304.5h1M136 315.5h1M131 307.5h1M158 306.5h1M151 307.5h1M146 314.5h1M146 315.5h1M157 297.5h1M144 302.5h1M139 317.5h1M140 325.5h1M157 301.5h1M146 336.5h1M142 299.5h1M133 326.5h1M155 328.5h1M143 296.5h1M141 332.5h1M143 299.5h1M134 336.5h1M140 315.5h1M166 322.5h1M151 313.5h1M134 304.5h1M155 300.5h1M145 323.5h1M140 341.5h1M138 330.5h1M140 314.5h1M144 314.5h1M134 310.5h1M139 342.5h1M151 318.5h1M135 320.5h1M154 302.5h1M151 343.5h1M153 342.5h1M155 308.5h1M154 330.5h1M150 332.5h1M140 302.5h1M133 316.5h1M143 333.5h1M149 315.5h1M139 330.5h1M150 304.5h1M141 313.5h1M153 307.5h1M155 313.5h1M157 318.5h1M137 300.5h1M142 308.5h1M151 304.5h1M142 312.5h1M147 317.5h1M139 333.5h1M137 323.5h1M150 310.5h1M158 310.5h1M139 329.5h1M152 324.5h1M153 329.5h1M145 309.5h1M143 330.5h1M153 330.5h1M125 310.5h1M139 311.5h1M148 300.5h1M138 288.5h1M137 317.5h1M139 337.5h1M138 302.5h1M167 322.5h1M140 316.5h1M151 326.5h1M150 329.5h1M134 307.5h1M138 342.5h1M135 319.5h1M130 305.5h1M144 307.5h1M152 302.5h1M137 313.5h1M140 331.5h1M155 309.5h1M144 291.5h1M145 301.5h1M158 318.5h1M135 311.5h1M156 314.5h1M147 302.5h1M149 339.5h1M157 324.5h1M141 326.5h1M135 297.5h1M152 303.5h1M149 310.5h1M145 326.5h1M162 334.5h1M132 329.5h1M141 294.5h1M124 335.5h1M149 312.5h1M148 310.5h1M144 329.5h1M146 326.5h1M150 307.5h1M160 337.5h1M151 330.5h1M129 322.5h1M142 333.5h1M156 329.5h1M138 309.5h1M146 334.5h1M150 323.5h1M140 305.5h1M150 335.5h1M152 316.5h1M138 316.5h1M145 338.5h1M141 312.5h1M157 306.5h1M150 328.5h1M137 326.5h1M161 313.5h1M145 314.5h1M140 335.5h1M154 309.5h1M152 300.5h1M138 335.5h1M147 330.5h1M152 339.5h1M148 327.5h1M144 309.5h1M150 321.5h1M150 316.5h1M152 301.5h1M142 313.5h1M136 306.5h1M155 314.5h1M135 326.5h1M146 320.5h1M158 319.5h1M142 334.5h1M154 322.5h1M155 312.5h1M133 319.5h1M144 326.5h1M166 348.5h1M152 307.5h1M149 317.5h1M140 303.5h1" stroke="#ff5100" stroke-width="1" fill="none" stroke-opacity="0.75"/>
<path d="M150 334.5h1M135 307.5h1M136 309.5h1M152 299.5h1M148 340.5h1M142 301.5h1M137 330.5h1M161 304.5h1M156 319.5h1M142 302.5h1M134 309.5h1M157 310.5h1M161 336.5h1M136 328.5h1M137 337.5h1M156 309.5h1M139 334.5h1M147 337.5h1M134 322.5h1M137 304.5h1M139 303.5h1M157 315.5h1M137 333.5h1M151 337.5h1M160 300.5h1M157 301.5h1M143 336.5h1M160 323.5h1M137 335.5h1M135 322.5h1M136 327.5h1M156 310.5h1M141 341.5h1M151 333.5h1M157 309.5h1M152 301.5h1M155 301.5h1M136 308.5h1M131 307.5h1M151 332.5h1M138 335.5h1M156 317.5h1M135 315.5h1M153 327.5h1M154 325.5h1M137 326.5h1M155 327.5h1M133 298.5h1M156 331.5h1M138 328.5h1M158 326.5h1M144 296.5h1M134 318.5h1M156 300.5h1M141 335.5h1M146 301.5h1M137 296.5h1M135 331.5h1M156 316.5h1M139 300.5h1M137 312.5h1M154 299.5h1M135 311.5h1M138 304.5h1M155 321.5h1M143 338.5h1M136 320.5h1M157 314.5h1M156 321.5h1M134 315.5h1M137 307.5h1M139 301.5h1M133 321.5h1M143 300.5h1M133 323.5h1M157 318.5h1M136 307.5h1M154 327.5h1M132 324.5h1M155 313.5h1M137 325.5h1M136 339.5h1M154 303.5h1M157 305.5h1M137 306.5h1M149 337.5h1M153 300.5h1M137 339.5h1M155 304.5h1M140 336.5h1M144 336.5h1M138 305.5h1M136 333.5h1M131 312.5h1M154 328.5h1M135 334.5h1M136 318.5h1M133 322.5h1M137 329.5h1M137 322.5h1M134 320.5h1M130 311.5h1M148 301.5h1M136 311.5h1M149 338.5h1M157 312.5h1M144 340.5h1M139 335.5h1M155 316.5h1M155 319.5h1M136 314.5h1M157 303.5h1M155 333.5h1M153 301.5h1M154 332.5h1M148 337.5h1M158 323.5h1M134 330.5h1M153 328.5h1M137 317.5h1M157 304.5h1M135 308.5h1M155 332.5h1M136 326.5h1M151 300.5h1M147 338.5h1M133 317.5h1M151 301.5h1M140 334.5h1M154 326.5h1M155 328.5h1M154 331.5h1M135 317.5h1M155 317.5h1M155 320.5h1M149 336.5h1M136 329.5h1M137 305.5h1M136 310.5h1M159 314.5h1M135 314.5h1M134 312.5h1M151 334.5h1M145 339.5h1M155 307.5h1M157 316.5h1M158 309.5h1M150 333.5h1M146 337.5h1M137 323.5h1M147 298.5h1M158 317.5h1M155 323.5h1M158 303.5h1M155 303.5h1M137 316.5h1M144 301.5h1M135 313.5h1M156 308.5h1M141 301.5h1M150 298.5h1M140 304.5h1M153 296.5h1M137 324.5h1M135 321.5h1M138 306.5h1M156 304.5h1M161 325.5h1M156 313.5h1M136 331.5h1M155 314.5h1M137 332.5h1M145 299.5h1M156 320.5h1M150 336.5h1M138 333.5h1M148 300.5h1M137 313.5h1M148 298.5h1M133 330.5h1M136 316.5h1M156 326.5h1M156 325.5h1M137 309.5h1M147 302.5h1M147 340.5h1M145 298.5h1M145 342.5h1M152 300.5h1M160 313.5h1M144 341.5h1M154 304.5h1M139 306.5h1M134 314.5h1M136 317.5h1M132 307.5h1M154 297.5h1M141 304.5h1M155 315.5h1M145 297.5h1M154 330.5h1M140 335.5h1M147 300.5h1M153 333.5h1M146 335.5h1M154 322.5h1M143 337.5h1M156 307.5h1M151 298.5h1M138 329.5h1M156 306.5h1M157 306.5h1M158 327.5h1M133 327.5h1M136 315.5h1M130 314.5h1M156 312.5h1M152 331.5h1M135 310.5h1M141 300.5h1M137 334.5h1M136 325.5h1M141 296.5h1M145 301.5h1M148 299.5h1M143 299.5h1M154 302.5h1M156 324.5h1M143 302.5h1M155 331.5h1" stroke="#ff5100" stroke-width="1" fill="none" stroke-opacity="0.8"/>
<path d="M142 301.9 153.9 300.2 156.4 305.3 156.4 318.8 153.9 330.7 148 336.6 142 337.5 137.8 332.4 136.1 320.5 137 308.6Z" fill="#ff5100" filter="url(#b)"/>
<path d="M266 304.5h1M265 303.5h1M259 301.5h1M258 301.5h1M260 303.5h1M258 293.5h1M264 302.5h1M264 305.5h1M266 298.5h1M267 296.5h1M268 298.5h1M257 294.5h1M268 286.5h1M261 304.5h1M268 287.5h1M266 297.5h1M267 282.5h1M267 295.5h1M267 287.5h1M268 293.5h1M257 303.5h1M269 299.5h1M256 288.5h1M262 303.5h1M255 289.5h1M262 305.5h1M257 292.5h1M257 291.5h1M257 290.5h1M256 285.5h1M258 291.5h1M270 284.5h1M256 295.5h1M264 303.5h1M268 285.5h1M267 291.5h1M267 300.5h1M256 293.5h1M259 299.5h1M269 294.5h1M257 296.5h1M260 284.5h1M263 284.5h1M266 284.5h1M261 302.5h1M261 285.5h1M257 297.5h1M267 283.5h1M259 302.5h1M258 303.5h1" stroke="#d2d2d2" stroke-width="1" fill="none" stroke-opacity="0.8"/>
<path d="M257.3 284.8 268.4 284.8 268.4 294.1 264.7 303.3 259.2 303.3 257.3 294.1Z" fill="#d2d2d2" filter="url(#b)"/>
<path d="M239.5 360 259 362 259 372 240 372Z" fill="#d2d2d2" filter="url(#b2)" fill-opacity="0.4"/>
<path d="M239 361.5h1M240 359.5h1M240 364.5h1M241 369.5h1M242 360.5h1M242 361.5h1M242 362.5h1M242 368.5h1M243 366.5h1M243 367.5h1M244 361.5h1M244 364.5h1M245 364.5h1M245 365.5h1M245 368.5h1M245 369.5h1M245 370.5h1M246 362.5h1M247 359.5h1M247 363.5h1M247 366.5h1M247 368.5h1M247 371.5h1M248 367.5h1M248 369.5h1M248 370.5h1M249 362.5h1M249 366.5h1M250 361.5h1M251 365.5h1M251 370.5h1M252 364.5h1M252 369.5h1M253 366.5h1M253 369.5h1M254 366.5h1M255 367.5h1M256 364.5h1M256 366.5h1M256 367.5h1M256 368.5h1M256 370.5h1M257 362.5h1M257 363.5h1M257 366.5h1M257 367.5h1M258 362.5h1M258 365.5h1M259 370.5h1" stroke="#d2d2d2" stroke-width="1" fill="none"/>
<path d="M218 357.5h1M233 374.5h1M224 377.5h1M232 356.5h1M228 358.5h1M202 364.5h1M211 375.5h1M202 360.5h1M203 372.5h1M201 356.5h1M200 358.5h1M208 359.5h1M223 375.5h1M243 359.5h1M218 380.5h1M209 375.5h1M224 378.5h1M217 378.5h1M209 358.5h1M206 355.5h1M226 359.5h1M232 373.5h1M201 362.5h1M203 363.5h1M241 365.5h1M207 360.5h1M238 360.5h1M236 361.5h1M205 376.5h1M209 376.5h1M200 355.5h1M228 377.5h1M210 375.5h1M219 359.5h1M222 359.5h1M216 359.5h1M212 376.5h1M242 371.5h1M228 353.5h1M230 375.5h1M235 371.5h1M208 358.5h1M225 354.5h1M217 359.5h1M216 356.5h1M214 376.5h1M216 355.5h1M223 354.5h1M201 373.5h1M219 376.5h1M229 374.5h1M204 357.5h1M227 358.5h1M202 356.5h1M236 371.5h1M241 361.5h1M243 368.5h1M204 376.5h1M220 375.5h1M225 359.5h1M234 355.5h1M203 361.5h1M211 359.5h1M239 373.5h1M221 376.5h1M231 374.5h1M202 361.5h1M239 369.5h1M240 366.5h1M206 376.5h1M212 375.5h1M206 359.5h1M210 376.5h1M202 375.5h1M203 360.5h1M230 356.5h1M239 362.5h1M208 378.5h1M240 367.5h1M217 375.5h1M241 359.5h1M224 374.5h1M218 374.5h1M243 364.5h1M234 359.5h1M239 380.5h1M229 357.5h1M239 366.5h1M213 356.5h1M203 371.5h1M197 366.5h1M203 370.5h1M234 358.5h1M201 376.5h1M219 375.5h1M207 358.5h1M208 376.5h1M210 359.5h1M204 378.5h1M242 362.5h1M212 355.5h1M227 379.5h1M203 366.5h1M212 380.5h1M221 374.5h1M235 356.5h1M239 374.5h1M237 370.5h1M200 361.5h1M240 362.5h1M226 374.5h1M209 374.5h1M205 360.5h1M200 364.5h1M202 374.5h1M231 358.5h1M202 373.5h1M233 377.5h1M219 357.5h1M201 375.5h1M227 375.5h1M212 359.5h1M206 377.5h1M207 354.5h1M224 376.5h1M224 375.5h1M232 354.5h1M199 358.5h1M215 377.5h1M234 372.5h1M202 369.5h1M201 357.5h1M234 373.5h1M231 357.5h1M223 359.5h1M239 368.5h1M212 358.5h1M209 357.5h1M234 375.5h1M208 374.5h1M214 358.5h1M239 359.5h1M218 356.5h1M215 374.5h1M228 375.5h1M207 377.5h1M206 375.5h1M205 380.5h1M202 368.5h1M233 375.5h1M244 362.5h1M216 357.5h1M215 356.5h1M241 364.5h1M239 370.5h1M199 373.5h1M229 358.5h1M228 374.5h1M237 361.5h1M203 374.5h1M199 378.5h1M205 375.5h1M205 359.5h1" stroke="#d2d2d2" stroke-width="1" fill="none" stroke-opacity="0.8"/>
<path d="M202.6 360.1 213.2 358.8 226.4 358.8 236.9 360.1 240.9 362.7 239.5 369.3 233 374.6 219.8 375.9 202.6 375.9Z" fill="#d2d2d2" filter="url(#b)"/>
<path d="M205 345 215 335 230 327 245 322 256 323 257 332 250 342 242 352 236 360 222 360 205 356Z" fill="#a0a0a2" filter="url(#b2)" fill-opacity="0.4"/>
<path d="M204 346.5h1M205 344.5h1M205 346.5h1M205 349.5h1M206 347.5h1M206 351.5h1M206 353.5h1M207 344.5h1M207 345.5h1M207 346.5h1M207 351.5h1M207 352.5h1M208 342.5h1M208 345.5h1M208 352.5h1M208 353.5h1M208 355.5h1M208 356.5h1M209 342.5h1M209 352.5h1M209 357.5h1M210 340.5h1M210 341.5h1M210 342.5h1M210 343.5h1M210 345.5h1M210 347.5h1M210 348.5h1M210 350.5h1M210 351.5h1M210 354.5h1M211 341.5h1M211 345.5h1M211 346.5h1M211 347.5h1M211 348.5h1M211 353.5h1M211 354.5h1M211 355.5h1M211 357.5h1M212 337.5h1M212 342.5h1M212 344.5h1M212 348.5h1M212 351.5h1M212 356.5h1M213 339.5h1M213 345.5h1M213 347.5h1M213 348.5h1M213 351.5h1M213 354.5h1M213 355.5h1M213 356.5h1M213 358.5h1M214 337.5h1M214 339.5h1M214 340.5h1M214 341.5h1M214 342.5h1M214 343.5h1M214 344.5h1M214 345.5h1M214 350.5h1M214 352.5h1M214 354.5h1M214 358.5h1M215 336.5h1M215 337.5h1M215 338.5h1M215 339.5h1M215 340.5h1M215 342.5h1M215 344.5h1M215 346.5h1M215 349.5h1M215 352.5h1M215 356.5h1M215 358.5h1M216 334.5h1M216 339.5h1M216 343.5h1M216 345.5h1M216 347.5h1M216 351.5h1M216 352.5h1M216 355.5h1M216 358.5h1M217 336.5h1M217 342.5h1M217 345.5h1M217 346.5h1M217 348.5h1M217 349.5h1M217 350.5h1M217 351.5h1M218 338.5h1M218 339.5h1M218 341.5h1M218 345.5h1M218 348.5h1M218 349.5h1M218 353.5h1M218 357.5h1M218 358.5h1M219 333.5h1M219 337.5h1M219 343.5h1M219 344.5h1M219 347.5h1M219 351.5h1M219 353.5h1M219 354.5h1M219 355.5h1M220 332.5h1M220 339.5h1M220 340.5h1M220 342.5h1M220 344.5h1M220 345.5h1M220 348.5h1M220 349.5h1M220 350.5h1M220 352.5h1M220 353.5h1M221 334.5h1M221 335.5h1M221 336.5h1M221 337.5h1M221 340.5h1M221 345.5h1M221 351.5h1M221 353.5h1M221 354.5h1M221 355.5h1M221 356.5h1M221 358.5h1M222 331.5h1M222 335.5h1M222 338.5h1M222 340.5h1M222 342.5h1M222 348.5h1M222 349.5h1M222 353.5h1M222 357.5h1M222 358.5h1M222 359.5h1M223 336.5h1M223 338.5h1M223 341.5h1M223 342.5h1M223 343.5h1M223 346.5h1M223 351.5h1M223 353.5h1M223 354.5h1M223 355.5h1M223 357.5h1M224 331.5h1M224 332.5h1M224 337.5h1M224 341.5h1M224 343.5h1M224 345.5h1M224 347.5h1M224 348.5h1M224 350.5h1M224 351.5h1M224 354.5h1M224 357.5h1M224 359.5h1M224 360.5h1M225 329.5h1M225 331.5h1M225 332.5h1M225 333.5h1M225 340.5h1M225 342.5h1M225 344.5h1M225 345.5h1M225 346.5h1M225 350.5h1M225 352.5h1M225 358.5h1M225 359.5h1M226 331.5h1M226 333.5h1M226 335.5h1M226 339.5h1M226 340.5h1M226 346.5h1M226 351.5h1M226 352.5h1M226 353.5h1M226 355.5h1M226 356.5h1M226 358.5h1M227 329.5h1M227 332.5h1M227 337.5h1M227 339.5h1M227 349.5h1M227 352.5h1M227 354.5h1M227 356.5h1M227 359.5h1M227 360.5h1M228 332.5h1M228 335.5h1M228 336.5h1M228 337.5h1M228 338.5h1M228 342.5h1M228 344.5h1M228 346.5h1M228 347.5h1M228 351.5h1M228 354.5h1M228 355.5h1M228 360.5h1M229 327.5h1M229 329.5h1M229 332.5h1M229 334.5h1M229 335.5h1M229 339.5h1M229 342.5h1M229 343.5h1M229 345.5h1M229 348.5h1M229 352.5h1M229 353.5h1M229 355.5h1M229 357.5h1M230 327.5h1M230 332.5h1M230 340.5h1M230 345.5h1M230 348.5h1M230 351.5h1M230 353.5h1M230 356.5h1M230 357.5h1M230 358.5h1M231 342.5h1M231 343.5h1M231 347.5h1M231 351.5h1M231 357.5h1M231 360.5h1M232 327.5h1M232 328.5h1M232 329.5h1M232 332.5h1M232 334.5h1M232 336.5h1M232 337.5h1M232 340.5h1M232 344.5h1M232 348.5h1M232 349.5h1M232 351.5h1M232 354.5h1M232 355.5h1M233 328.5h1M233 330.5h1M233 338.5h1M233 339.5h1M233 340.5h1M233 346.5h1M233 347.5h1M233 355.5h1M233 356.5h1M233 357.5h1M233 358.5h1M233 359.5h1M234 328.5h1M234 331.5h1M234 333.5h1M234 335.5h1M234 339.5h1M234 341.5h1M234 343.5h1M234 350.5h1M234 351.5h1M234 354.5h1M234 356.5h1M235 326.5h1M235 327.5h1M235 332.5h1M235 335.5h1M235 336.5h1M235 338.5h1M235 341.5h1M235 343.5h1M235 344.5h1M235 345.5h1M235 347.5h1M235 352.5h1M235 355.5h1M235 357.5h1M235 359.5h1M236 326.5h1M236 328.5h1M236 330.5h1M236 332.5h1M236 336.5h1M236 338.5h1M236 339.5h1M236 340.5h1M236 341.5h1M236 342.5h1M236 343.5h1M236 344.5h1M236 345.5h1M236 346.5h1M236 348.5h1M236 349.5h1M236 352.5h1M237 332.5h1M237 333.5h1M237 335.5h1M237 337.5h1M237 338.5h1M237 341.5h1M237 343.5h1M237 344.5h1M237 347.5h1M237 349.5h1M237 352.5h1M237 354.5h1M238 324.5h1M238 326.5h1M238 327.5h1M238 335.5h1M238 337.5h1M238 340.5h1M238 348.5h1M238 349.5h1M238 351.5h1M238 355.5h1M239 325.5h1M239 328.5h1M239 331.5h1M239 333.5h1M239 336.5h1M239 339.5h1M239 346.5h1M239 347.5h1M239 348.5h1M239 349.5h1M239 350.5h1M239 352.5h1M239 353.5h1M239 354.5h1M240 323.5h1M240 326.5h1M240 334.5h1M240 338.5h1M240 339.5h1M240 340.5h1M240 341.5h1M240 344.5h1M240 346.5h1M240 347.5h1M240 348.5h1M240 349.5h1M240 350.5h1M241 324.5h1M241 325.5h1M241 328.5h1M241 330.5h1M241 332.5h1M241 337.5h1M241 338.5h1M241 339.5h1M241 340.5h1M241 341.5h1M241 347.5h1M241 348.5h1M241 350.5h1M242 323.5h1M242 324.5h1M242 326.5h1M242 332.5h1M242 333.5h1M242 335.5h1M242 336.5h1M242 337.5h1M242 339.5h1M242 340.5h1M242 341.5h1M242 342.5h1M242 345.5h1M242 352.5h1M243 322.5h1M243 324.5h1M243 325.5h1M243 327.5h1M243 329.5h1M243 331.5h1M243 332.5h1M243 334.5h1M243 335.5h1M243 336.5h1M243 338.5h1M243 339.5h1M243 340.5h1M243 341.5h1M243 346.5h1M244 324.5h1M244 328.5h1M244 330.5h1M244 331.5h1M244 332.5h1M244 333.5h1M244 334.5h1M244 335.5h1M244 338.5h1M244 340.5h1M244 341.5h1M244 342.5h1M244 345.5h1M244 346.5h1M245 322.5h1M245 323.5h1M245 327.5h1M245 329.5h1M245 331.5h1M245 332.5h1M245 333.5h1M245 339.5h1M245 340.5h1M245 346.5h1M246 326.5h1M246 328.5h1M246 329.5h1M246 330.5h1M246 333.5h1M246 334.5h1M246 335.5h1M246 336.5h1M246 339.5h1M246 340.5h1M246 341.5h1M246 342.5h1M247 326.5h1M247 330.5h1M247 334.5h1M247 337.5h1M248 322.5h1M248 323.5h1M248 324.5h1M248 331.5h1M248 332.5h1M248 333.5h1M248 334.5h1M248 335.5h1M249 322.5h1M249 324.5h1M249 325.5h1M249 326.5h1M249 330.5h1M249 333.5h1M249 335.5h1M249 336.5h1M249 339.5h1M250 323.5h1M250 325.5h1M250 327.5h1M250 331.5h1M250 332.5h1M250 334.5h1M250 335.5h1M251 324.5h1M251 328.5h1M251 329.5h1M251 330.5h1M251 335.5h1M251 339.5h1M251 341.5h1M252 323.5h1M252 324.5h1M252 325.5h1M252 326.5h1M252 328.5h1M252 333.5h1M252 334.5h1M252 336.5h1M252 337.5h1M252 338.5h1M252 340.5h1M253 327.5h1M253 328.5h1M253 330.5h1M253 332.5h1M253 333.5h1M253 334.5h1M253 335.5h1M253 336.5h1M254 324.5h1M254 328.5h1M254 329.5h1M255 326.5h1M255 329.5h1M255 330.5h1M255 331.5h1M255 332.5h1M256 323.5h1M257 329.5h1" stroke="#a0a0a2" stroke-width="1" fill="none"/>
<path d="M252 328.5h1M254 334.5h1M245 348.5h1M236 350.5h1M235 354.5h1M223 358.5h1M223 332.5h1M229 333.5h1M226 356.5h1M219 342.5h1M237 329.5h1M255 335.5h1M230 358.5h1M216 345.5h1M236 352.5h1M225 336.5h1M249 339.5h1M229 357.5h1M222 338.5h1M220 347.5h1M255 333.5h1M240 330.5h1M244 342.5h1M227 356.5h1M215 342.5h1M227 357.5h1M231 358.5h1M246 327.5h1M253 333.5h1M224 333.5h1M235 356.5h1M224 355.5h1M250 339.5h1M242 343.5h1M248 326.5h1M248 343.5h1M223 354.5h1M227 359.5h1M240 327.5h1M227 336.5h1M252 333.5h1M221 348.5h1M251 326.5h1M242 325.5h1M224 356.5h1M237 349.5h1M255 330.5h1M243 348.5h1M218 349.5h1M253 338.5h1M255 332.5h1M250 328.5h1M236 353.5h1M223 356.5h1M223 352.5h1M236 360.5h1M247 339.5h1M237 348.5h1M237 351.5h1M227 334.5h1M254 329.5h1M219 332.5h1M251 329.5h1M220 355.5h1M234 328.5h1M224 338.5h1M220 342.5h1M246 340.5h1M253 337.5h1M248 340.5h1M220 353.5h1M249 327.5h1M223 349.5h1M226 333.5h1M221 351.5h1M251 339.5h1M228 333.5h1M221 349.5h1M248 328.5h1M253 335.5h1M238 354.5h1M245 326.5h1M242 322.5h1M234 354.5h1M247 325.5h1M219 341.5h1M250 340.5h1M249 325.5h1M222 354.5h1M221 350.5h1M251 340.5h1M223 339.5h1M220 349.5h1M221 347.5h1M255 339.5h1M241 346.5h1M252 323.5h1M254 330.5h1M252 332.5h1M242 346.5h1M251 336.5h1M239 347.5h1M222 348.5h1M253 329.5h1M227 355.5h1M226 358.5h1M239 353.5h1M253 326.5h1M236 330.5h1M220 340.5h1M253 334.5h1M245 344.5h1M238 349.5h1M246 325.5h1M239 331.5h1M225 335.5h1M216 351.5h1M237 353.5h1M248 347.5h1M221 341.5h1M224 336.5h1M250 337.5h1M222 350.5h1M223 350.5h1M257 334.5h1M217 339.5h1M232 356.5h1M241 330.5h1M247 340.5h1M238 329.5h1M236 332.5h1M235 352.5h1M248 339.5h1M237 355.5h1M238 352.5h1M235 330.5h1M246 345.5h1M259 335.5h1M219 338.5h1M234 356.5h1M234 332.5h1M253 331.5h1M228 335.5h1M253 330.5h1M229 334.5h1M256 335.5h1M233 355.5h1M215 341.5h1M226 335.5h1M222 352.5h1M234 329.5h1M226 354.5h1M236 351.5h1M218 337.5h1M242 326.5h1M219 343.5h1M223 357.5h1M222 349.5h1M252 336.5h1M253 336.5h1M245 328.5h1M234 331.5h1M231 356.5h1M219 346.5h1M228 357.5h1M230 357.5h1M219 340.5h1" stroke="#a0a0a2" stroke-width="1" fill="none" stroke-opacity="0.8"/>
<path d="M219.8 341.6 226.4 336.4 234.3 332.4 243.5 328.5 250.1 327.1 254 329.8 252.7 336.4 246.1 341.6 239.5 346.9 235.6 353.5 231.6 357.5 226.4 356.1 222.4 349.5 218.5 345.6Z" fill="#a0a0a2" filter="url(#b)"/>
<path d="M206 334.5h1M206 336.5h1M210 333.5h1M214 325.5h1M214 329.5h1M214 331.5h1M214 335.5h1M215 333.5h1M216 326.5h1M216 331.5h1M217 319.5h1M217 330.5h1M217 331.5h1M217 333.5h1M218 331.5h1M219 324.5h1M219 328.5h1M219 332.5h1M220 314.5h1M221 314.5h1M221 322.5h1M222 319.5h1M222 321.5h1M223 315.5h1M223 319.5h1M226 327.5h1M227 320.5h1M227 322.5h1M227 325.5h1M228 318.5h1M229 312.5h1M229 320.5h1M231 319.5h1M231 323.5h1M231 324.5h1M232 315.5h1M232 327.5h1M233 303.5h1M233 310.5h1M233 323.5h1M234 319.5h1M234 328.5h1M235 316.5h1M235 328.5h1M236 307.5h1M237 311.5h1M237 325.5h1M237 326.5h1M238 311.5h1M238 315.5h1M238 319.5h1M238 322.5h1M239 307.5h1M239 320.5h1M239 322.5h1M241 320.5h1M241 323.5h1M242 321.5h1M242 322.5h1M243 300.5h1M243 313.5h1M244 298.5h1M244 305.5h1M244 308.5h1M244 315.5h1M244 316.5h1M245 296.5h1M245 299.5h1M245 311.5h1M246 314.5h1M247 300.5h1M247 311.5h1M247 314.5h1M248 309.5h1M248 323.5h1M248 324.5h1M249 298.5h1M249 314.5h1M250 307.5h1M250 309.5h1M251 317.5h1M251 323.5h1M252 296.5h1M252 307.5h1M252 315.5h1M253 309.5h1M255 300.5h1M255 307.5h1M256 305.5h1M257 320.5h1M258 300.5h1" stroke="#d2d2d2" stroke-width="1" fill="none"/>
<path d="M254 326.5h1M262 295.5h1M276 324.5h1M276 293.5h1M269 312.5h1M266 332.5h1M272 328.5h1M270 327.5h1M268 311.5h1M260 346.5h1M270 329.5h1M263 325.5h1M266 297.5h1M260 339.5h1M273 314.5h1M259 327.5h1M278 306.5h1M263 333.5h1M276 309.5h1M266 295.5h1M263 310.5h1M272 334.5h1M271 339.5h1M259 313.5h1M280 313.5h1M275 305.5h1M275 324.5h1M266 334.5h1M265 327.5h1M273 336.5h1M269 292.5h1M272 336.5h1M266 340.5h1M264 303.5h1M267 340.5h1M279 322.5h1M260 335.5h1M264 313.5h1M273 311.5h1M275 316.5h1M269 309.5h1M253 334.5h1M265 315.5h1M271 309.5h1M254 308.5h1M267 341.5h1M277 326.5h1M267 305.5h1M259 320.5h1M269 317.5h1M266 321.5h1M269 314.5h1M265 324.5h1M259 319.5h1M255 314.5h1M266 308.5h1M273 316.5h1M259 328.5h1M274 307.5h1M273 306.5h1M272 314.5h1M259 334.5h1M268 340.5h1M276 305.5h1M259 315.5h1M271 337.5h1M257 332.5h1M272 333.5h1M270 322.5h1M269 319.5h1M270 335.5h1M265 320.5h1M263 306.5h1M266 307.5h1M260 331.5h1M277 304.5h1M270 324.5h1M272 303.5h1M264 314.5h1M267 336.5h1M264 328.5h1M279 319.5h1M262 306.5h1M274 310.5h1M267 303.5h1M274 322.5h1M263 303.5h1M276 319.5h1M273 320.5h1M265 317.5h1M264 311.5h1M256 314.5h1M271 324.5h1M262 300.5h1M273 335.5h1M269 332.5h1M260 318.5h1M269 323.5h1M270 340.5h1M268 338.5h1M265 343.5h1M270 313.5h1M265 300.5h1M272 307.5h1M266 317.5h1M277 316.5h1M278 311.5h1M265 310.5h1M269 315.5h1M279 320.5h1M267 326.5h1M271 310.5h1M273 304.5h1M262 327.5h1M265 299.5h1M258 311.5h1M278 327.5h1M268 313.5h1M273 324.5h1M266 309.5h1M266 318.5h1M267 339.5h1M266 311.5h1M261 293.5h1M276 299.5h1M258 328.5h1M258 312.5h1M269 329.5h1M271 308.5h1M260 314.5h1M256 304.5h1M275 306.5h1M276 313.5h1M274 321.5h1M264 329.5h1M271 321.5h1M269 335.5h1M269 334.5h1M260 328.5h1" stroke="#ff5100" stroke-width="1" fill="none" stroke-opacity="0.75"/>
<path d="M265 303.5h1M277 315.5h1M264 296.5h1M265 300.5h1M273 333.5h1M262 305.5h1M272 338.5h1M261 328.5h1M276 313.5h1M265 336.5h1M275 327.5h1M267 301.5h1M268 300.5h1M259 310.5h1M262 312.5h1M276 308.5h1M271 301.5h1M263 314.5h1M266 338.5h1M262 326.5h1M261 309.5h1M275 315.5h1M259 322.5h1M262 324.5h1M272 300.5h1M266 301.5h1M271 300.5h1M266 300.5h1M266 336.5h1M276 324.5h1M263 326.5h1M263 333.5h1M273 299.5h1M258 328.5h1M279 306.5h1M265 301.5h1M275 322.5h1M275 314.5h1M276 310.5h1M275 321.5h1M272 297.5h1M259 323.5h1M270 340.5h1M260 310.5h1M277 316.5h1M275 302.5h1M275 328.5h1M274 303.5h1M276 318.5h1M271 299.5h1M264 303.5h1M273 330.5h1M262 322.5h1M262 318.5h1M263 303.5h1M276 322.5h1M262 328.5h1M275 320.5h1M263 331.5h1M262 306.5h1M267 300.5h1M276 325.5h1M260 336.5h1M264 305.5h1M278 305.5h1M274 324.5h1M262 332.5h1M276 304.5h1M276 329.5h1M263 306.5h1M259 311.5h1M278 313.5h1M272 335.5h1M272 333.5h1M279 308.5h1M273 329.5h1M274 330.5h1M275 305.5h1M275 303.5h1M277 309.5h1M278 309.5h1M267 299.5h1M274 336.5h1M275 324.5h1M265 299.5h1M275 331.5h1M263 309.5h1M262 333.5h1M258 309.5h1M267 341.5h1M270 300.5h1M262 311.5h1M263 308.5h1M277 319.5h1M262 315.5h1M275 316.5h1M262 321.5h1M267 337.5h1M276 307.5h1M277 302.5h1M262 320.5h1M268 337.5h1M264 334.5h1M261 322.5h1M273 326.5h1M267 336.5h1M262 329.5h1M277 325.5h1M276 323.5h1M273 331.5h1M260 318.5h1M270 301.5h1M277 321.5h1M262 327.5h1M261 334.5h1M272 331.5h1M275 341.5h1M276 303.5h1M275 304.5h1M265 341.5h1M276 326.5h1M263 317.5h1M277 310.5h1M275 313.5h1M261 321.5h1M263 330.5h1M275 317.5h1M259 315.5h1M271 334.5h1M261 310.5h1M275 325.5h1M277 320.5h1M276 315.5h1M269 301.5h1M266 298.5h1M260 330.5h1M273 301.5h1M276 314.5h1M265 302.5h1M277 301.5h1M260 313.5h1M263 335.5h1M278 316.5h1M262 309.5h1M264 307.5h1M274 300.5h1M276 306.5h1M269 299.5h1M278 334.5h1M271 341.5h1M261 304.5h1M263 332.5h1M260 309.5h1M263 329.5h1M270 335.5h1M260 321.5h1M261 325.5h1M274 329.5h1M278 312.5h1M278 324.5h1M279 329.5h1M276 300.5h1M277 307.5h1M262 314.5h1M264 335.5h1M275 310.5h1M262 331.5h1M275 309.5h1M264 302.5h1M277 318.5h1M263 324.5h1M260 317.5h1M273 300.5h1M275 306.5h1M265 337.5h1M279 313.5h1M272 332.5h1M261 308.5h1M275 311.5h1M277 308.5h1M274 302.5h1M267 338.5h1M277 322.5h1M266 303.5h1M262 310.5h1" stroke="#ff5100" stroke-width="1" fill="none" stroke-opacity="0.8"/>
<path d="M266.6 301.4 273.9 300.5 276.7 307 275.8 323.6 272.1 334.6 267.5 338.3 262.9 332.8 261.9 319.9 262.9 308.8Z" fill="#ff5100" filter="url(#b)"/>
<path d="M372 290.5h1M378 303.5h1M378 285.5h1M382 285.5h1M373 286.5h1M376 284.5h1M379 297.5h1M370 309.5h1M374 285.5h1M380 290.5h1M378 299.5h1M374 292.5h1M373 301.5h1M382 292.5h1M381 292.5h1M370 305.5h1M374 289.5h1M383 289.5h1M382 286.5h1M367 304.5h1M377 302.5h1M371 294.5h1M372 289.5h1M378 283.5h1M371 303.5h1M371 302.5h1M373 291.5h1M372 286.5h1M382 287.5h1M377 283.5h1M373 296.5h1M376 304.5h1M373 294.5h1M380 296.5h1M381 286.5h1M379 303.5h1M380 292.5h1M378 300.5h1M370 307.5h1M374 296.5h1M372 294.5h1M373 289.5h1M379 284.5h1M373 299.5h1M379 285.5h1M372 282.5h1M378 305.5h1" stroke="#d2d2d2" stroke-width="1" fill="none" stroke-opacity="0.8"/>
<path d="M374.9 284.8 382.3 284.8 381.3 292.2 378.6 301.5 374.9 307 371.5 306 373 299.6Z" fill="#d2d2d2" filter="url(#b)"/>
<path d="M362 323.6 367.5 314.4 374.9 307 380 305 385 320 385 340 372 336Z" fill="#d2d2d2" filter="url(#b2)" fill-opacity="0.25"/>
<path d="M364 321.5h1M364 323.5h1M364 325.5h1M364 327.5h1M365 317.5h1M365 324.5h1M365 325.5h1M366 319.5h1M366 322.5h1M366 324.5h1M366 327.5h1M368 316.5h1M368 322.5h1M368 323.5h1M369 315.5h1M369 316.5h1M369 321.5h1M369 322.5h1M369 324.5h1M369 325.5h1M369 326.5h1M369 327.5h1M369 332.5h1M370 310.5h1M370 312.5h1M370 321.5h1M370 323.5h1M370 326.5h1M370 329.5h1M371 312.5h1M371 316.5h1M371 322.5h1M371 323.5h1M371 325.5h1M371 326.5h1M371 327.5h1M371 331.5h1M371 333.5h1M372 309.5h1M372 312.5h1M372 325.5h1M373 309.5h1M373 311.5h1M373 319.5h1M373 322.5h1M373 325.5h1M373 333.5h1M373 337.5h1M374 310.5h1M374 311.5h1M374 314.5h1M374 317.5h1M374 321.5h1M374 327.5h1M374 330.5h1M374 335.5h1M375 312.5h1M375 315.5h1M375 318.5h1M375 320.5h1M375 324.5h1M375 325.5h1M375 326.5h1M375 329.5h1M375 330.5h1M375 333.5h1M375 335.5h1M376 317.5h1M376 319.5h1M376 321.5h1M376 329.5h1M377 311.5h1M377 313.5h1M377 318.5h1M377 321.5h1M377 323.5h1M377 324.5h1M377 326.5h1M377 336.5h1M378 306.5h1M378 312.5h1M378 313.5h1M378 316.5h1M378 317.5h1M378 324.5h1M378 336.5h1M379 311.5h1M379 313.5h1M379 317.5h1M379 318.5h1M379 319.5h1M379 323.5h1M379 326.5h1M379 328.5h1M379 332.5h1M379 333.5h1M379 335.5h1M379 337.5h1M380 314.5h1M380 319.5h1M380 322.5h1M380 325.5h1M380 328.5h1M381 309.5h1M381 315.5h1M381 322.5h1M381 323.5h1M381 325.5h1M382 321.5h1M382 322.5h1M382 323.5h1M382 324.5h1M382 328.5h1M382 330.5h1M382 334.5h1M382 339.5h1M383 316.5h1M383 317.5h1M383 322.5h1M383 325.5h1M383 327.5h1M383 330.5h1M383 336.5h1M384 318.5h1M384 324.5h1M384 330.5h1M384 331.5h1M384 336.5h1M385 323.5h1" stroke="#d2d2d2" stroke-width="1" fill="none"/>
<path d="M376 358.5h1M369 358.5h1M337 376.5h1M340 356.5h1M331 358.5h1M354 375.5h1M363 358.5h1M355 356.5h1M344 356.5h1M344 357.5h1M377 371.5h1M343 377.5h1M327 361.5h1M382 360.5h1M372 358.5h1M357 375.5h1M352 355.5h1M359 358.5h1M355 375.5h1M329 375.5h1M327 373.5h1M341 357.5h1M370 359.5h1M383 360.5h1M382 359.5h1M327 377.5h1M370 371.5h1M326 366.5h1M329 358.5h1M332 357.5h1M380 355.5h1M381 364.5h1M382 357.5h1M366 372.5h1M355 358.5h1M349 358.5h1M358 376.5h1M382 364.5h1M337 375.5h1M359 376.5h1M360 357.5h1M352 376.5h1M337 357.5h1M378 356.5h1M383 357.5h1M378 369.5h1M325 359.5h1M343 375.5h1M357 356.5h1M353 358.5h1M326 367.5h1M367 372.5h1M374 374.5h1M340 375.5h1M348 357.5h1M374 370.5h1M376 370.5h1M336 377.5h1M327 370.5h1M362 376.5h1M343 376.5h1M376 371.5h1M331 376.5h1M352 375.5h1M367 358.5h1M365 358.5h1M327 365.5h1M358 375.5h1M366 353.5h1M366 373.5h1M377 372.5h1M327 372.5h1M342 377.5h1M382 363.5h1M345 376.5h1M350 355.5h1M332 358.5h1M350 375.5h1M373 371.5h1M330 356.5h1M371 371.5h1M357 374.5h1M373 370.5h1M379 356.5h1M347 357.5h1M378 370.5h1M346 356.5h1M360 374.5h1M325 372.5h1M362 374.5h1M354 376.5h1M342 357.5h1M360 355.5h1M383 363.5h1M328 378.5h1M346 357.5h1M345 357.5h1M327 362.5h1M383 364.5h1M325 360.5h1M374 358.5h1M378 358.5h1M332 375.5h1M340 357.5h1M325 358.5h1M383 359.5h1M368 356.5h1M361 375.5h1M369 373.5h1M383 361.5h1M369 359.5h1M366 356.5h1M350 357.5h1M357 357.5h1M369 372.5h1M379 366.5h1M335 376.5h1M323 365.5h1M354 374.5h1M380 374.5h1M349 375.5h1M356 356.5h1M354 357.5h1M351 375.5h1M375 358.5h1M352 358.5h1M338 375.5h1M380 356.5h1M326 361.5h1M328 357.5h1M322 377.5h1M375 359.5h1M353 374.5h1M361 374.5h1M364 378.5h1M342 375.5h1M330 376.5h1M325 369.5h1M356 376.5h1M373 358.5h1M381 367.5h1M369 356.5h1M374 372.5h1M345 377.5h1M356 374.5h1M359 377.5h1M351 374.5h1M340 355.5h1M344 376.5h1M333 358.5h1M379 369.5h1M373 357.5h1M348 354.5h1M361 354.5h1M326 368.5h1M324 375.5h1M381 358.5h1M366 374.5h1M371 358.5h1M325 371.5h1M330 379.5h1M379 357.5h1M323 357.5h1M349 356.5h1M362 357.5h1M336 357.5h1M384 364.5h1M348 355.5h1M344 354.5h1" stroke="#d2d2d2" stroke-width="1" fill="none" stroke-opacity="0.8"/>
<path d="M326.8 358 345 357 362 358 375 359 381 356 384 362 378 370 363 374.5 345 376 326.8 376Z" fill="#d2d2d2" filter="url(#b)"/>
<path d="M326.8 345 345 348 365 346 375 348 380 356 360 358 340 358 326.8 358Z" fill="#d2d2d2" filter="url(#b2)" fill-opacity="0.6"/>
<path d="M326 345.5h1M326 348.5h1M326 351.5h1M326 354.5h1M327 347.5h1M327 353.5h1M327 354.5h1M327 355.5h1M328 347.5h1M328 352.5h1M328 353.5h1M328 356.5h1M328 358.5h1M329 348.5h1M329 349.5h1M329 350.5h1M329 352.5h1M329 354.5h1M329 355.5h1M329 357.5h1M330 346.5h1M330 347.5h1M330 351.5h1M330 352.5h1M330 353.5h1M330 354.5h1M330 356.5h1M331 345.5h1M331 351.5h1M331 354.5h1M331 358.5h1M332 350.5h1M332 351.5h1M332 353.5h1M332 355.5h1M332 356.5h1M333 347.5h1M333 350.5h1M333 352.5h1M333 353.5h1M333 355.5h1M334 347.5h1M334 356.5h1M334 357.5h1M335 345.5h1M335 347.5h1M335 349.5h1M335 350.5h1M335 351.5h1M335 353.5h1M335 356.5h1M335 358.5h1M336 353.5h1M336 354.5h1M336 355.5h1M337 347.5h1M337 350.5h1M337 353.5h1M337 356.5h1M338 347.5h1M338 351.5h1M338 353.5h1M338 357.5h1M338 358.5h1M339 349.5h1M339 351.5h1M339 352.5h1M339 353.5h1M339 354.5h1M339 355.5h1M340 347.5h1M340 349.5h1M340 354.5h1M340 355.5h1M341 348.5h1M341 349.5h1M341 353.5h1M341 354.5h1M341 355.5h1M341 356.5h1M341 357.5h1M342 347.5h1M342 349.5h1M342 350.5h1M342 351.5h1M342 352.5h1M342 353.5h1M342 354.5h1M342 356.5h1M342 357.5h1M343 348.5h1M343 350.5h1M343 352.5h1M343 353.5h1M343 356.5h1M344 348.5h1M344 349.5h1M344 351.5h1M344 352.5h1M344 353.5h1M344 355.5h1M344 357.5h1M345 349.5h1M345 350.5h1M345 352.5h1M345 353.5h1M345 354.5h1M346 353.5h1M346 354.5h1M347 349.5h1M347 350.5h1M347 351.5h1M347 352.5h1M347 353.5h1M347 355.5h1M347 356.5h1M348 347.5h1M348 349.5h1M348 350.5h1M348 351.5h1M348 352.5h1M348 354.5h1M348 357.5h1M349 348.5h1M349 349.5h1M349 350.5h1M349 351.5h1M349 352.5h1M349 354.5h1M349 355.5h1M349 356.5h1M349 357.5h1M350 347.5h1M350 348.5h1M350 350.5h1M350 351.5h1M350 352.5h1M350 353.5h1M350 354.5h1M350 355.5h1M350 356.5h1M351 346.5h1M351 348.5h1M351 349.5h1M351 352.5h1M351 353.5h1M351 355.5h1M351 356.5h1M352 349.5h1M352 352.5h1M352 353.5h1M352 354.5h1M352 357.5h1M353 348.5h1M353 352.5h1M353 355.5h1M353 356.5h1M353 358.5h1M354 347.5h1M354 348.5h1M354 350.5h1M354 352.5h1M354 354.5h1M354 356.5h1M355 354.5h1M355 355.5h1M355 356.5h1M356 348.5h1M356 349.5h1M356 350.5h1M356 351.5h1M356 352.5h1M356 355.5h1M357 351.5h1M357 352.5h1M357 355.5h1M357 357.5h1M357 358.5h1M358 347.5h1M358 348.5h1M358 349.5h1M358 351.5h1M358 353.5h1M358 355.5h1M359 345.5h1M359 347.5h1M359 349.5h1M359 350.5h1M359 352.5h1M359 354.5h1M359 355.5h1M359 356.5h1M360 347.5h1M360 348.5h1M360 349.5h1M360 350.5h1M360 352.5h1M360 355.5h1M360 356.5h1M360 358.5h1M361 348.5h1M361 350.5h1M362 346.5h1M362 349.5h1M362 351.5h1M362 352.5h1M362 357.5h1M363 346.5h1M363 350.5h1M363 351.5h1M363 352.5h1M363 354.5h1M363 355.5h1M363 356.5h1M364 349.5h1M364 350.5h1M364 355.5h1M364 356.5h1M365 348.5h1M365 349.5h1M365 350.5h1M365 352.5h1M365 354.5h1M365 355.5h1M365 357.5h1M366 345.5h1M366 347.5h1M366 348.5h1M366 349.5h1M366 350.5h1M366 351.5h1M366 352.5h1M366 354.5h1M366 355.5h1M367 349.5h1M367 350.5h1M367 351.5h1M367 354.5h1M367 355.5h1M368 346.5h1M368 348.5h1M368 351.5h1M368 353.5h1M369 349.5h1M369 350.5h1M369 351.5h1M369 353.5h1M369 354.5h1M369 356.5h1M370 347.5h1M370 349.5h1M370 350.5h1M370 351.5h1M370 353.5h1M370 355.5h1M371 347.5h1M371 348.5h1M371 351.5h1M371 352.5h1M371 353.5h1M371 355.5h1M372 348.5h1M372 351.5h1M372 352.5h1M372 353.5h1M372 354.5h1M372 356.5h1M373 349.5h1M373 351.5h1M373 352.5h1M373 353.5h1M373 354.5h1M373 356.5h1M374 349.5h1M374 351.5h1M374 352.5h1M374 355.5h1M374 356.5h1M375 352.5h1M375 353.5h1M376 350.5h1M376 353.5h1M376 354.5h1M376 355.5h1M377 353.5h1M378 353.5h1M378 355.5h1M378 356.5h1M379 355.5h1" stroke="#d2d2d2" stroke-width="1" fill="none"/>
<path d="M371 338 380.4 344 384.1 353.2 380.4 362.4 373 366.1 370 360 375 352 370 345Z" fill="#a0a0a2" filter="url(#b2)" fill-opacity="0.6"/>
<path d="M369 344.5h1M370 339.5h1M370 342.5h1M370 345.5h1M370 346.5h1M370 360.5h1M371 338.5h1M371 343.5h1M371 360.5h1M371 363.5h1M372 342.5h1M372 344.5h1M372 345.5h1M372 361.5h1M372 363.5h1M372 364.5h1M372 366.5h1M373 342.5h1M373 344.5h1M373 345.5h1M373 346.5h1M373 347.5h1M373 348.5h1M373 350.5h1M373 352.5h1M373 355.5h1M373 356.5h1M373 358.5h1M373 359.5h1M373 360.5h1M373 362.5h1M373 363.5h1M374 340.5h1M374 341.5h1M374 342.5h1M374 344.5h1M374 345.5h1M374 347.5h1M374 349.5h1M374 354.5h1M374 357.5h1M374 359.5h1M374 360.5h1M374 363.5h1M375 342.5h1M375 346.5h1M375 347.5h1M375 348.5h1M375 350.5h1M375 352.5h1M375 353.5h1M375 354.5h1M375 355.5h1M375 357.5h1M375 359.5h1M375 360.5h1M375 362.5h1M375 364.5h1M376 344.5h1M376 346.5h1M376 350.5h1M376 351.5h1M376 355.5h1M376 356.5h1M376 357.5h1M376 359.5h1M376 362.5h1M376 364.5h1M376 365.5h1M377 344.5h1M377 345.5h1M377 347.5h1M377 349.5h1M377 353.5h1M377 354.5h1M377 358.5h1M377 360.5h1M378 345.5h1M378 351.5h1M378 352.5h1M378 353.5h1M378 354.5h1M378 355.5h1M378 358.5h1M378 361.5h1M378 362.5h1M379 346.5h1M379 347.5h1M379 349.5h1M379 352.5h1M379 353.5h1M379 354.5h1M379 357.5h1M379 358.5h1M380 345.5h1M380 347.5h1M380 351.5h1M380 352.5h1M380 353.5h1M380 356.5h1M380 358.5h1M381 347.5h1M381 351.5h1M381 356.5h1M381 357.5h1M381 362.5h1M382 351.5h1M382 353.5h1M382 354.5h1M382 355.5h1M382 356.5h1M383 353.5h1M383 355.5h1" stroke="#a0a0a2" stroke-width="1" fill="none"/>
<path d="M380.6 338 380.2 340.7 378.8 343.4 376.4 346 373.2 348.3 369.2 350.2 364.6 351.8 359.6 352.8 354.3 353.4 349.1 353.4 344 352.9 339.2 351.8 335.1 350.3 331.6 348.3 329 346.1 327.3 343.5 326.6 340.8 327 338.1 328.4 335.4 330.8 332.8 334 330.5 338 328.6 342.6 327 347.6 326 352.9 325.4 358.1 325.4 363.2 325.9 368 327 372.1 328.5 375.6 330.5 378.2 332.7 379.9 335.3Z" fill="#a0a0a2" filter="url(#b2)" fill-opacity="0.4"/>
<path d="M326 339.5h1M327 335.5h1M327 336.5h1M327 338.5h1M327 343.5h1M328 334.5h1M328 337.5h1M328 338.5h1M328 341.5h1M328 343.5h1M328 345.5h1M329 334.5h1M329 336.5h1M329 339.5h1M329 341.5h1M329 342.5h1M329 343.5h1M330 334.5h1M330 338.5h1M330 339.5h1M330 340.5h1M330 342.5h1M330 348.5h1M331 332.5h1M331 336.5h1M331 343.5h1M332 334.5h1M332 336.5h1M332 339.5h1M332 342.5h1M332 344.5h1M332 346.5h1M333 330.5h1M333 331.5h1M333 332.5h1M333 338.5h1M333 339.5h1M333 341.5h1M333 345.5h1M333 348.5h1M334 333.5h1M334 334.5h1M334 338.5h1M334 339.5h1M334 342.5h1M334 346.5h1M334 347.5h1M334 348.5h1M335 329.5h1M335 330.5h1M335 335.5h1M335 336.5h1M335 337.5h1M335 339.5h1M335 341.5h1M335 346.5h1M335 348.5h1M335 351.5h1M336 330.5h1M336 331.5h1M336 334.5h1M336 335.5h1M336 338.5h1M336 340.5h1M336 347.5h1M337 330.5h1M337 331.5h1M337 332.5h1M337 333.5h1M337 343.5h1M337 344.5h1M337 347.5h1M338 331.5h1M338 333.5h1M338 337.5h1M338 338.5h1M338 351.5h1M339 328.5h1M339 329.5h1M339 333.5h1M339 335.5h1M339 337.5h1M339 338.5h1M339 340.5h1M339 343.5h1M339 346.5h1M339 348.5h1M339 350.5h1M339 351.5h1M340 329.5h1M340 334.5h1M340 339.5h1M340 347.5h1M340 349.5h1M340 350.5h1M341 335.5h1M341 340.5h1M341 343.5h1M341 346.5h1M342 328.5h1M342 329.5h1M342 336.5h1M342 341.5h1M342 342.5h1M342 344.5h1M342 345.5h1M343 326.5h1M343 332.5h1M343 343.5h1M343 344.5h1M343 350.5h1M344 327.5h1M344 329.5h1M344 335.5h1M344 336.5h1M344 339.5h1M344 341.5h1M344 344.5h1M344 345.5h1M344 349.5h1M344 350.5h1M344 352.5h1M345 328.5h1M345 331.5h1M345 337.5h1M345 344.5h1M345 345.5h1M345 346.5h1M345 347.5h1M345 352.5h1M346 330.5h1M346 331.5h1M346 336.5h1M346 337.5h1M346 339.5h1M346 344.5h1M346 347.5h1M346 348.5h1M346 349.5h1M346 354.5h1M347 328.5h1M347 330.5h1M347 331.5h1M347 332.5h1M347 338.5h1M347 344.5h1M347 345.5h1M347 347.5h1M347 348.5h1M347 349.5h1M347 351.5h1M348 328.5h1M348 329.5h1M348 331.5h1M348 334.5h1M348 335.5h1M348 336.5h1M348 345.5h1M348 348.5h1M348 350.5h1M348 352.5h1M348 353.5h1M349 326.5h1M349 327.5h1M349 329.5h1M349 334.5h1M349 337.5h1M349 340.5h1M349 342.5h1M349 343.5h1M349 346.5h1M349 349.5h1M350 326.5h1M350 327.5h1M350 328.5h1M350 334.5h1M350 336.5h1M350 338.5h1M350 340.5h1M350 342.5h1M350 343.5h1M350 345.5h1M350 346.5h1M350 347.5h1M350 351.5h1M350 352.5h1M351 326.5h1M351 327.5h1M351 328.5h1M351 330.5h1M351 333.5h1M351 336.5h1M351 343.5h1M351 344.5h1M351 346.5h1M351 348.5h1M351 352.5h1M352 327.5h1M352 328.5h1M352 334.5h1M352 339.5h1M352 341.5h1M352 344.5h1M352 347.5h1M352 348.5h1M352 352.5h1M353 331.5h1M353 332.5h1M353 333.5h1M353 340.5h1M353 344.5h1M353 346.5h1M353 348.5h1M353 351.5h1M353 353.5h1M354 330.5h1M354 331.5h1M354 333.5h1M354 334.5h1M354 335.5h1M354 336.5h1M354 337.5h1M354 338.5h1M354 342.5h1M354 344.5h1M354 347.5h1M354 350.5h1M354 351.5h1M354 352.5h1M354 353.5h1M355 326.5h1M355 329.5h1M355 336.5h1M355 337.5h1M355 340.5h1M355 343.5h1M355 345.5h1M355 346.5h1M356 325.5h1M356 326.5h1M356 327.5h1M356 333.5h1M356 334.5h1M356 336.5h1M356 339.5h1M356 342.5h1M356 344.5h1M356 346.5h1M356 348.5h1M357 326.5h1M357 327.5h1M357 328.5h1M357 329.5h1M357 335.5h1M357 338.5h1M357 341.5h1M357 353.5h1M358 331.5h1M358 332.5h1M358 338.5h1M358 342.5h1M358 343.5h1M358 344.5h1M358 348.5h1M358 352.5h1M359 328.5h1M359 336.5h1M359 338.5h1M359 344.5h1M359 345.5h1M359 346.5h1M359 350.5h1M360 325.5h1M360 327.5h1M360 329.5h1M360 330.5h1M360 335.5h1M360 339.5h1M360 342.5h1M360 343.5h1M360 344.5h1M360 347.5h1M360 349.5h1M360 350.5h1M360 351.5h1M361 327.5h1M361 329.5h1M361 330.5h1M361 334.5h1M361 336.5h1M361 345.5h1M362 327.5h1M362 330.5h1M362 332.5h1M362 333.5h1M362 336.5h1M362 339.5h1M362 346.5h1M362 347.5h1M362 349.5h1M362 350.5h1M363 329.5h1M363 332.5h1M363 335.5h1M363 336.5h1M363 337.5h1M363 339.5h1M363 340.5h1M363 342.5h1M363 343.5h1M363 348.5h1M363 351.5h1M364 330.5h1M364 331.5h1M364 334.5h1M364 336.5h1M364 339.5h1M364 344.5h1M364 346.5h1M364 347.5h1M364 349.5h1M364 351.5h1M365 327.5h1M365 332.5h1M365 333.5h1M365 334.5h1M365 336.5h1M365 337.5h1M365 338.5h1M365 342.5h1M365 344.5h1M365 345.5h1M365 347.5h1M365 348.5h1M366 328.5h1M366 330.5h1M366 340.5h1M366 341.5h1M366 346.5h1M366 349.5h1M367 329.5h1M367 333.5h1M367 334.5h1M367 337.5h1M367 341.5h1M367 342.5h1M367 349.5h1M367 351.5h1M368 327.5h1M368 329.5h1M368 334.5h1M368 336.5h1M368 345.5h1M368 348.5h1M369 332.5h1M369 334.5h1M369 335.5h1M369 337.5h1M369 341.5h1M369 343.5h1M369 344.5h1M369 345.5h1M370 330.5h1M370 333.5h1M370 335.5h1M370 338.5h1M370 341.5h1M370 345.5h1M370 347.5h1M371 328.5h1M371 332.5h1M371 333.5h1M371 343.5h1M371 345.5h1M372 329.5h1M372 335.5h1M372 336.5h1M372 337.5h1M372 338.5h1M372 339.5h1M372 346.5h1M373 330.5h1M373 333.5h1M373 335.5h1M373 339.5h1M373 344.5h1M373 345.5h1M374 332.5h1M374 334.5h1M374 335.5h1M374 339.5h1M374 343.5h1M375 332.5h1M375 337.5h1M375 338.5h1M375 346.5h1M376 344.5h1M377 333.5h1M377 344.5h1M377 345.5h1M378 334.5h1M378 335.5h1M378 336.5h1M379 339.5h1M379 341.5h1M379 342.5h1M380 337.5h1" stroke="#a0a0a2" stroke-width="1" fill="none"/>
<path d="M342 347.5h1M339 345.5h1M363 328.5h1M368 349.5h1M350 353.5h1M357 328.5h1M375 340.5h1M337 345.5h1M369 335.5h1M358 350.5h1M356 329.5h1M344 330.5h1M341 331.5h1M371 340.5h1M335 337.5h1M370 338.5h1M349 329.5h1M340 351.5h1M363 347.5h1M358 348.5h1M335 335.5h1M337 330.5h1M360 348.5h1M337 335.5h1M334 333.5h1M335 336.5h1M342 329.5h1M340 347.5h1M366 327.5h1M336 334.5h1M362 330.5h1M346 328.5h1M350 349.5h1M367 335.5h1M370 336.5h1M345 349.5h1M342 331.5h1M350 348.5h1M361 330.5h1M336 337.5h1M364 345.5h1M357 349.5h1M340 330.5h1M357 329.5h1M373 335.5h1M371 334.5h1M337 333.5h1M343 349.5h1M362 354.5h1M368 334.5h1M348 330.5h1M341 349.5h1M334 336.5h1M347 349.5h1M348 328.5h1M369 336.5h1M369 340.5h1M349 349.5h1M356 330.5h1M354 351.5h1M352 329.5h1M367 345.5h1M331 344.5h1M350 352.5h1M361 347.5h1M360 352.5h1M333 348.5h1M348 348.5h1M367 332.5h1M369 343.5h1M346 329.5h1M358 328.5h1M359 352.5h1M365 346.5h1M346 350.5h1M363 346.5h1M335 344.5h1M365 330.5h1M365 329.5h1M341 348.5h1M359 328.5h1M349 328.5h1M355 329.5h1M334 340.5h1M350 329.5h1M343 347.5h1M366 344.5h1M366 345.5h1M338 332.5h1M335 332.5h1M371 337.5h1M367 331.5h1M370 339.5h1M364 347.5h1M337 340.5h1M334 344.5h1M348 350.5h1M355 327.5h1M344 349.5h1M366 346.5h1M364 328.5h1M360 329.5h1M337 342.5h1M356 350.5h1M336 338.5h1M367 342.5h1M370 340.5h1M360 347.5h1M365 345.5h1M368 333.5h1M368 331.5h1M361 348.5h1M340 333.5h1M336 346.5h1M362 346.5h1M370 325.5h1M339 334.5h1M352 349.5h1M347 324.5h1M334 337.5h1M336 335.5h1M365 332.5h1M347 350.5h1M349 326.5h1M350 350.5h1M369 348.5h1M370 333.5h1M338 326.5h1M339 331.5h1M344 331.5h1M335 340.5h1M340 346.5h1M348 329.5h1M356 328.5h1M368 344.5h1M371 338.5h1M352 326.5h1M344 348.5h1M351 352.5h1M353 352.5h1M350 330.5h1M347 330.5h1M357 330.5h1M363 349.5h1M335 331.5h1M345 330.5h1M353 349.5h1M368 332.5h1M370 334.5h1M352 348.5h1M347 353.5h1M363 330.5h1M337 334.5h1M363 348.5h1M355 349.5h1M336 341.5h1M336 342.5h1M341 330.5h1M346 349.5h1M345 350.5h1M368 326.5h1" stroke="#a0a0a2" stroke-width="1" fill="none" stroke-opacity="0.8"/>
<path d="M336 335 345 330 355 329 365 331 371 337 368 345 358 349.5 345 349.5 337 345Z" fill="#a0a0a2" filter="url(#b)"/>
<path d="M404 337.5h1M410 309.5h1M392 330.5h1M409 311.5h1M406 301.5h1M395 322.5h1M397 309.5h1M413 303.5h1M396 323.5h1M406 299.5h1M395 336.5h1M406 333.5h1M403 302.5h1M408 338.5h1M391 313.5h1M396 315.5h1M401 344.5h1M402 300.5h1M393 324.5h1M399 342.5h1M396 316.5h1M414 331.5h1M412 312.5h1M413 329.5h1M399 301.5h1M411 320.5h1M403 336.5h1M394 319.5h1M395 316.5h1M398 342.5h1M396 314.5h1M404 345.5h1M397 301.5h1M414 337.5h1M407 332.5h1M405 300.5h1M395 329.5h1M408 299.5h1M409 309.5h1M403 337.5h1M412 316.5h1M413 322.5h1M411 323.5h1M398 302.5h1M411 311.5h1M391 322.5h1M409 302.5h1M397 311.5h1M408 327.5h1M395 313.5h1M412 313.5h1M409 319.5h1M395 311.5h1M397 312.5h1M396 325.5h1M397 306.5h1M409 336.5h1M403 300.5h1M401 340.5h1M394 336.5h1M402 338.5h1M403 301.5h1M397 339.5h1M396 309.5h1M400 339.5h1M408 322.5h1M405 301.5h1M393 328.5h1M393 321.5h1M397 334.5h1M394 324.5h1M414 303.5h1M408 302.5h1M409 313.5h1M395 320.5h1M404 338.5h1M412 327.5h1M397 308.5h1M409 317.5h1M404 342.5h1M409 312.5h1M393 313.5h1M393 333.5h1M411 318.5h1M400 340.5h1M411 322.5h1M394 314.5h1M399 341.5h1M396 326.5h1M398 308.5h1M402 295.5h1M405 340.5h1M409 316.5h1M396 331.5h1M402 299.5h1M396 324.5h1M395 314.5h1M396 320.5h1M395 318.5h1M395 324.5h1M393 306.5h1M408 320.5h1M395 328.5h1M395 295.5h1M397 335.5h1M394 323.5h1M407 301.5h1M409 315.5h1M403 298.5h1M400 342.5h1M396 334.5h1M396 312.5h1M409 306.5h1M411 316.5h1M396 306.5h1M410 299.5h1M407 327.5h1M394 298.5h1M395 334.5h1M405 334.5h1M409 314.5h1M408 335.5h1M409 331.5h1M410 316.5h1M403 339.5h1M409 307.5h1M407 328.5h1M414 314.5h1M410 314.5h1M403 338.5h1M389 304.5h1M409 304.5h1M407 331.5h1M395 325.5h1M399 340.5h1M393 312.5h1M410 320.5h1M393 331.5h1M413 310.5h1M393 327.5h1M408 328.5h1M409 305.5h1M400 341.5h1M390 340.5h1M402 303.5h1M394 331.5h1M409 298.5h1M408 300.5h1M410 317.5h1M398 305.5h1M405 338.5h1M394 313.5h1M393 310.5h1M412 310.5h1M393 338.5h1M396 304.5h1M411 331.5h1M401 302.5h1M392 317.5h1M398 309.5h1M392 326.5h1M408 298.5h1M409 325.5h1M410 321.5h1M405 298.5h1M396 337.5h1M392 332.5h1M397 336.5h1M406 331.5h1M413 332.5h1M408 324.5h1M393 296.5h1M395 315.5h1M405 333.5h1M396 330.5h1M406 338.5h1M389 330.5h1M397 296.5h1M396 311.5h1M406 332.5h1M408 336.5h1M401 300.5h1M411 330.5h1M397 337.5h1M407 330.5h1M409 330.5h1M396 319.5h1M402 345.5h1M409 328.5h1M392 319.5h1M411 297.5h1M410 315.5h1M414 329.5h1M396 322.5h1M394 327.5h1M405 302.5h1M411 334.5h1M404 334.5h1M410 304.5h1M413 311.5h1M399 302.5h1M394 312.5h1M401 295.5h1M409 297.5h1M409 310.5h1M407 334.5h1M395 331.5h1M415 307.5h1M393 330.5h1M395 303.5h1M410 310.5h1M398 338.5h1M410 322.5h1M394 325.5h1M395 321.5h1M398 341.5h1M406 330.5h1M397 305.5h1M397 313.5h1M392 337.5h1M410 298.5h1M396 302.5h1M400 302.5h1M415 314.5h1M406 334.5h1M412 309.5h1M408 331.5h1M410 319.5h1M398 307.5h1M396 327.5h1M411 324.5h1M395 332.5h1M411 321.5h1M399 305.5h1" stroke="#ff5100" stroke-width="1" fill="none" stroke-opacity="0.8"/>
<path d="M399.8 303.3 407.1 300.5 409.9 305.1 409.9 319.9 407.1 332.8 401.6 340.2 397 338.3 395.2 327.3 396.1 312.5Z" fill="#ff5100" filter="url(#b)"/>
<path d="M519 301.5h1M517 289.5h1M519 287.5h1M518 293.5h1M521 290.5h1M519 300.5h1M517 293.5h1M524 287.5h1M518 290.5h1M518 285.5h1M516 292.5h1M522 288.5h1M518 298.5h1M521 297.5h1M517 298.5h1M522 286.5h1M520 296.5h1M516 296.5h1M522 283.5h1M518 289.5h1M518 299.5h1M515 294.5h1M520 294.5h1M517 294.5h1M518 286.5h1M517 302.5h1M521 291.5h1M519 288.5h1M522 287.5h1M520 281.5h1M519 299.5h1M523 285.5h1M520 293.5h1M516 293.5h1M522 293.5h1" stroke="#d2d2d2" stroke-width="1" fill="none" stroke-opacity="0.8"/>
<path d="M518.9 283.9 523.5 283.9 521.6 294.1 519.8 301.4 517 297.8Z" fill="#d2d2d2" filter="url(#b)"/>
<path d="M491 352.5h1M493 357.5h1M494 354.5h1M494 360.5h1M495 351.5h1M496 364.5h1M496 366.5h1M498 350.5h1M498 362.5h1M498 363.5h1M498 365.5h1M499 355.5h1M500 357.5h1M500 359.5h1M500 361.5h1M500 363.5h1M500 369.5h1M501 350.5h1M501 355.5h1M501 360.5h1M501 362.5h1M502 359.5h1M504 351.5h1M504 354.5h1M504 365.5h1M505 347.5h1M505 367.5h1M506 357.5h1M507 349.5h1M507 355.5h1M507 357.5h1M509 353.5h1M509 359.5h1M509 371.5h1M510 367.5h1M511 351.5h1M512 365.5h1M513 350.5h1M513 353.5h1M513 354.5h1M513 366.5h1M513 370.5h1M514 350.5h1M514 355.5h1M514 360.5h1M515 346.5h1M515 353.5h1M515 366.5h1M516 361.5h1M516 362.5h1M516 367.5h1M516 368.5h1M517 348.5h1M517 351.5h1M517 357.5h1M517 359.5h1M517 361.5h1M517 367.5h1M518 348.5h1M518 353.5h1M518 367.5h1M519 346.5h1M519 363.5h1M519 367.5h1M520 351.5h1M520 366.5h1M521 350.5h1M521 356.5h1M521 367.5h1M521 368.5h1M522 345.5h1M522 350.5h1M522 368.5h1M522 371.5h1M523 360.5h1M523 366.5h1M524 356.5h1M524 358.5h1M524 363.5h1M524 368.5h1M524 369.5h1M525 349.5h1M525 367.5h1M526 360.5h1M526 361.5h1M527 351.5h1M527 357.5h1M527 365.5h1M527 371.5h1M527 372.5h1M528 366.5h1M529 358.5h1" stroke="#d2d2d2" stroke-width="1" fill="none"/>
<path d="M524 358.5h1M526 366.5h1M519 353.5h1M512 354.5h1M502 372.5h1M507 349.5h1M522 373.5h1M525 366.5h1M524 369.5h1M508 372.5h1M519 378.5h1M525 368.5h1M524 368.5h1M507 352.5h1M506 366.5h1M510 351.5h1M524 374.5h1M505 358.5h1M510 372.5h1M515 354.5h1M504 365.5h1M522 372.5h1M524 371.5h1M509 351.5h1M511 353.5h1M508 350.5h1M508 354.5h1M517 375.5h1M506 360.5h1M508 353.5h1M522 357.5h1M523 375.5h1M519 351.5h1M512 350.5h1M506 367.5h1M509 374.5h1M518 353.5h1M518 373.5h1M501 373.5h1M508 351.5h1M529 360.5h1M505 361.5h1M505 367.5h1M514 353.5h1M525 367.5h1M506 359.5h1M523 369.5h1M507 369.5h1M502 364.5h1M521 354.5h1M501 361.5h1M528 364.5h1M525 362.5h1M517 374.5h1M525 371.5h1M504 364.5h1M527 368.5h1M520 356.5h1M505 363.5h1M507 370.5h1M506 353.5h1M506 369.5h1M505 368.5h1M507 368.5h1M503 373.5h1M504 366.5h1M505 352.5h1M525 364.5h1M511 352.5h1M514 377.5h1M506 357.5h1M517 354.5h1M525 363.5h1M509 372.5h1M510 350.5h1M504 360.5h1M527 365.5h1M507 371.5h1M514 354.5h1M509 350.5h1M516 353.5h1M527 369.5h1M523 357.5h1M502 354.5h1M527 366.5h1M526 370.5h1M504 359.5h1M505 364.5h1M521 355.5h1M504 367.5h1M519 356.5h1M529 365.5h1M525 361.5h1M520 377.5h1M509 348.5h1M526 363.5h1M506 355.5h1M509 371.5h1M506 358.5h1M521 373.5h1M527 353.5h1M506 373.5h1M506 371.5h1M525 365.5h1M525 351.5h1M510 353.5h1M500 364.5h1M516 374.5h1M518 375.5h1M501 351.5h1M512 373.5h1M525 370.5h1M505 348.5h1M504 363.5h1M513 354.5h1M508 370.5h1M513 375.5h1M526 367.5h1M522 353.5h1M524 370.5h1M506 364.5h1" stroke="#d2d2d2" stroke-width="1" fill="none" stroke-opacity="0.8"/>
<path d="M507.8 353.1 517 354 524.4 358.6 526.2 366 522.6 373.4 515.2 375.2 507.8 371.5 505 362.3Z" fill="#d2d2d2" filter="url(#b)"/>
<path d="M515.2 327.3 522.6 329.1 527.2 338.3 526.2 349.4 522.6 358.6 517 356.8 512.4 349.4 511.5 338.3Z" fill="#a0a0a2" filter="url(#b2)" fill-opacity="0.6"/>
<path d="M510 339.5h1M511 345.5h1M512 333.5h1M512 334.5h1M512 338.5h1M512 340.5h1M512 341.5h1M512 347.5h1M513 335.5h1M513 336.5h1M513 341.5h1M513 344.5h1M513 345.5h1M513 346.5h1M513 350.5h1M514 331.5h1M514 332.5h1M514 333.5h1M514 335.5h1M514 340.5h1M514 343.5h1M514 344.5h1M514 346.5h1M515 327.5h1M515 329.5h1M515 331.5h1M515 332.5h1M515 333.5h1M515 334.5h1M515 335.5h1M515 337.5h1M515 338.5h1M515 339.5h1M515 340.5h1M515 342.5h1M515 343.5h1M515 344.5h1M515 346.5h1M515 349.5h1M515 351.5h1M515 352.5h1M516 327.5h1M516 329.5h1M516 333.5h1M516 334.5h1M516 337.5h1M516 338.5h1M516 340.5h1M516 343.5h1M516 346.5h1M516 351.5h1M516 352.5h1M516 355.5h1M516 356.5h1M517 328.5h1M517 329.5h1M517 333.5h1M517 335.5h1M517 337.5h1M517 339.5h1M517 340.5h1M517 343.5h1M517 346.5h1M517 347.5h1M517 351.5h1M517 353.5h1M517 354.5h1M517 356.5h1M517 357.5h1M518 328.5h1M518 334.5h1M518 335.5h1M518 336.5h1M518 338.5h1M518 343.5h1M518 344.5h1M518 345.5h1M518 350.5h1M518 351.5h1M518 354.5h1M518 356.5h1M519 331.5h1M519 334.5h1M519 336.5h1M519 337.5h1M519 340.5h1M519 343.5h1M519 344.5h1M519 345.5h1M519 347.5h1M519 348.5h1M519 349.5h1M519 353.5h1M520 330.5h1M520 331.5h1M520 334.5h1M520 335.5h1M520 336.5h1M520 337.5h1M520 339.5h1M520 340.5h1M520 341.5h1M520 342.5h1M520 343.5h1M520 345.5h1M520 348.5h1M520 349.5h1M520 352.5h1M521 328.5h1M521 329.5h1M521 333.5h1M521 336.5h1M521 339.5h1M521 340.5h1M521 341.5h1M521 346.5h1M521 352.5h1M522 330.5h1M522 331.5h1M522 334.5h1M522 339.5h1M522 343.5h1M522 348.5h1M522 356.5h1M522 357.5h1M523 333.5h1M523 335.5h1M523 339.5h1M523 341.5h1M523 343.5h1M523 345.5h1M523 346.5h1M523 347.5h1M523 354.5h1M523 355.5h1M524 331.5h1M524 333.5h1M524 334.5h1M524 335.5h1M524 340.5h1M524 342.5h1M524 343.5h1M524 344.5h1M524 345.5h1M524 347.5h1M524 348.5h1M524 349.5h1M524 353.5h1M524 355.5h1M525 337.5h1M525 338.5h1M525 339.5h1M525 341.5h1M525 346.5h1M525 348.5h1M526 338.5h1M526 345.5h1M526 348.5h1M526 352.5h1M527 338.5h1M527 342.5h1M527 343.5h1" stroke="#a0a0a2" stroke-width="1" fill="none"/>
<path d="M523 350.5h1M520 331.5h1M521 332.5h1M525 344.5h1M525 334.5h1M525 341.5h1M523 348.5h1M515 334.5h1M515 336.5h1M524 344.5h1M527 344.5h1M526 344.5h1M513 343.5h1M515 344.5h1M513 345.5h1M513 334.5h1M518 333.5h1M527 340.5h1M523 343.5h1M515 335.5h1M516 352.5h1M527 350.5h1M522 335.5h1M521 355.5h1M521 333.5h1M517 352.5h1M517 350.5h1M525 348.5h1M515 339.5h1M523 335.5h1M513 341.5h1M525 332.5h1M523 332.5h1M520 355.5h1M522 336.5h1M521 334.5h1M515 346.5h1M514 348.5h1M523 344.5h1M520 352.5h1M524 346.5h1M511 347.5h1M526 337.5h1M525 355.5h1M514 340.5h1M513 330.5h1M523 349.5h1M523 338.5h1M512 337.5h1M524 340.5h1M525 331.5h1" stroke="#a0a0a2" stroke-width="1" fill="none" stroke-opacity="0.8"/>
<path d="M516 332 522 333 525 340 524 348 520.5 354 516.5 351 514 344Z" fill="#a0a0a2" filter="url(#b)"/>
<path d="M518 303.5h1M505 308.5h1M499 332.5h1M511 339.5h1M519 324.5h1M516 329.5h1M503 336.5h1M502 335.5h1M512 296.5h1M518 306.5h1M519 309.5h1M512 302.5h1M505 305.5h1M518 327.5h1M500 303.5h1M502 313.5h1M502 295.5h1M516 334.5h1M504 337.5h1M502 332.5h1M499 330.5h1M503 309.5h1M520 304.5h1M519 320.5h1M502 315.5h1M512 340.5h1M503 310.5h1M524 320.5h1M514 300.5h1M503 311.5h1M518 337.5h1M516 302.5h1M518 311.5h1M501 316.5h1M501 323.5h1M522 324.5h1M510 339.5h1M501 305.5h1M519 303.5h1M503 338.5h1M519 321.5h1M503 332.5h1M513 335.5h1M506 303.5h1M511 340.5h1M506 300.5h1M503 308.5h1M514 337.5h1M520 320.5h1M519 322.5h1M518 331.5h1M505 336.5h1M498 310.5h1M517 326.5h1M513 339.5h1M512 337.5h1M520 303.5h1M525 310.5h1M500 332.5h1M508 296.5h1M522 320.5h1M518 317.5h1M508 302.5h1M504 309.5h1M519 301.5h1M501 322.5h1M504 339.5h1M514 335.5h1M511 298.5h1M510 301.5h1M500 330.5h1M506 304.5h1M508 301.5h1M515 296.5h1M515 302.5h1M517 329.5h1M519 330.5h1M511 301.5h1M520 328.5h1M504 305.5h1M502 302.5h1M501 321.5h1M505 340.5h1M516 301.5h1M514 302.5h1M500 314.5h1M507 305.5h1M499 311.5h1M510 299.5h1M503 337.5h1M514 336.5h1M519 326.5h1M506 305.5h1M502 334.5h1M505 307.5h1M517 331.5h1M519 312.5h1M501 318.5h1M508 300.5h1M507 301.5h1M502 341.5h1M519 314.5h1M518 321.5h1M507 304.5h1M500 329.5h1M499 307.5h1M514 299.5h1M520 309.5h1M516 332.5h1M518 324.5h1M502 317.5h1M501 314.5h1M508 303.5h1M518 304.5h1M518 325.5h1M499 313.5h1M500 324.5h1M518 316.5h1M502 321.5h1M519 306.5h1M504 300.5h1M501 326.5h1M520 314.5h1M514 297.5h1M520 310.5h1M522 329.5h1M502 331.5h1M523 335.5h1M501 335.5h1M522 311.5h1M506 307.5h1M520 318.5h1M504 341.5h1M502 305.5h1M524 324.5h1M506 302.5h1M519 328.5h1M516 300.5h1M511 295.5h1M504 340.5h1M503 307.5h1M519 327.5h1M506 342.5h1M518 322.5h1M502 306.5h1M505 306.5h1M503 333.5h1M501 334.5h1M504 306.5h1M512 338.5h1M520 315.5h1M520 332.5h1M520 335.5h1M501 327.5h1M523 324.5h1M496 319.5h1M507 300.5h1M523 313.5h1M522 317.5h1M513 341.5h1M518 310.5h1M519 323.5h1M523 319.5h1M516 339.5h1M517 336.5h1M501 312.5h1M502 309.5h1M509 338.5h1M518 296.5h1M503 335.5h1M499 324.5h1M513 296.5h1M510 300.5h1M499 317.5h1M518 323.5h1M516 303.5h1M502 325.5h1M507 339.5h1M500 312.5h1M501 313.5h1M504 310.5h1M510 341.5h1M519 319.5h1M519 308.5h1M506 341.5h1M502 318.5h1M511 297.5h1M513 336.5h1M508 338.5h1M517 325.5h1M500 331.5h1M519 305.5h1M519 315.5h1M517 302.5h1M521 303.5h1M499 310.5h1M500 339.5h1M515 339.5h1M514 333.5h1M500 325.5h1M500 308.5h1M496 325.5h1M499 331.5h1M500 326.5h1M522 332.5h1M520 325.5h1M517 304.5h1M502 314.5h1M503 306.5h1M502 310.5h1M521 305.5h1M518 307.5h1M500 313.5h1M519 329.5h1M510 340.5h1M498 342.5h1M501 336.5h1M496 320.5h1M502 319.5h1M514 339.5h1M502 316.5h1M521 307.5h1M520 322.5h1M498 315.5h1M500 334.5h1" stroke="#ff5100" stroke-width="1" fill="none" stroke-opacity="0.8"/>
<path d="M508 303 515 301 519 305 519.5 320 517 332 512 340 505 339 501.5 328 502 313Z" fill="#ff5100" filter="url(#b)"/>
<path d="M124 431.5h1M125 434.5h1M126 425.5h1M126 429.5h1M126 434.5h1M126 439.5h1M127 424.5h1M127 427.5h1M127 438.5h1M128 431.5h1M128 432.5h1M128 435.5h1M128 437.5h1M128 439.5h1M129 428.5h1M129 429.5h1M129 434.5h1M129 436.5h1M130 425.5h1M130 429.5h1M130 435.5h1M130 437.5h1M130 439.5h1M131 427.5h1M131 429.5h1M131 433.5h1M131 434.5h1M132 428.5h1M132 430.5h1M132 434.5h1M132 437.5h1M132 438.5h1M133 426.5h1M133 427.5h1M133 432.5h1M133 434.5h1M134 424.5h1M134 433.5h1M134 435.5h1M134 439.5h1M135 425.5h1M135 427.5h1M135 436.5h1M136 424.5h1M136 428.5h1M136 429.5h1M136 431.5h1M137 433.5h1M137 435.5h1M137 439.5h1" stroke="#d2d2d2" stroke-width="1" fill="none"/>
<path d="M94 491.5h1M116 490.5h1M122 499.5h1M93 489.5h1M88 490.5h1M91 490.5h1M106 489.5h1M103 486.5h1M120 503.5h1M94 489.5h1M118 496.5h1M87 490.5h1M109 505.5h1M118 491.5h1M83 503.5h1M121 504.5h1M113 490.5h1M86 491.5h1M85 491.5h1M88 507.5h1M84 487.5h1M119 497.5h1M87 491.5h1M99 510.5h1M111 490.5h1M81 507.5h1M108 507.5h1M119 500.5h1M86 504.5h1M112 510.5h1M85 502.5h1M116 506.5h1M111 507.5h1M86 497.5h1M121 499.5h1M111 491.5h1M118 495.5h1M119 502.5h1M91 507.5h1M98 488.5h1M98 489.5h1M97 507.5h1M85 500.5h1M113 507.5h1M103 507.5h1M108 490.5h1M84 505.5h1M103 506.5h1M110 489.5h1M96 488.5h1M83 502.5h1M120 497.5h1M117 505.5h1M96 489.5h1M81 493.5h1M96 509.5h1M93 506.5h1M107 489.5h1M110 505.5h1M91 510.5h1M112 490.5h1M112 508.5h1M101 507.5h1M105 486.5h1M85 508.5h1M119 496.5h1M103 490.5h1M94 488.5h1M118 490.5h1M116 492.5h1M100 486.5h1M84 492.5h1M101 490.5h1M114 506.5h1M93 491.5h1M121 503.5h1M102 488.5h1M116 504.5h1M110 491.5h1M82 505.5h1M108 506.5h1M107 507.5h1M96 506.5h1M84 493.5h1M110 487.5h1M84 504.5h1M90 489.5h1M84 509.5h1M117 508.5h1M85 495.5h1M103 488.5h1M119 493.5h1M116 505.5h1M90 491.5h1M118 504.5h1M88 488.5h1M103 485.5h1M85 505.5h1M102 508.5h1M107 490.5h1M83 505.5h1M84 500.5h1M96 508.5h1M117 504.5h1M104 506.5h1M89 506.5h1M105 490.5h1M85 497.5h1M115 492.5h1M84 495.5h1M114 489.5h1M85 507.5h1M110 490.5h1M89 491.5h1M105 507.5h1M92 486.5h1M113 505.5h1M109 507.5h1M117 506.5h1M104 489.5h1M92 511.5h1M97 506.5h1M81 498.5h1M101 487.5h1M118 502.5h1M89 507.5h1M119 489.5h1M106 486.5h1M120 500.5h1M92 508.5h1" stroke="#d2d2d2" stroke-width="1" fill="none" stroke-opacity="0.8"/>
<path d="M85.8 490.6 106.1 489.7 117.2 492.5 120 499.8 117.2 505.4 102.4 507.2 85.8 507.2Z" fill="#d2d2d2" filter="url(#b)"/>
<path d="M85.8 476 100 471 112 467 125 466 132 470 132 484 122 489.5 85.8 489.5Z" fill="#a0a0a2" filter="url(#b2)" fill-opacity="0.35"/>
<path d="M84 477.5h1M84 485.5h1M85 476.5h1M85 486.5h1M85 487.5h1M86 479.5h1M86 481.5h1M86 488.5h1M87 478.5h1M87 479.5h1M87 481.5h1M87 483.5h1M87 484.5h1M87 486.5h1M87 487.5h1M87 488.5h1M88 478.5h1M88 479.5h1M88 480.5h1M88 481.5h1M88 483.5h1M88 487.5h1M89 477.5h1M89 480.5h1M89 482.5h1M89 483.5h1M89 484.5h1M89 485.5h1M89 487.5h1M90 474.5h1M90 479.5h1M90 480.5h1M90 482.5h1M90 487.5h1M90 488.5h1M91 473.5h1M91 475.5h1M91 477.5h1M91 483.5h1M91 484.5h1M91 485.5h1M92 477.5h1M92 478.5h1M92 480.5h1M92 482.5h1M92 483.5h1M92 484.5h1M92 488.5h1M93 474.5h1M93 477.5h1M93 478.5h1M93 483.5h1M93 487.5h1M93 488.5h1M94 473.5h1M94 474.5h1M94 475.5h1M94 478.5h1M94 480.5h1M94 481.5h1M94 484.5h1M94 485.5h1M94 486.5h1M94 488.5h1M94 490.5h1M95 472.5h1M95 474.5h1M95 477.5h1M95 478.5h1M95 483.5h1M95 484.5h1M95 485.5h1M96 474.5h1M96 477.5h1M96 478.5h1M96 480.5h1M96 482.5h1M96 485.5h1M96 488.5h1M97 473.5h1M97 475.5h1M97 478.5h1M97 481.5h1M97 482.5h1M97 485.5h1M98 477.5h1M98 478.5h1M98 479.5h1M98 485.5h1M98 486.5h1M99 470.5h1M99 471.5h1M99 475.5h1M99 476.5h1M99 479.5h1M99 483.5h1M99 484.5h1M99 487.5h1M99 488.5h1M99 489.5h1M100 470.5h1M100 471.5h1M100 472.5h1M100 474.5h1M100 475.5h1M100 479.5h1M100 480.5h1M100 482.5h1M100 484.5h1M100 488.5h1M101 471.5h1M101 473.5h1M101 476.5h1M101 477.5h1M101 478.5h1M101 479.5h1M101 481.5h1M101 482.5h1M102 469.5h1M102 471.5h1M102 473.5h1M102 474.5h1M102 476.5h1M102 477.5h1M102 478.5h1M102 479.5h1M102 482.5h1M102 483.5h1M102 485.5h1M103 471.5h1M103 473.5h1M103 479.5h1M103 480.5h1M103 481.5h1M103 483.5h1M103 486.5h1M103 487.5h1M103 488.5h1M104 468.5h1M104 469.5h1M104 470.5h1M104 473.5h1M104 475.5h1M104 476.5h1M104 478.5h1M104 481.5h1M104 482.5h1M104 483.5h1M104 486.5h1M105 469.5h1M105 470.5h1M105 472.5h1M105 473.5h1M105 474.5h1M105 475.5h1M105 477.5h1M105 479.5h1M105 481.5h1M105 484.5h1M106 469.5h1M106 471.5h1M106 473.5h1M106 474.5h1M106 475.5h1M106 477.5h1M106 479.5h1M106 482.5h1M106 486.5h1M107 469.5h1M107 472.5h1M107 473.5h1M107 474.5h1M107 477.5h1M107 481.5h1M107 482.5h1M107 484.5h1M107 486.5h1M108 469.5h1M108 471.5h1M108 472.5h1M108 475.5h1M108 476.5h1M108 482.5h1M108 483.5h1M108 485.5h1M109 467.5h1M109 468.5h1M109 470.5h1M109 471.5h1M109 473.5h1M109 474.5h1M109 481.5h1M109 482.5h1M109 486.5h1M109 487.5h1M109 488.5h1M109 489.5h1M110 467.5h1M110 468.5h1M110 470.5h1M110 473.5h1M110 474.5h1M110 475.5h1M110 479.5h1M110 482.5h1M110 483.5h1M110 484.5h1M110 486.5h1M111 469.5h1M111 471.5h1M111 472.5h1M111 475.5h1M111 476.5h1M111 479.5h1M111 480.5h1M111 484.5h1M111 485.5h1M111 486.5h1M111 488.5h1M111 490.5h1M112 467.5h1M112 469.5h1M112 472.5h1M112 474.5h1M112 476.5h1M112 480.5h1M112 481.5h1M112 482.5h1M112 484.5h1M112 487.5h1M113 466.5h1M113 471.5h1M113 472.5h1M113 474.5h1M113 476.5h1M113 481.5h1M113 483.5h1M113 484.5h1M113 487.5h1M113 488.5h1M114 469.5h1M114 470.5h1M114 472.5h1M114 474.5h1M114 475.5h1M114 478.5h1M114 479.5h1M114 482.5h1M114 484.5h1M114 485.5h1M115 469.5h1M115 470.5h1M115 471.5h1M115 472.5h1M115 477.5h1M115 480.5h1M115 484.5h1M115 486.5h1M115 489.5h1M116 468.5h1M116 469.5h1M116 474.5h1M116 481.5h1M116 482.5h1M116 483.5h1M116 488.5h1M116 489.5h1M117 466.5h1M117 467.5h1M117 480.5h1M117 481.5h1M117 482.5h1M117 483.5h1M117 487.5h1M117 489.5h1M118 469.5h1M118 470.5h1M118 473.5h1M118 474.5h1M118 476.5h1M118 478.5h1M118 480.5h1M118 487.5h1M118 488.5h1M119 469.5h1M119 476.5h1M119 477.5h1M119 478.5h1M119 479.5h1M119 481.5h1M119 482.5h1M119 483.5h1M119 485.5h1M119 486.5h1M119 487.5h1M120 467.5h1M120 469.5h1M120 470.5h1M120 480.5h1M120 482.5h1M120 484.5h1M120 486.5h1M120 487.5h1M121 466.5h1M121 468.5h1M121 469.5h1M121 471.5h1M121 472.5h1M121 475.5h1M121 476.5h1M121 478.5h1M121 479.5h1M121 484.5h1M121 485.5h1M121 487.5h1M121 488.5h1M122 468.5h1M122 469.5h1M122 471.5h1M122 472.5h1M122 474.5h1M122 476.5h1M122 478.5h1M122 480.5h1M122 481.5h1M122 486.5h1M123 468.5h1M123 471.5h1M123 475.5h1M123 476.5h1M123 477.5h1M123 479.5h1M123 481.5h1M123 482.5h1M123 483.5h1M123 484.5h1M123 485.5h1M123 486.5h1M124 468.5h1M124 470.5h1M124 476.5h1M124 480.5h1M124 481.5h1M124 483.5h1M124 487.5h1M125 465.5h1M125 467.5h1M125 468.5h1M125 470.5h1M125 471.5h1M125 473.5h1M125 474.5h1M125 476.5h1M125 482.5h1M125 483.5h1M125 484.5h1M125 485.5h1M126 471.5h1M126 472.5h1M126 474.5h1M126 475.5h1M126 477.5h1M126 478.5h1M126 484.5h1M126 485.5h1M127 467.5h1M127 470.5h1M127 471.5h1M127 476.5h1M127 478.5h1M127 479.5h1M127 480.5h1M127 485.5h1M128 467.5h1M128 468.5h1M128 471.5h1M128 472.5h1M128 477.5h1M128 482.5h1M128 483.5h1M129 470.5h1M129 471.5h1M129 475.5h1M129 477.5h1M129 478.5h1M129 480.5h1M129 481.5h1M129 482.5h1M129 483.5h1M129 484.5h1M130 470.5h1M130 477.5h1M130 479.5h1M130 480.5h1M130 481.5h1M130 483.5h1M131 477.5h1M131 482.5h1M132 481.5h1" stroke="#a0a0a2" stroke-width="1" fill="none"/>
<path d="M131 439.5h1M124 479.5h1M127 453.5h1M134 456.5h1M146 453.5h1M108 462.5h1M144 452.5h1M151 457.5h1M143 471.5h1M131 455.5h1M144 460.5h1M121 466.5h1M137 455.5h1M144 455.5h1M133 447.5h1M105 454.5h1M152 457.5h1M143 468.5h1M119 452.5h1M128 483.5h1M132 462.5h1M117 445.5h1M146 480.5h1M120 467.5h1M138 472.5h1M136 456.5h1M143 467.5h1M130 451.5h1M126 461.5h1M124 447.5h1M132 463.5h1M127 477.5h1M129 439.5h1M129 449.5h1M134 443.5h1M148 455.5h1M123 470.5h1M131 457.5h1M148 459.5h1M125 464.5h1M115 460.5h1M148 466.5h1M146 438.5h1M133 448.5h1M154 464.5h1M138 452.5h1M127 455.5h1M124 465.5h1M147 461.5h1M138 465.5h1M131 443.5h1M151 453.5h1M145 445.5h1M124 448.5h1M118 444.5h1M128 458.5h1M133 470.5h1M125 472.5h1M126 469.5h1M145 462.5h1M130 450.5h1M123 459.5h1M145 450.5h1M136 480.5h1M113 478.5h1M131 468.5h1M119 465.5h1M158 435.5h1M144 467.5h1M138 463.5h1M125 454.5h1M138 443.5h1M119 478.5h1M147 452.5h1M120 457.5h1M144 459.5h1M143 447.5h1M121 474.5h1M127 457.5h1M143 486.5h1M135 470.5h1M126 472.5h1M148 481.5h1M129 470.5h1M135 478.5h1M111 452.5h1M152 463.5h1M113 465.5h1M138 464.5h1M133 452.5h1M131 476.5h1M126 471.5h1M145 446.5h1M126 444.5h1M157 462.5h1M139 442.5h1M128 475.5h1M114 438.5h1M104 474.5h1M126 450.5h1M118 468.5h1M148 456.5h1M120 464.5h1M141 466.5h1M140 473.5h1M117 466.5h1M128 480.5h1M149 476.5h1M132 445.5h1M141 460.5h1M134 448.5h1M148 465.5h1M124 474.5h1M141 475.5h1M128 452.5h1M123 469.5h1M150 463.5h1M123 471.5h1M156 447.5h1M125 444.5h1M129 438.5h1M117 479.5h1M120 483.5h1M129 487.5h1M125 465.5h1M154 474.5h1M130 461.5h1M137 461.5h1M141 464.5h1M120 474.5h1M154 453.5h1M143 463.5h1M131 466.5h1M139 451.5h1M142 476.5h1M118 491.5h1M120 444.5h1M119 453.5h1M134 458.5h1M156 461.5h1M153 466.5h1M118 467.5h1M114 455.5h1M140 459.5h1M120 461.5h1M141 474.5h1M120 476.5h1M128 455.5h1M132 468.5h1M148 483.5h1M159 438.5h1M135 437.5h1M116 464.5h1M136 445.5h1M120 475.5h1M151 454.5h1M108 445.5h1M142 451.5h1M123 458.5h1M137 472.5h1M117 451.5h1M139 452.5h1M128 479.5h1M129 468.5h1M152 451.5h1M125 473.5h1M148 433.5h1M121 472.5h1M118 454.5h1M148 461.5h1M157 469.5h1M138 469.5h1M140 470.5h1M129 477.5h1M116 456.5h1M148 460.5h1M121 464.5h1M149 450.5h1M122 470.5h1M124 468.5h1M123 474.5h1M142 448.5h1M111 446.5h1M155 479.5h1M154 441.5h1M136 454.5h1M142 454.5h1M134 459.5h1M136 448.5h1M141 468.5h1M135 474.5h1M135 444.5h1M126 463.5h1M125 453.5h1M135 484.5h1M124 463.5h1M135 462.5h1M140 468.5h1M123 467.5h1M130 460.5h1M110 472.5h1M132 479.5h1M124 464.5h1M148 469.5h1M153 471.5h1M114 463.5h1M142 468.5h1M144 433.5h1M127 454.5h1M135 448.5h1M126 470.5h1M123 476.5h1M148 472.5h1M108 453.5h1M143 445.5h1M142 479.5h1M127 470.5h1M134 453.5h1M131 482.5h1M122 455.5h1M145 451.5h1M120 468.5h1M133 468.5h1M123 445.5h1M121 458.5h1M143 449.5h1M127 476.5h1M141 454.5h1M120 452.5h1M143 462.5h1M144 446.5h1M123 454.5h1M130 452.5h1M114 468.5h1M149 487.5h1M138 478.5h1M121 454.5h1M143 477.5h1M121 462.5h1M140 452.5h1M124 450.5h1M142 471.5h1M115 467.5h1M136 471.5h1M130 443.5h1M125 450.5h1M124 446.5h1M133 475.5h1M153 469.5h1M110 459.5h1M157 464.5h1M146 469.5h1M136 483.5h1M140 463.5h1M141 484.5h1M147 475.5h1M160 443.5h1M120 465.5h1M132 488.5h1M128 492.5h1M150 450.5h1M127 449.5h1M131 471.5h1M113 460.5h1M122 471.5h1M125 475.5h1M138 455.5h1M129 443.5h1M128 447.5h1M113 454.5h1M147 462.5h1M120 479.5h1M151 446.5h1M111 469.5h1M134 467.5h1M122 456.5h1M145 444.5h1M122 464.5h1M140 439.5h1M146 477.5h1M124 459.5h1M136 477.5h1M133 469.5h1M142 480.5h1M122 475.5h1M130 448.5h1M142 462.5h1M119 457.5h1M141 476.5h1M136 468.5h1M127 462.5h1M144 473.5h1M142 444.5h1M125 451.5h1M140 465.5h1M137 463.5h1M159 447.5h1M140 477.5h1M129 476.5h1M147 469.5h1M130 484.5h1M129 458.5h1M125 445.5h1M130 479.5h1M126 455.5h1M139 441.5h1M128 478.5h1M129 475.5h1M114 470.5h1M126 477.5h1M136 457.5h1M121 465.5h1M157 446.5h1M142 481.5h1M124 452.5h1M112 470.5h1M127 452.5h1M134 474.5h1M149 477.5h1M128 474.5h1M127 432.5h1M126 458.5h1M133 474.5h1M139 450.5h1M114 454.5h1M134 460.5h1M142 465.5h1M105 473.5h1M140 457.5h1M133 455.5h1M131 480.5h1M145 457.5h1M143 476.5h1M109 462.5h1M126 457.5h1M144 475.5h1M145 449.5h1M139 480.5h1M141 483.5h1M139 455.5h1M153 443.5h1M138 449.5h1M149 452.5h1M138 471.5h1M117 471.5h1M131 461.5h1M129 479.5h1M146 472.5h1M145 468.5h1M152 465.5h1M149 454.5h1M117 462.5h1M143 442.5h1M155 444.5h1M111 454.5h1M136 464.5h1M148 470.5h1M139 471.5h1M132 451.5h1M132 476.5h1M142 450.5h1M123 475.5h1M142 453.5h1M115 458.5h1M135 455.5h1M141 450.5h1M120 454.5h1M141 456.5h1M116 462.5h1M133 440.5h1M139 463.5h1M130 458.5h1M137 451.5h1M119 444.5h1M141 451.5h1M130 453.5h1M119 477.5h1M141 480.5h1M126 467.5h1M152 468.5h1M138 434.5h1M121 475.5h1M106 479.5h1M140 482.5h1M127 479.5h1M147 465.5h1M135 476.5h1M106 462.5h1M133 467.5h1M119 454.5h1M114 461.5h1M148 458.5h1M130 474.5h1M132 465.5h1M131 459.5h1M114 460.5h1M117 475.5h1M120 459.5h1M115 450.5h1M153 472.5h1M135 485.5h1M122 463.5h1M127 472.5h1M128 472.5h1M153 473.5h1M136 449.5h1M144 465.5h1M134 450.5h1M151 452.5h1M125 470.5h1M153 462.5h1M144 487.5h1M149 455.5h1M162 445.5h1M137 441.5h1M136 450.5h1M126 453.5h1M153 467.5h1M137 450.5h1M131 444.5h1M131 464.5h1M128 476.5h1M119 441.5h1M133 437.5h1M139 460.5h1M139 479.5h1M128 453.5h1M115 461.5h1M118 458.5h1M141 458.5h1M147 479.5h1M116 448.5h1M154 477.5h1M105 455.5h1M150 455.5h1M145 453.5h1M130 454.5h1M155 443.5h1M158 457.5h1M135 436.5h1M134 451.5h1M130 466.5h1M149 449.5h1M125 480.5h1M117 480.5h1M135 456.5h1M128 451.5h1M140 466.5h1M135 450.5h1M126 465.5h1M125 477.5h1M132 454.5h1M113 466.5h1M103 473.5h1M135 441.5h1M135 469.5h1M149 460.5h1M136 478.5h1M122 451.5h1M125 457.5h1M120 453.5h1M138 470.5h1M126 449.5h1M131 463.5h1M147 470.5h1M139 461.5h1M136 458.5h1M127 451.5h1M140 447.5h1M118 466.5h1M118 465.5h1M136 475.5h1M141 467.5h1M146 468.5h1M116 447.5h1M136 465.5h1M155 468.5h1M145 479.5h1M136 466.5h1M128 465.5h1M140 454.5h1M119 462.5h1M147 453.5h1M115 472.5h1M142 466.5h1M136 489.5h1M140 467.5h1M107 462.5h1M121 478.5h1M125 449.5h1M139 453.5h1M122 479.5h1M142 475.5h1M134 469.5h1M117 457.5h1M141 470.5h1M122 476.5h1M147 468.5h1M110 454.5h1M127 447.5h1M111 465.5h1M123 488.5h1M128 449.5h1M139 481.5h1M144 468.5h1M146 466.5h1M143 448.5h1M126 466.5h1M129 437.5h1M152 452.5h1M138 473.5h1M137 469.5h1M145 447.5h1M136 460.5h1M133 462.5h1M133 472.5h1M141 473.5h1M132 455.5h1M139 467.5h1M140 464.5h1M110 484.5h1M148 447.5h1M159 449.5h1M105 468.5h1M141 457.5h1M126 476.5h1M115 466.5h1M157 444.5h1M136 474.5h1M137 476.5h1M126 475.5h1M130 447.5h1M117 481.5h1M140 448.5h1M158 458.5h1M131 451.5h1M122 478.5h1M111 447.5h1M151 449.5h1M137 445.5h1M150 483.5h1M146 476.5h1M143 453.5h1M141 479.5h1M128 473.5h1M125 471.5h1M110 467.5h1M124 455.5h1M116 451.5h1M125 441.5h1M144 464.5h1M135 475.5h1M118 455.5h1M137 452.5h1M126 478.5h1M146 454.5h1M141 465.5h1M132 439.5h1M154 462.5h1M127 464.5h1M119 469.5h1M129 467.5h1M154 455.5h1M128 443.5h1M145 459.5h1M122 450.5h1M131 456.5h1M116 450.5h1M122 474.5h1M128 489.5h1M125 463.5h1M124 442.5h1M149 453.5h1M143 458.5h1M120 448.5h1M142 464.5h1M138 457.5h1M157 447.5h1M135 467.5h1M146 470.5h1M144 453.5h1M129 471.5h1M145 467.5h1M146 474.5h1M127 439.5h1M137 470.5h1M138 448.5h1M136 451.5h1M124 477.5h1M119 446.5h1M107 474.5h1M104 445.5h1M127 474.5h1M142 459.5h1M122 462.5h1M121 451.5h1M118 469.5h1M110 455.5h1M125 458.5h1M126 474.5h1M131 469.5h1M140 458.5h1M149 461.5h1M113 441.5h1M138 446.5h1M147 467.5h1M127 469.5h1M153 478.5h1M142 482.5h1M136 470.5h1M152 454.5h1M161 463.5h1M139 457.5h1M118 446.5h1M121 470.5h1M111 472.5h1M130 465.5h1M147 459.5h1M137 474.5h1M156 473.5h1M117 458.5h1M130 463.5h1M150 446.5h1M122 483.5h1M143 482.5h1M120 449.5h1M113 463.5h1M119 464.5h1M158 455.5h1M147 433.5h1M128 470.5h1M148 440.5h1M127 460.5h1M153 457.5h1M161 445.5h1M145 465.5h1M125 461.5h1M129 478.5h1M146 456.5h1M124 475.5h1M132 433.5h1M138 459.5h1M117 464.5h1M146 455.5h1M151 465.5h1M133 450.5h1M135 487.5h1M144 478.5h1M130 469.5h1M121 449.5h1M106 455.5h1M130 476.5h1M144 466.5h1M112 485.5h1M139 449.5h1M139 458.5h1M150 468.5h1M130 473.5h1M120 482.5h1M148 450.5h1M131 467.5h1M143 436.5h1M156 460.5h1M106 461.5h1M129 461.5h1M151 460.5h1M141 453.5h1M120 472.5h1M137 462.5h1M147 456.5h1M115 452.5h1M147 471.5h1M148 451.5h1M121 482.5h1M128 461.5h1M156 452.5h1M143 438.5h1M128 463.5h1M134 468.5h1M137 437.5h1M145 469.5h1M117 477.5h1M128 464.5h1M146 447.5h1M113 476.5h1M132 481.5h1M150 474.5h1M132 477.5h1M137 460.5h1M128 448.5h1M142 458.5h1M149 464.5h1M157 451.5h1M133 473.5h1M136 473.5h1M122 445.5h1M145 485.5h1M134 462.5h1M138 456.5h1M138 461.5h1M130 487.5h1M144 439.5h1M138 477.5h1M129 447.5h1M144 450.5h1M115 451.5h1M118 456.5h1M157 440.5h1M142 435.5h1M142 474.5h1M146 444.5h1" stroke="#ff5100" stroke-width="1" fill="none" stroke-opacity="0.75"/>
<path d="M149 460.5h1M149 465.5h1M139 478.5h1M136 447.5h1M150 453.5h1M147 449.5h1M146 478.5h1M141 477.5h1M120 451.5h1M151 463.5h1M143 478.5h1M114 471.5h1M148 449.5h1M116 462.5h1M153 466.5h1M112 471.5h1M137 477.5h1M145 473.5h1M141 475.5h1M125 450.5h1M116 459.5h1M117 475.5h1M134 477.5h1M153 457.5h1M148 470.5h1M126 475.5h1M133 447.5h1M119 467.5h1M130 477.5h1M113 463.5h1M121 450.5h1M123 451.5h1M152 457.5h1M148 448.5h1M149 471.5h1M115 465.5h1M127 476.5h1M119 470.5h1M138 444.5h1M146 471.5h1M121 473.5h1M124 450.5h1M118 467.5h1M127 449.5h1M118 459.5h1M120 449.5h1M114 456.5h1M149 450.5h1M119 471.5h1M124 475.5h1M132 447.5h1M117 465.5h1M145 448.5h1M143 476.5h1M152 464.5h1M132 477.5h1M128 478.5h1M118 457.5h1M123 450.5h1M129 448.5h1M146 450.5h1M118 465.5h1M153 468.5h1M131 448.5h1M131 478.5h1M121 452.5h1M114 461.5h1M133 481.5h1M138 443.5h1M116 461.5h1M116 458.5h1M148 466.5h1M130 476.5h1M147 467.5h1M145 480.5h1M130 448.5h1M126 446.5h1M109 453.5h1M148 462.5h1M143 447.5h1M119 452.5h1M124 474.5h1M147 451.5h1M150 468.5h1M152 452.5h1M129 477.5h1M135 444.5h1M148 463.5h1M129 478.5h1M148 443.5h1M129 480.5h1M112 468.5h1M144 475.5h1M128 446.5h1M152 451.5h1M128 447.5h1M123 474.5h1M134 480.5h1M121 475.5h1M132 448.5h1M131 477.5h1M136 444.5h1M136 448.5h1M118 466.5h1M142 445.5h1M150 454.5h1M151 453.5h1M126 477.5h1M129 444.5h1M150 452.5h1M154 453.5h1M117 451.5h1M145 478.5h1M149 463.5h1M148 455.5h1M152 479.5h1M130 479.5h1M141 479.5h1M115 447.5h1M128 477.5h1M112 461.5h1M116 466.5h1M126 449.5h1M151 473.5h1M138 481.5h1M141 445.5h1M139 445.5h1M116 453.5h1M148 457.5h1M110 472.5h1M120 477.5h1M127 477.5h1M148 464.5h1M117 461.5h1M147 450.5h1M146 448.5h1M120 453.5h1M138 477.5h1M133 478.5h1M119 474.5h1M135 446.5h1M134 448.5h1M122 473.5h1M123 476.5h1M144 448.5h1M124 484.5h1M154 447.5h1M155 458.5h1M139 479.5h1M117 467.5h1M147 471.5h1M116 465.5h1M131 480.5h1M118 458.5h1M123 449.5h1M118 472.5h1M149 457.5h1M146 474.5h1M148 476.5h1M150 458.5h1M117 459.5h1M135 483.5h1M139 446.5h1M150 460.5h1M131 446.5h1M142 477.5h1M125 446.5h1M149 467.5h1M137 482.5h1M134 445.5h1M131 476.5h1M149 472.5h1M138 447.5h1M139 447.5h1M120 454.5h1M145 446.5h1M126 447.5h1M137 478.5h1M122 446.5h1M149 464.5h1M143 448.5h1M123 447.5h1M146 476.5h1M140 475.5h1M119 468.5h1M116 452.5h1M154 458.5h1M113 464.5h1M145 476.5h1M153 465.5h1M138 445.5h1M151 461.5h1M133 477.5h1M139 483.5h1M150 465.5h1M150 467.5h1M126 445.5h1M136 446.5h1M118 469.5h1M150 463.5h1M132 444.5h1M151 458.5h1M117 464.5h1M144 442.5h1M120 472.5h1M109 451.5h1M148 451.5h1M120 471.5h1M151 456.5h1M147 465.5h1M129 483.5h1M125 475.5h1M135 447.5h1M122 449.5h1M117 463.5h1M117 454.5h1M127 479.5h1M117 456.5h1M135 478.5h1M140 448.5h1M145 443.5h1M154 468.5h1M136 443.5h1M147 469.5h1M140 447.5h1M124 446.5h1M120 450.5h1M129 447.5h1M148 454.5h1M144 477.5h1M117 468.5h1M129 481.5h1M118 454.5h1M125 448.5h1M125 474.5h1M144 445.5h1M118 473.5h1M135 477.5h1M117 471.5h1M120 473.5h1M118 444.5h1M132 479.5h1M131 445.5h1M142 478.5h1M125 451.5h1M115 466.5h1M144 447.5h1M140 479.5h1M150 471.5h1M119 454.5h1M118 445.5h1M137 446.5h1M133 445.5h1M139 477.5h1M118 441.5h1M128 448.5h1M129 442.5h1M144 473.5h1M121 448.5h1M117 457.5h1M148 456.5h1M135 479.5h1M154 473.5h1M150 451.5h1M115 462.5h1M151 449.5h1M130 447.5h1M123 479.5h1M150 456.5h1M139 448.5h1M146 445.5h1M142 442.5h1M148 452.5h1M117 453.5h1M116 449.5h1M134 444.5h1M140 477.5h1M149 453.5h1M126 450.5h1M147 466.5h1M146 444.5h1M116 460.5h1M115 444.5h1M147 453.5h1M149 466.5h1M117 449.5h1M143 444.5h1M143 480.5h1M143 485.5h1M142 441.5h1M117 474.5h1M113 455.5h1M151 459.5h1M148 467.5h1M146 473.5h1M148 471.5h1M130 481.5h1M142 447.5h1M118 447.5h1M134 478.5h1M148 458.5h1" stroke="#ff5100" stroke-width="1" fill="none" stroke-opacity="0.8"/>
<path d="M120.9 451.9 130.1 448.2 143 447.3 148.6 451.9 149.5 463 146.7 472.2 139.3 477.7 128.3 477.7 120 472.2 116.3 463Z" fill="#ff5100" filter="url(#b)"/>
<path d="M242 435.5h1M243 429.5h1M243 430.5h1M244 428.5h1M244 432.5h1M245 426.5h1M245 428.5h1M245 435.5h1M246 427.5h1M246 429.5h1M246 433.5h1M246 437.5h1M247 426.5h1M247 427.5h1M248 426.5h1M248 430.5h1M248 432.5h1M248 436.5h1M248 438.5h1M248 439.5h1M250 436.5h1M250 437.5h1M251 435.5h1M252 422.5h1M252 426.5h1M252 429.5h1M252 430.5h1M252 431.5h1M252 436.5h1M252 438.5h1M253 423.5h1M253 427.5h1M253 429.5h1M253 431.5h1M253 434.5h1M253 435.5h1M253 436.5h1M254 425.5h1M254 427.5h1M254 428.5h1M254 437.5h1M255 434.5h1M256 432.5h1" stroke="#d2d2d2" stroke-width="1" fill="none"/>
<path d="M203 496.5h1M200 497.5h1M223 503.5h1M210 491.5h1M202 501.5h1M199 502.5h1M205 494.5h1M226 503.5h1M234 501.5h1M216 505.5h1M232 501.5h1M239 487.5h1M216 489.5h1M229 487.5h1M199 494.5h1M211 491.5h1M198 495.5h1M213 504.5h1M221 489.5h1M214 489.5h1M220 488.5h1M228 502.5h1M234 498.5h1M205 504.5h1M228 488.5h1M214 484.5h1M215 488.5h1M212 504.5h1M203 493.5h1M202 504.5h1M235 497.5h1M228 505.5h1M223 487.5h1M209 492.5h1M236 492.5h1M206 504.5h1M208 504.5h1M203 503.5h1M233 499.5h1M216 487.5h1M235 494.5h1M234 486.5h1M235 500.5h1M236 500.5h1M235 496.5h1M217 504.5h1M236 493.5h1M231 503.5h1M221 488.5h1M235 498.5h1M215 505.5h1M209 505.5h1M201 506.5h1M209 503.5h1M237 499.5h1M237 493.5h1M203 489.5h1M209 504.5h1M237 487.5h1M201 497.5h1M228 485.5h1M217 488.5h1M234 494.5h1M228 487.5h1M215 506.5h1M203 507.5h1M206 493.5h1M202 496.5h1M206 492.5h1M225 503.5h1M219 486.5h1M222 504.5h1M226 504.5h1M210 488.5h1M232 500.5h1M215 504.5h1M233 489.5h1M201 504.5h1M207 491.5h1M222 488.5h1M212 505.5h1M231 487.5h1M225 488.5h1M202 499.5h1M220 504.5h1M222 489.5h1M200 498.5h1M218 508.5h1M231 489.5h1M218 487.5h1M224 504.5h1M226 487.5h1M202 497.5h1M219 488.5h1M232 490.5h1M222 503.5h1M204 505.5h1M233 501.5h1M217 485.5h1M213 489.5h1M201 496.5h1M227 507.5h1M235 495.5h1M199 492.5h1M210 487.5h1M227 486.5h1M199 496.5h1M223 488.5h1M204 493.5h1M209 506.5h1M210 507.5h1M216 508.5h1M208 503.5h1M236 498.5h1M234 499.5h1M231 488.5h1M201 501.5h1M230 486.5h1M213 486.5h1M224 487.5h1M206 505.5h1M229 485.5h1M237 496.5h1M225 504.5h1M220 487.5h1" stroke="#d2d2d2" stroke-width="1" fill="none" stroke-opacity="0.8"/>
<path d="M202.8 494.3 215.8 488.8 228.7 487.9 235.1 490.6 236 498 228.7 503.5 212.1 505.4 202.8 503.5Z" fill="#d2d2d2" filter="url(#b)"/>
<path d="M221 478 230 470 240 465.5 252 463.5 256.5 470 254 482 245 488.5 228 488.5 220 485Z" fill="#a0a0a2" filter="url(#b2)" fill-opacity="0.22"/>
<path d="M220 483.5h1M221 481.5h1M221 482.5h1M221 484.5h1M221 485.5h1M222 483.5h1M222 485.5h1M223 478.5h1M223 479.5h1M223 480.5h1M223 482.5h1M223 483.5h1M224 476.5h1M224 477.5h1M224 479.5h1M224 480.5h1M224 483.5h1M225 477.5h1M225 480.5h1M225 482.5h1M225 483.5h1M225 484.5h1M225 485.5h1M226 474.5h1M226 475.5h1M226 476.5h1M226 477.5h1M226 480.5h1M226 485.5h1M227 471.5h1M227 475.5h1M227 476.5h1M227 481.5h1M227 482.5h1M227 484.5h1M227 486.5h1M228 471.5h1M228 474.5h1M228 477.5h1M228 478.5h1M228 480.5h1M228 482.5h1M228 483.5h1M228 487.5h1M228 489.5h1M229 470.5h1M229 472.5h1M229 473.5h1M229 474.5h1M229 475.5h1M229 476.5h1M229 477.5h1M229 481.5h1M229 483.5h1M229 485.5h1M229 488.5h1M230 470.5h1M230 473.5h1M230 476.5h1M230 478.5h1M230 481.5h1M230 483.5h1M230 485.5h1M230 487.5h1M231 472.5h1M231 473.5h1M231 475.5h1M231 476.5h1M231 480.5h1M231 481.5h1M231 484.5h1M231 485.5h1M231 486.5h1M232 471.5h1M232 472.5h1M232 474.5h1M232 476.5h1M232 477.5h1M232 479.5h1M232 480.5h1M232 483.5h1M232 484.5h1M232 486.5h1M232 489.5h1M233 470.5h1M233 473.5h1M233 474.5h1M233 475.5h1M233 478.5h1M233 480.5h1M233 482.5h1M233 484.5h1M233 485.5h1M234 468.5h1M234 471.5h1M234 473.5h1M234 474.5h1M234 480.5h1M234 484.5h1M234 486.5h1M235 470.5h1M235 471.5h1M235 475.5h1M235 476.5h1M235 477.5h1M235 478.5h1M235 485.5h1M235 486.5h1M235 487.5h1M235 488.5h1M236 466.5h1M236 469.5h1M236 472.5h1M236 473.5h1M236 480.5h1M236 481.5h1M236 482.5h1M236 484.5h1M236 485.5h1M236 489.5h1M237 466.5h1M237 468.5h1M237 471.5h1M237 472.5h1M237 473.5h1M237 474.5h1M237 479.5h1M237 480.5h1M237 481.5h1M237 485.5h1M237 487.5h1M238 468.5h1M238 470.5h1M238 471.5h1M238 472.5h1M238 473.5h1M238 476.5h1M238 478.5h1M238 479.5h1M238 481.5h1M238 485.5h1M238 486.5h1M239 465.5h1M239 466.5h1M239 468.5h1M239 470.5h1M239 472.5h1M239 473.5h1M239 474.5h1M239 475.5h1M239 476.5h1M239 479.5h1M239 481.5h1M239 483.5h1M239 485.5h1M239 487.5h1M240 465.5h1M240 468.5h1M240 469.5h1M240 470.5h1M240 472.5h1M240 473.5h1M240 474.5h1M240 475.5h1M240 477.5h1M240 478.5h1M240 479.5h1M240 480.5h1M240 481.5h1M240 484.5h1M240 485.5h1M240 487.5h1M241 466.5h1M241 468.5h1M241 470.5h1M241 471.5h1M241 473.5h1M241 474.5h1M241 478.5h1M241 479.5h1M241 481.5h1M241 482.5h1M241 483.5h1M241 484.5h1M241 485.5h1M241 486.5h1M242 465.5h1M242 466.5h1M242 467.5h1M242 469.5h1M242 470.5h1M242 473.5h1M242 474.5h1M242 477.5h1M242 478.5h1M242 479.5h1M242 480.5h1M242 483.5h1M242 484.5h1M243 467.5h1M243 468.5h1M243 473.5h1M243 476.5h1M243 477.5h1M243 482.5h1M243 484.5h1M243 485.5h1M244 466.5h1M244 467.5h1M244 471.5h1M244 473.5h1M244 474.5h1M244 476.5h1M244 477.5h1M244 478.5h1M244 479.5h1M244 481.5h1M244 484.5h1M244 485.5h1M244 486.5h1M245 466.5h1M245 468.5h1M245 469.5h1M245 470.5h1M245 472.5h1M245 475.5h1M245 476.5h1M245 479.5h1M245 482.5h1M245 484.5h1M245 485.5h1M246 464.5h1M246 468.5h1M246 472.5h1M246 473.5h1M246 477.5h1M246 480.5h1M246 481.5h1M246 483.5h1M246 487.5h1M247 463.5h1M247 466.5h1M247 468.5h1M247 471.5h1M247 473.5h1M247 475.5h1M247 477.5h1M247 480.5h1M247 481.5h1M247 482.5h1M247 484.5h1M247 485.5h1M248 467.5h1M248 468.5h1M248 472.5h1M248 473.5h1M248 475.5h1M248 479.5h1M248 484.5h1M249 464.5h1M249 465.5h1M249 466.5h1M249 469.5h1M249 470.5h1M249 471.5h1M249 473.5h1M249 474.5h1M249 476.5h1M249 480.5h1M249 482.5h1M249 483.5h1M250 467.5h1M250 468.5h1M250 469.5h1M250 470.5h1M250 471.5h1M250 475.5h1M250 480.5h1M250 482.5h1M250 484.5h1M251 466.5h1M251 469.5h1M251 470.5h1M251 471.5h1M251 473.5h1M251 474.5h1M251 477.5h1M251 479.5h1M251 482.5h1M251 484.5h1M252 465.5h1M252 466.5h1M252 467.5h1M252 474.5h1M252 478.5h1M252 479.5h1M252 480.5h1M252 481.5h1M253 464.5h1M253 470.5h1M253 471.5h1M253 477.5h1M253 478.5h1M253 479.5h1M253 480.5h1M253 481.5h1M253 482.5h1M254 468.5h1M254 471.5h1M254 472.5h1M254 474.5h1M254 476.5h1M254 478.5h1M255 468.5h1M255 473.5h1M255 474.5h1M255 477.5h1M255 479.5h1" stroke="#a0a0a2" stroke-width="1" fill="none"/>
<path d="M270 469.5h1M254 476.5h1M272 452.5h1M271 467.5h1M264 483.5h1M257 455.5h1M258 454.5h1M273 449.5h1M266 480.5h1M262 478.5h1M254 460.5h1M274 463.5h1M273 445.5h1M257 454.5h1M265 442.5h1M265 479.5h1M256 454.5h1M260 444.5h1M259 472.5h1M267 481.5h1M271 476.5h1M259 448.5h1M274 462.5h1M274 453.5h1M272 455.5h1M258 477.5h1M276 450.5h1M264 437.5h1M264 441.5h1M273 473.5h1M269 476.5h1M271 460.5h1M271 449.5h1M258 449.5h1M254 449.5h1M259 475.5h1M260 482.5h1M263 478.5h1M272 476.5h1M258 452.5h1M271 453.5h1M273 451.5h1M272 448.5h1M277 467.5h1M273 457.5h1M277 461.5h1M271 477.5h1M256 474.5h1M271 444.5h1M257 463.5h1M270 478.5h1M270 470.5h1M265 478.5h1M259 473.5h1M272 468.5h1M274 461.5h1M261 478.5h1M271 451.5h1M277 462.5h1M270 471.5h1M272 463.5h1M256 458.5h1M270 467.5h1M256 448.5h1M257 464.5h1M273 471.5h1M270 439.5h1M272 446.5h1M261 441.5h1M263 442.5h1M261 476.5h1M263 444.5h1M268 436.5h1M271 470.5h1M257 457.5h1M254 452.5h1M271 440.5h1M260 481.5h1M265 485.5h1M258 468.5h1M254 466.5h1M268 437.5h1M255 476.5h1M274 455.5h1M259 447.5h1M264 480.5h1M256 455.5h1M272 450.5h1M274 465.5h1M254 462.5h1M268 476.5h1M268 439.5h1M272 454.5h1M273 465.5h1M273 463.5h1M273 447.5h1M255 462.5h1M261 443.5h1M266 433.5h1M258 448.5h1M268 438.5h1M271 465.5h1M257 458.5h1M277 468.5h1M260 478.5h1M266 479.5h1M267 480.5h1M259 450.5h1M258 457.5h1M273 450.5h1M257 476.5h1M253 449.5h1M258 474.5h1M256 472.5h1M255 469.5h1M260 448.5h1M257 468.5h1M276 474.5h1M272 465.5h1M273 472.5h1M255 466.5h1M269 437.5h1M272 445.5h1M265 480.5h1M257 465.5h1M272 438.5h1M254 467.5h1M267 440.5h1M271 447.5h1M276 463.5h1M257 448.5h1M257 478.5h1M271 436.5h1M261 479.5h1M272 443.5h1M271 452.5h1M271 441.5h1M272 449.5h1M262 444.5h1M257 482.5h1M255 453.5h1M272 459.5h1M272 458.5h1M271 464.5h1M261 445.5h1M261 442.5h1M256 462.5h1M271 445.5h1M256 451.5h1M273 467.5h1M260 450.5h1M262 442.5h1M264 479.5h1M258 470.5h1M270 474.5h1M271 474.5h1M264 482.5h1M267 476.5h1M264 442.5h1M252 465.5h1M271 461.5h1M259 474.5h1M274 454.5h1M258 460.5h1M262 440.5h1M271 454.5h1M260 449.5h1M253 453.5h1M270 443.5h1M255 478.5h1M264 478.5h1M256 473.5h1M277 460.5h1M271 466.5h1M257 470.5h1M275 438.5h1M273 464.5h1M268 478.5h1M257 469.5h1M272 466.5h1M261 477.5h1M260 447.5h1M258 456.5h1M255 468.5h1M260 476.5h1M273 434.5h1M273 455.5h1M275 463.5h1M265 441.5h1M263 437.5h1M273 483.5h1M258 463.5h1M275 462.5h1M269 474.5h1M277 450.5h1M268 477.5h1M277 478.5h1M256 469.5h1M259 480.5h1M266 441.5h1M266 439.5h1M258 455.5h1M274 458.5h1M257 451.5h1M272 477.5h1M257 474.5h1M260 443.5h1M257 461.5h1M266 440.5h1M263 480.5h1M269 438.5h1M271 463.5h1M253 464.5h1M270 477.5h1M273 453.5h1M259 439.5h1M259 470.5h1M269 440.5h1M272 462.5h1M254 471.5h1M268 474.5h1M258 480.5h1M260 479.5h1M274 443.5h1M255 457.5h1M273 461.5h1M272 470.5h1M255 470.5h1M270 434.5h1M266 476.5h1M270 466.5h1M251 449.5h1" stroke="#ff5100" stroke-width="1" fill="none" stroke-opacity="0.8"/>
<path d="M263.7 442.7 269.2 439 272 446.4 272 463 270.2 474 265.6 479.6 260 476.8 257.3 466.6 258.2 451.9Z" fill="#ff5100" filter="url(#b)"/>
<path d="M371 440.5h1M372 427.5h1M372 432.5h1M373 430.5h1M373 433.5h1M373 436.5h1M373 438.5h1M375 430.5h1M375 435.5h1M375 439.5h1M376 429.5h1M376 430.5h1M376 434.5h1M377 431.5h1M377 432.5h1M377 434.5h1M377 439.5h1M378 424.5h1M379 430.5h1M379 434.5h1M379 440.5h1M380 430.5h1M380 434.5h1M380 435.5h1M380 440.5h1M381 426.5h1M381 427.5h1M381 429.5h1M381 436.5h1M382 436.5h1M382 441.5h1M382 442.5h1" stroke="#d2d2d2" stroke-width="1" fill="none"/>
<path d="M365 499.5h1M329 489.5h1M351 504.5h1M339 508.5h1M327 499.5h1M342 506.5h1M361 488.5h1M368 489.5h1M358 489.5h1M346 509.5h1M324 493.5h1M356 490.5h1M367 494.5h1M369 497.5h1M329 507.5h1M343 508.5h1M341 506.5h1M352 506.5h1M362 489.5h1M366 496.5h1M334 494.5h1M340 492.5h1M327 508.5h1M346 489.5h1M325 495.5h1M345 505.5h1M336 507.5h1M330 492.5h1M342 508.5h1M365 498.5h1M348 491.5h1M328 488.5h1M368 494.5h1M367 489.5h1M367 495.5h1M340 493.5h1M353 491.5h1M325 497.5h1M329 511.5h1M370 489.5h1M326 498.5h1M350 491.5h1M367 496.5h1M369 488.5h1M341 508.5h1M352 490.5h1M323 493.5h1M371 491.5h1M358 487.5h1M359 488.5h1M349 489.5h1M326 500.5h1M326 493.5h1M322 498.5h1M364 498.5h1M334 507.5h1M326 506.5h1M326 508.5h1M368 488.5h1M353 487.5h1M344 492.5h1M340 490.5h1M348 506.5h1M369 492.5h1M373 495.5h1M349 491.5h1M332 508.5h1M324 496.5h1M339 493.5h1M331 508.5h1M364 488.5h1M327 496.5h1M343 506.5h1M333 492.5h1M368 492.5h1M370 491.5h1M329 492.5h1M356 489.5h1M327 492.5h1M332 493.5h1M349 492.5h1M346 492.5h1M345 492.5h1M353 504.5h1M363 487.5h1M327 504.5h1M355 487.5h1M357 504.5h1M336 493.5h1M358 488.5h1M341 493.5h1M345 506.5h1M331 494.5h1M330 493.5h1M336 494.5h1M372 487.5h1M325 494.5h1M367 498.5h1M356 487.5h1M350 504.5h1M337 506.5h1M347 506.5h1M361 501.5h1M338 493.5h1M355 503.5h1M366 489.5h1M350 507.5h1M326 499.5h1M371 490.5h1M358 505.5h1M338 508.5h1M339 506.5h1M333 508.5h1M343 491.5h1M369 500.5h1M357 502.5h1M370 493.5h1M348 508.5h1M346 505.5h1M326 505.5h1M359 502.5h1M329 493.5h1M343 492.5h1M353 503.5h1M356 506.5h1" stroke="#d2d2d2" stroke-width="1" fill="none" stroke-opacity="0.8"/>
<path d="M326.8 494.3 343.4 492.5 361.9 488.5 369.3 489 368 496.2 360 502.5 345 507 326.8 507.5Z" fill="#d2d2d2" filter="url(#b)"/>
<path d="M327 483.5h1M327 484.5h1M328 482.5h1M328 486.5h1M329 484.5h1M330 483.5h1M330 489.5h1M331 480.5h1M331 483.5h1M331 488.5h1M332 475.5h1M332 479.5h1M333 475.5h1M333 476.5h1M333 482.5h1M334 471.5h1M334 472.5h1M334 474.5h1M334 479.5h1M334 480.5h1M334 482.5h1M335 473.5h1M335 476.5h1M335 477.5h1M335 478.5h1M335 481.5h1M336 477.5h1M337 472.5h1M337 474.5h1M337 476.5h1M337 480.5h1M337 481.5h1M337 484.5h1M338 467.5h1M338 469.5h1M338 470.5h1M338 472.5h1M338 473.5h1M338 484.5h1M339 476.5h1M339 477.5h1M339 482.5h1M340 460.5h1M340 473.5h1M340 477.5h1M340 486.5h1M341 466.5h1M341 477.5h1M341 480.5h1M341 481.5h1M341 488.5h1M342 475.5h1M343 463.5h1M343 471.5h1M343 476.5h1M343 481.5h1M343 483.5h1M343 484.5h1M343 489.5h1M344 459.5h1M344 462.5h1M344 465.5h1M344 469.5h1M344 470.5h1M344 481.5h1M344 482.5h1M344 484.5h1M344 488.5h1M345 468.5h1M345 470.5h1M345 479.5h1M345 489.5h1M346 464.5h1M346 481.5h1M346 487.5h1M347 458.5h1M347 459.5h1M347 465.5h1M347 468.5h1M347 475.5h1M347 477.5h1M347 482.5h1M347 489.5h1M348 456.5h1M348 465.5h1M348 470.5h1M348 478.5h1M348 479.5h1M348 487.5h1M349 462.5h1M349 466.5h1M349 477.5h1M349 483.5h1M350 453.5h1M350 456.5h1M350 460.5h1M350 461.5h1M350 462.5h1M350 463.5h1M350 466.5h1M350 467.5h1M350 470.5h1M350 473.5h1M350 482.5h1M350 486.5h1M351 457.5h1M351 466.5h1M351 483.5h1M352 473.5h1M352 474.5h1M352 482.5h1M352 486.5h1M352 488.5h1M352 489.5h1M353 457.5h1M353 464.5h1M353 467.5h1M353 469.5h1M353 471.5h1M353 472.5h1M353 477.5h1M353 480.5h1M353 481.5h1M353 484.5h1M354 454.5h1M354 459.5h1M354 461.5h1M354 466.5h1M354 468.5h1M354 472.5h1M354 473.5h1M354 481.5h1M354 487.5h1M355 460.5h1M355 463.5h1M355 478.5h1M355 481.5h1M355 484.5h1M355 486.5h1M355 488.5h1M356 460.5h1M356 462.5h1M356 468.5h1M356 478.5h1M356 481.5h1M356 483.5h1M356 484.5h1M356 488.5h1M357 451.5h1M357 456.5h1M357 457.5h1M357 458.5h1M357 460.5h1M357 472.5h1M357 477.5h1M358 475.5h1M358 482.5h1M358 485.5h1M359 464.5h1M359 467.5h1M359 470.5h1M359 481.5h1M359 486.5h1M360 458.5h1M360 460.5h1M360 463.5h1M360 466.5h1M360 467.5h1M360 471.5h1M360 480.5h1M360 482.5h1M360 486.5h1M361 458.5h1M361 459.5h1M361 465.5h1M361 475.5h1M361 486.5h1M362 463.5h1M362 466.5h1M362 479.5h1M362 480.5h1M362 481.5h1M362 483.5h1M363 458.5h1M363 464.5h1M363 465.5h1M363 468.5h1M363 470.5h1M363 476.5h1M363 480.5h1M363 485.5h1M364 464.5h1M364 471.5h1M364 473.5h1M364 478.5h1M364 483.5h1M364 488.5h1M365 462.5h1M365 464.5h1M365 474.5h1M365 476.5h1M365 478.5h1M366 463.5h1M366 471.5h1M366 476.5h1M366 479.5h1M367 462.5h1M367 471.5h1M367 479.5h1M368 469.5h1M368 485.5h1M368 486.5h1M369 488.5h1" stroke="#a0a0a2" stroke-width="1" fill="none"/>
<path d="M345 474 352 466 362 463 368 468 369 480 363 488 350 488 345 482Z" fill="#a0a0a2" filter="url(#b2)" fill-opacity="0.5"/>
<path d="M344 473.5h1M344 477.5h1M345 476.5h1M345 477.5h1M345 482.5h1M345 483.5h1M346 471.5h1M346 472.5h1M346 476.5h1M346 480.5h1M346 481.5h1M346 482.5h1M346 483.5h1M347 476.5h1M347 478.5h1M347 479.5h1M347 480.5h1M347 482.5h1M347 486.5h1M348 472.5h1M348 473.5h1M348 474.5h1M348 475.5h1M348 476.5h1M348 477.5h1M348 478.5h1M348 479.5h1M348 480.5h1M348 483.5h1M348 484.5h1M349 467.5h1M349 469.5h1M349 470.5h1M349 476.5h1M349 477.5h1M349 479.5h1M349 480.5h1M349 481.5h1M349 482.5h1M349 484.5h1M349 485.5h1M349 488.5h1M350 468.5h1M350 472.5h1M350 475.5h1M350 478.5h1M350 479.5h1M350 480.5h1M350 483.5h1M350 486.5h1M351 466.5h1M351 469.5h1M351 470.5h1M351 471.5h1M351 473.5h1M351 474.5h1M351 475.5h1M351 476.5h1M351 478.5h1M351 481.5h1M351 486.5h1M351 487.5h1M352 466.5h1M352 469.5h1M352 473.5h1M352 474.5h1M352 475.5h1M352 476.5h1M352 478.5h1M352 480.5h1M352 481.5h1M352 484.5h1M352 488.5h1M353 465.5h1M353 466.5h1M353 468.5h1M353 469.5h1M353 471.5h1M353 474.5h1M353 475.5h1M353 476.5h1M353 477.5h1M353 478.5h1M353 479.5h1M353 481.5h1M353 485.5h1M354 466.5h1M354 467.5h1M354 468.5h1M354 472.5h1M354 475.5h1M354 476.5h1M354 479.5h1M354 483.5h1M354 484.5h1M355 470.5h1M355 471.5h1M355 472.5h1M355 473.5h1M355 474.5h1M355 477.5h1M355 478.5h1M355 479.5h1M355 483.5h1M356 463.5h1M356 464.5h1M356 465.5h1M356 469.5h1M356 470.5h1M356 474.5h1M356 475.5h1M356 476.5h1M356 477.5h1M356 479.5h1M356 480.5h1M356 481.5h1M356 483.5h1M356 484.5h1M356 486.5h1M357 465.5h1M357 468.5h1M357 469.5h1M357 472.5h1M357 473.5h1M357 474.5h1M357 476.5h1M357 479.5h1M357 480.5h1M357 482.5h1M357 484.5h1M357 486.5h1M358 467.5h1M358 468.5h1M358 470.5h1M358 471.5h1M358 473.5h1M358 474.5h1M358 477.5h1M358 478.5h1M358 479.5h1M358 481.5h1M358 482.5h1M358 484.5h1M358 485.5h1M358 486.5h1M358 487.5h1M359 465.5h1M359 470.5h1M359 471.5h1M359 472.5h1M359 474.5h1M359 475.5h1M359 479.5h1M359 480.5h1M359 482.5h1M359 486.5h1M359 487.5h1M360 465.5h1M360 466.5h1M360 468.5h1M360 469.5h1M360 470.5h1M360 474.5h1M360 475.5h1M360 476.5h1M360 477.5h1M360 478.5h1M360 479.5h1M360 480.5h1M360 481.5h1M360 482.5h1M360 484.5h1M360 485.5h1M360 487.5h1M361 464.5h1M361 470.5h1M361 472.5h1M361 473.5h1M361 478.5h1M361 479.5h1M361 480.5h1M361 481.5h1M361 482.5h1M361 483.5h1M361 485.5h1M361 486.5h1M362 464.5h1M362 466.5h1M362 468.5h1M362 469.5h1M362 470.5h1M362 472.5h1M362 473.5h1M362 477.5h1M362 479.5h1M362 480.5h1M362 481.5h1M362 482.5h1M362 483.5h1M362 484.5h1M362 485.5h1M362 488.5h1M363 465.5h1M363 466.5h1M363 467.5h1M363 468.5h1M363 469.5h1M363 471.5h1M363 475.5h1M363 476.5h1M363 477.5h1M363 478.5h1M363 480.5h1M363 481.5h1M363 483.5h1M363 486.5h1M364 465.5h1M364 468.5h1M364 469.5h1M364 471.5h1M364 472.5h1M364 474.5h1M364 476.5h1M364 477.5h1M364 479.5h1M364 480.5h1M364 482.5h1M364 485.5h1M365 469.5h1M365 470.5h1M365 471.5h1M365 472.5h1M365 473.5h1M365 474.5h1M365 475.5h1M365 477.5h1M365 480.5h1M365 481.5h1M365 482.5h1M366 467.5h1M366 470.5h1M366 471.5h1M366 474.5h1M366 475.5h1M366 476.5h1M366 477.5h1M366 478.5h1M366 480.5h1M366 482.5h1M366 483.5h1M367 468.5h1M367 469.5h1M367 471.5h1M367 472.5h1M367 474.5h1M367 475.5h1M367 476.5h1M367 479.5h1M368 470.5h1M368 472.5h1M368 473.5h1M368 475.5h1M369 476.5h1" stroke="#a0a0a2" stroke-width="1" fill="none"/>
<path d="M379 467.5h1M380 485.5h1M384 444.5h1M402 469.5h1M400 452.5h1M380 454.5h1M383 475.5h1M381 480.5h1M375 459.5h1M380 441.5h1M388 465.5h1M395 472.5h1M385 468.5h1M396 452.5h1M392 439.5h1M385 465.5h1M382 474.5h1M385 482.5h1M395 446.5h1M389 477.5h1M392 468.5h1M391 447.5h1M393 447.5h1M396 481.5h1M371 466.5h1M389 481.5h1M375 468.5h1M374 478.5h1M386 460.5h1M384 438.5h1M400 445.5h1M389 482.5h1M388 438.5h1M375 458.5h1M377 472.5h1M383 461.5h1M372 463.5h1M379 451.5h1M394 451.5h1M386 445.5h1M392 488.5h1M383 487.5h1M396 468.5h1M393 459.5h1M382 431.5h1M390 472.5h1M393 440.5h1M393 471.5h1M378 473.5h1M391 482.5h1M388 448.5h1M397 460.5h1M376 454.5h1M395 471.5h1M378 475.5h1M392 482.5h1M390 448.5h1M387 447.5h1M396 448.5h1M388 468.5h1M393 477.5h1M393 449.5h1M391 464.5h1M398 451.5h1M390 451.5h1M386 441.5h1M388 451.5h1M384 480.5h1M381 454.5h1M385 454.5h1M390 439.5h1M378 451.5h1M396 456.5h1M394 449.5h1M387 453.5h1M387 467.5h1M391 477.5h1M387 479.5h1M390 440.5h1M385 450.5h1M397 463.5h1M388 457.5h1M383 477.5h1M379 446.5h1M390 464.5h1M382 452.5h1M389 483.5h1M391 485.5h1M387 437.5h1M375 448.5h1M385 478.5h1M373 469.5h1M394 483.5h1M386 461.5h1M389 490.5h1M396 441.5h1M396 472.5h1M380 451.5h1M373 484.5h1M389 474.5h1M390 452.5h1M401 441.5h1M379 479.5h1M388 449.5h1M386 459.5h1M376 455.5h1M383 476.5h1M381 463.5h1M388 466.5h1M391 434.5h1M378 449.5h1M392 455.5h1M377 451.5h1M393 457.5h1M385 477.5h1M378 462.5h1M389 442.5h1M376 473.5h1M380 448.5h1M386 479.5h1M394 461.5h1M377 475.5h1M384 479.5h1M385 447.5h1M378 460.5h1M393 468.5h1M394 452.5h1M400 458.5h1M382 478.5h1M375 465.5h1M378 446.5h1M378 443.5h1M389 468.5h1M386 467.5h1M368 468.5h1M388 447.5h1M388 437.5h1M376 468.5h1M386 476.5h1M403 479.5h1M380 479.5h1M383 451.5h1M392 443.5h1M388 453.5h1M391 445.5h1M374 491.5h1M384 450.5h1M382 446.5h1M383 481.5h1M377 459.5h1M385 460.5h1M385 456.5h1M376 476.5h1M394 459.5h1M387 449.5h1M385 434.5h1M393 473.5h1M376 448.5h1M394 448.5h1M380 468.5h1M378 447.5h1M390 476.5h1M387 433.5h1M380 470.5h1M395 451.5h1M396 459.5h1M384 455.5h1M385 481.5h1M383 443.5h1M394 478.5h1M384 469.5h1M381 456.5h1M380 445.5h1M389 466.5h1M384 470.5h1M397 486.5h1M388 469.5h1M376 452.5h1M391 467.5h1M369 444.5h1M385 467.5h1M378 442.5h1M375 461.5h1M401 463.5h1M393 464.5h1M396 471.5h1M386 431.5h1M381 469.5h1M377 464.5h1M388 454.5h1M394 443.5h1M383 463.5h1M370 443.5h1M391 473.5h1M388 464.5h1M378 453.5h1M380 475.5h1M379 459.5h1M378 467.5h1M373 462.5h1M392 448.5h1M381 484.5h1M374 432.5h1M382 486.5h1M389 479.5h1M398 465.5h1M405 449.5h1M379 454.5h1M392 474.5h1M394 468.5h1M387 462.5h1M376 462.5h1M386 448.5h1M382 440.5h1M379 463.5h1M398 461.5h1M388 490.5h1M387 466.5h1M397 470.5h1M377 482.5h1M379 447.5h1M394 464.5h1M397 469.5h1M385 459.5h1M379 474.5h1M395 466.5h1M390 485.5h1M380 464.5h1M379 481.5h1M388 443.5h1M384 464.5h1M382 458.5h1M366 452.5h1M379 466.5h1M375 466.5h1M380 450.5h1M374 472.5h1M376 457.5h1M386 446.5h1M388 460.5h1M394 477.5h1M383 484.5h1M388 470.5h1M374 469.5h1M389 472.5h1M387 439.5h1M397 457.5h1M384 456.5h1M381 441.5h1M388 479.5h1M397 455.5h1M395 441.5h1M384 436.5h1M384 468.5h1M384 440.5h1M392 480.5h1M387 480.5h1M400 444.5h1M399 467.5h1M391 479.5h1M390 475.5h1M391 444.5h1M391 460.5h1M387 471.5h1M386 447.5h1M395 474.5h1M387 474.5h1M373 474.5h1M380 482.5h1M381 466.5h1M374 473.5h1" stroke="#ff5100" stroke-width="1" fill="none" stroke-opacity="0.75"/>
<path d="M395 457.5h1M373 468.5h1M394 469.5h1M395 454.5h1M376 469.5h1M382 446.5h1M380 478.5h1M394 476.5h1M394 450.5h1M374 470.5h1M376 452.5h1M394 451.5h1M374 462.5h1M376 474.5h1M386 481.5h1M372 459.5h1M381 479.5h1M374 458.5h1M393 442.5h1M391 442.5h1M397 453.5h1M393 470.5h1M391 483.5h1M387 445.5h1M388 483.5h1M393 445.5h1M376 455.5h1M372 462.5h1M391 478.5h1M399 451.5h1M395 473.5h1M390 445.5h1M397 452.5h1M384 443.5h1M377 464.5h1M395 445.5h1M378 475.5h1M393 448.5h1M398 468.5h1M374 456.5h1M379 446.5h1M389 442.5h1M397 483.5h1M383 478.5h1M376 454.5h1M394 468.5h1M375 462.5h1M391 477.5h1M393 473.5h1M396 449.5h1M396 452.5h1M374 474.5h1M376 463.5h1M376 471.5h1M376 472.5h1M397 451.5h1M395 468.5h1M380 447.5h1M375 453.5h1M395 465.5h1M389 443.5h1M377 469.5h1M374 448.5h1M398 465.5h1M374 450.5h1M394 471.5h1M388 479.5h1M373 466.5h1M398 462.5h1M393 474.5h1M395 452.5h1M387 446.5h1M394 447.5h1M375 466.5h1M376 480.5h1M381 480.5h1M395 451.5h1M383 445.5h1M379 450.5h1M379 475.5h1M395 461.5h1M376 468.5h1M396 457.5h1M389 480.5h1M376 462.5h1M390 481.5h1M377 446.5h1M398 464.5h1M389 479.5h1M386 479.5h1M386 480.5h1M372 463.5h1M373 455.5h1M395 459.5h1M394 474.5h1M391 485.5h1M382 478.5h1M377 474.5h1M382 480.5h1M376 460.5h1M394 449.5h1M380 477.5h1M398 459.5h1M387 483.5h1M390 479.5h1M397 460.5h1M391 444.5h1M396 450.5h1M385 480.5h1M375 448.5h1M377 480.5h1M396 468.5h1M377 447.5h1M379 447.5h1M376 458.5h1M395 456.5h1M392 476.5h1M378 444.5h1M395 448.5h1M392 478.5h1M394 470.5h1M396 463.5h1M389 477.5h1M398 461.5h1M377 457.5h1M391 476.5h1M396 469.5h1M383 479.5h1M396 475.5h1M384 479.5h1M384 480.5h1M382 479.5h1M376 470.5h1M377 475.5h1M381 446.5h1M390 442.5h1M375 455.5h1M394 448.5h1M375 475.5h1M397 457.5h1M386 445.5h1M377 478.5h1M377 452.5h1M390 444.5h1M381 445.5h1M385 444.5h1M397 439.5h1M396 444.5h1M390 478.5h1M398 447.5h1M376 459.5h1M389 478.5h1M384 444.5h1M396 451.5h1M384 483.5h1M394 473.5h1M396 460.5h1M376 449.5h1M392 477.5h1M374 467.5h1M377 471.5h1M377 468.5h1M391 480.5h1M377 454.5h1M376 465.5h1M392 445.5h1M382 447.5h1M397 447.5h1M377 466.5h1M376 456.5h1M377 451.5h1M378 448.5h1M394 480.5h1M377 462.5h1M381 447.5h1M395 466.5h1M392 442.5h1M398 446.5h1M397 442.5h1M391 479.5h1M374 477.5h1M377 476.5h1M373 472.5h1M395 476.5h1M380 481.5h1M377 472.5h1M395 464.5h1M393 447.5h1M390 483.5h1M377 465.5h1M395 441.5h1M377 463.5h1M388 442.5h1M395 467.5h1M379 480.5h1M390 482.5h1M393 444.5h1M378 446.5h1M380 476.5h1M378 449.5h1M386 442.5h1M384 445.5h1M396 472.5h1M395 470.5h1M373 451.5h1M394 472.5h1M401 452.5h1M393 477.5h1M377 456.5h1M386 441.5h1M397 448.5h1M373 476.5h1M396 455.5h1M388 478.5h1M375 476.5h1M374 466.5h1M400 483.5h1M381 440.5h1M387 484.5h1M398 469.5h1M378 451.5h1M371 465.5h1M395 446.5h1M400 452.5h1M396 453.5h1M396 446.5h1M375 440.5h1M385 443.5h1M376 466.5h1M373 464.5h1M378 476.5h1M373 452.5h1M379 477.5h1M399 464.5h1M386 484.5h1M377 458.5h1M379 482.5h1M375 468.5h1M394 467.5h1M393 476.5h1M388 443.5h1M373 454.5h1M379 476.5h1M376 453.5h1M386 444.5h1M385 479.5h1M375 474.5h1M395 455.5h1M378 450.5h1M396 459.5h1M377 455.5h1M395 453.5h1M378 452.5h1M379 449.5h1M397 468.5h1M398 454.5h1" stroke="#ff5100" stroke-width="1" fill="none" stroke-opacity="0.8"/>
<path d="M384 446.4 393.2 444.5 396 451.9 396 466.6 393.2 475.9 387.7 480.5 380.3 478.6 376.6 470.3 376.6 455.6 379.4 449.1Z" fill="#ff5100" filter="url(#b)"/>
<path d="M518.8 426 523.4 426 523.4 439 518.8 439Z" fill="#d2d2d2" filter="url(#b2)" fill-opacity="0.5"/>
<path d="M517 439.5h1M519 429.5h1M519 430.5h1M519 431.5h1M519 438.5h1M520 427.5h1M520 430.5h1M520 432.5h1M520 434.5h1M520 435.5h1M521 430.5h1M521 432.5h1M521 437.5h1M521 438.5h1M522 426.5h1M522 427.5h1M522 431.5h1M522 432.5h1M522 437.5h1M523 428.5h1M523 434.5h1" stroke="#d2d2d2" stroke-width="1" fill="none"/>
<path d="M497 500.5h1M500 488.5h1M501 489.5h1M501 492.5h1M502 489.5h1M502 490.5h1M502 492.5h1M502 499.5h1M503 499.5h1M505 490.5h1M505 491.5h1M505 506.5h1M506 496.5h1M506 498.5h1M506 500.5h1M507 492.5h1M507 500.5h1M508 484.5h1M509 496.5h1M509 498.5h1M509 501.5h1M510 501.5h1M511 500.5h1M512 485.5h1M512 487.5h1M512 492.5h1M512 495.5h1M514 484.5h1M514 490.5h1M514 493.5h1M514 494.5h1M514 505.5h1M515 489.5h1M515 493.5h1M515 496.5h1M515 501.5h1M515 505.5h1M516 480.5h1M516 495.5h1M517 492.5h1M517 493.5h1M517 495.5h1M517 499.5h1M518 486.5h1M518 491.5h1M518 492.5h1M518 502.5h1M519 486.5h1M519 488.5h1M519 497.5h1M519 499.5h1M519 501.5h1M520 499.5h1M521 488.5h1M521 495.5h1M521 496.5h1M522 481.5h1M522 493.5h1M522 504.5h1M523 499.5h1M524 485.5h1M524 491.5h1M524 492.5h1M525 492.5h1M525 494.5h1M525 506.5h1M526 492.5h1M526 494.5h1M527 486.5h1M527 488.5h1M527 489.5h1M527 492.5h1M528 480.5h1" stroke="#d2d2d2" stroke-width="1" fill="none"/>
<path d="M507 498.5h1M526 499.5h1M530 503.5h1M527 495.5h1M519 509.5h1M509 499.5h1M524 498.5h1M507 492.5h1M514 486.5h1M523 502.5h1M528 498.5h1M526 490.5h1M509 496.5h1M508 491.5h1M510 500.5h1M523 503.5h1M521 490.5h1M514 510.5h1M517 505.5h1M509 500.5h1M509 501.5h1M509 488.5h1M516 508.5h1M512 505.5h1M518 509.5h1M507 487.5h1M528 494.5h1M525 499.5h1M516 506.5h1M515 506.5h1M519 485.5h1M520 506.5h1M523 491.5h1M521 484.5h1M522 504.5h1M525 497.5h1M526 492.5h1M528 500.5h1M525 501.5h1M509 498.5h1M508 493.5h1M526 494.5h1M509 503.5h1M510 488.5h1M526 502.5h1M525 509.5h1M522 509.5h1M525 503.5h1M525 494.5h1M509 502.5h1M524 502.5h1M507 493.5h1M510 490.5h1M528 496.5h1M507 494.5h1M526 497.5h1M519 488.5h1M516 507.5h1M515 488.5h1M508 499.5h1M509 489.5h1M509 491.5h1M528 495.5h1M511 487.5h1M518 488.5h1M515 508.5h1M511 508.5h1M528 501.5h1M527 496.5h1M520 488.5h1M508 501.5h1M512 504.5h1M507 491.5h1M508 495.5h1M525 496.5h1M520 505.5h1M524 493.5h1M518 486.5h1M516 488.5h1M510 501.5h1M524 492.5h1M514 506.5h1M511 502.5h1M519 505.5h1M505 494.5h1M522 488.5h1M519 486.5h1M526 496.5h1M504 489.5h1M517 488.5h1M516 509.5h1M529 491.5h1M508 492.5h1M510 489.5h1" stroke="#d2d2d2" stroke-width="1" fill="none" stroke-opacity="0.8"/>
<path d="M510.5 488.8 519.7 487.9 525.2 492.5 526.2 499.8 521.6 506.3 514.2 506.3 509.6 501.7 508.6 494.3Z" fill="#d2d2d2" filter="url(#b)"/>
<path d="M526 483.5h1M527 481.5h1M523 485.5h1M516 469.5h1M519 466.5h1M521 489.5h1M526 479.5h1M523 471.5h1M515 479.5h1M526 471.5h1M519 468.5h1M523 469.5h1M524 474.5h1M515 486.5h1M527 475.5h1M525 477.5h1M526 474.5h1M520 465.5h1M522 491.5h1M516 473.5h1M522 490.5h1M512 475.5h1M513 481.5h1M523 487.5h1M514 485.5h1M522 487.5h1M524 479.5h1M528 485.5h1M511 483.5h1M515 484.5h1M525 475.5h1M511 480.5h1M527 472.5h1M521 467.5h1M520 467.5h1M517 470.5h1M514 478.5h1M519 464.5h1M526 473.5h1M525 474.5h1M512 472.5h1M517 465.5h1M518 467.5h1M515 488.5h1M524 481.5h1M528 469.5h1M515 480.5h1M524 467.5h1M519 489.5h1M523 468.5h1M522 488.5h1M514 484.5h1M513 476.5h1M516 472.5h1M526 475.5h1M510 479.5h1M521 487.5h1M523 486.5h1M525 487.5h1M512 479.5h1M524 472.5h1M514 476.5h1M520 489.5h1M525 479.5h1M525 467.5h1M518 468.5h1M525 485.5h1M517 462.5h1M520 488.5h1M514 488.5h1M514 481.5h1M525 478.5h1M515 468.5h1M515 475.5h1M517 487.5h1M514 475.5h1M526 486.5h1M513 470.5h1M515 472.5h1M513 468.5h1M513 463.5h1M515 482.5h1M514 479.5h1M514 468.5h1M513 479.5h1M512 484.5h1M515 474.5h1M510 483.5h1M524 468.5h1M524 469.5h1M514 483.5h1M525 472.5h1M521 490.5h1M514 487.5h1" stroke="#a0a0a2" stroke-width="1" fill="none" stroke-opacity="0.8"/>
<path d="M517.9 466.6 523.4 468.5 526.2 475.9 524.3 485.1 519.7 488.8 515.1 487.9 514.2 479.6Z" fill="#a0a0a2" filter="url(#b)"/>
<path d="M520 454.5h1M523 441.5h1M521 451.5h1M503 442.5h1M508 474.5h1M520 466.5h1M513 437.5h1M508 475.5h1M521 445.5h1M519 457.5h1M520 463.5h1M507 472.5h1M519 452.5h1M509 482.5h1M508 460.5h1M510 451.5h1M509 456.5h1M515 439.5h1M507 475.5h1M516 438.5h1M507 464.5h1M520 462.5h1M506 477.5h1M520 460.5h1M523 435.5h1M513 442.5h1M507 477.5h1M520 444.5h1M516 474.5h1M515 442.5h1M507 465.5h1M519 469.5h1M508 477.5h1M516 441.5h1M506 453.5h1M521 441.5h1M518 470.5h1M512 447.5h1M507 467.5h1M511 448.5h1M513 443.5h1M522 444.5h1M502 474.5h1M513 477.5h1M520 465.5h1M518 466.5h1M524 436.5h1M516 475.5h1M517 473.5h1M522 457.5h1M519 462.5h1M520 446.5h1M507 468.5h1M513 446.5h1M508 458.5h1M514 477.5h1M513 445.5h1M524 447.5h1M507 469.5h1M509 479.5h1M524 437.5h1M511 444.5h1M517 472.5h1M522 441.5h1M511 482.5h1M517 435.5h1M520 456.5h1M519 466.5h1M504 470.5h1M525 455.5h1M516 479.5h1M519 450.5h1M517 469.5h1M519 443.5h1M512 443.5h1M516 440.5h1M523 449.5h1M524 454.5h1M518 468.5h1M521 465.5h1M519 458.5h1M522 448.5h1M504 477.5h1M507 459.5h1M507 470.5h1M509 478.5h1M515 440.5h1M520 458.5h1M510 479.5h1M509 457.5h1M509 442.5h1M511 480.5h1M515 478.5h1M517 475.5h1M513 436.5h1M519 439.5h1M505 481.5h1M518 440.5h1M508 452.5h1M512 442.5h1M519 454.5h1M520 439.5h1M521 453.5h1M519 448.5h1M510 452.5h1M513 481.5h1M518 467.5h1M505 461.5h1M507 478.5h1M518 462.5h1M511 479.5h1M520 449.5h1M520 467.5h1M518 464.5h1M520 447.5h1M522 445.5h1M509 455.5h1M524 462.5h1M507 466.5h1M506 469.5h1M520 472.5h1M510 447.5h1M502 476.5h1M508 472.5h1M521 439.5h1M524 439.5h1M509 477.5h1M519 472.5h1M523 453.5h1M506 461.5h1M511 442.5h1M511 447.5h1M519 464.5h1M509 458.5h1M507 456.5h1M512 446.5h1M520 475.5h1M512 479.5h1M522 473.5h1M506 463.5h1M520 451.5h1M514 479.5h1M516 473.5h1M508 480.5h1M520 461.5h1M519 455.5h1M515 477.5h1M519 440.5h1M514 480.5h1M520 442.5h1M521 443.5h1M519 465.5h1M524 452.5h1M505 472.5h1M505 459.5h1M521 456.5h1M505 453.5h1M520 443.5h1M519 481.5h1M506 476.5h1M506 457.5h1M523 437.5h1M504 467.5h1M514 439.5h1M507 473.5h1M516 481.5h1M521 463.5h1M506 472.5h1M524 475.5h1M503 471.5h1M504 469.5h1M519 468.5h1M508 449.5h1M519 463.5h1M506 464.5h1M521 442.5h1M520 440.5h1M525 452.5h1M518 472.5h1M506 475.5h1M517 438.5h1M510 453.5h1M515 476.5h1M511 449.5h1" stroke="#ff5100" stroke-width="1" fill="none" stroke-opacity="0.8"/>
<path d="M516 440.8 520.6 439 520.6 450 519.7 463 517 474 512.3 480.5 507.7 477.7 506.8 466.6 509.6 451.9 513.3 444.5Z" fill="#ff5100" filter="url(#b)"/>

<path d="M82.5 6V102.5H175" class="ax"/>
<path d="M82.5 102.5h-2M82.5 99.3h-1.2M82.5 96.1h-1.2M82.5 92.8h-1.2M82.5 89.6h-1.2M82.5 86.4h-2M82.5 83.2h-1.2M82.5 80h-1.2M82.5 76.8h-1.2M82.5 73.5h-1.2M82.5 70.3h-2M82.5 67.1h-1.2M82.5 63.9h-1.2M82.5 60.7h-1.2M82.5 57.5h-1.2M82.5 54.2h-2M82.5 51h-1.2M82.5 47.8h-1.2M82.5 44.6h-1.2M82.5 41.4h-1.2M82.5 38.2h-2M82.5 35h-1.2M82.5 31.7h-1.2M82.5 28.5h-1.2M82.5 25.3h-1.2M82.5 22.1h-2M82.5 18.9h-1.2M82.5 15.7h-1.2M82.5 12.4h-1.2M82.5 9.2h-1.2M82.5 6h-2M82.5 102.5v2M85.8 102.5v1.2M89.1 102.5v1.2M92.4 102.5v1.2M95.7 102.5v1.2M99 102.5v2M102.3 102.5v1.2M105.6 102.5v1.2M108.9 102.5v1.2M112.2 102.5v1.2M115.5 102.5v2M118.8 102.5v1.2M122.1 102.5v1.2M125.4 102.5v1.2M128.8 102.5v1.2M132.1 102.5v2M135.4 102.5v1.2M138.7 102.5v1.2M142 102.5v1.2M145.3 102.5v1.2M148.6 102.5v2M151.9 102.5v1.2M155.2 102.5v1.2M158.5 102.5v1.2M161.8 102.5v1.2M165.1 102.5v2M168.4 102.5v1.2M171.7 102.5v1.2M175 102.5v1.2" class="tk"/>
<text transform="translate(77.9 18.1) rotate(-90)" font-size="4.60" textLength="16.1" lengthAdjust="spacingAndGlyphs" class="s" stroke-width="0.35">250000</text>
<text transform="translate(77.9 42.6) rotate(-90)" font-size="4.60" textLength="16.1" lengthAdjust="spacingAndGlyphs" class="s" stroke-width="0.35">100000</text>
<text transform="translate(77.9 64.5) rotate(-90)" font-size="4.60" textLength="13.1" lengthAdjust="spacingAndGlyphs" class="s" stroke-width="0.35">50000</text>
<text x="74.8" y="103.5" font-size="4.60" textLength="2.8" lengthAdjust="spacingAndGlyphs" class="s" stroke-width="0.35">0</text>
<text x="81.6" y="110.2" font-size="4.60" textLength="2.8" lengthAdjust="spacingAndGlyphs" class="s" stroke-width="0.35">0</text>
<text x="94.2" y="110.2" font-size="4.60" textLength="13.1" lengthAdjust="spacingAndGlyphs" class="s" stroke-width="0.35">50000</text>
<text x="111.6" y="110.2" font-size="4.60" textLength="16.1" lengthAdjust="spacingAndGlyphs" class="s" stroke-width="0.35">100000</text>
<text x="147.9" y="110.2" font-size="4.60" textLength="16.1" lengthAdjust="spacingAndGlyphs" class="s" stroke-width="0.35">200000</text>
<text x="83.6" y="117.9" font-size="6.31" textLength="59.7" lengthAdjust="spacingAndGlyphs" class="t" stroke-width="1.75">FSC-A LINEAR</text>
<text transform="translate(70.1 102.1) rotate(-90)" font-size="6.79" textLength="85.3" lengthAdjust="spacingAndGlyphs" class="t" stroke-width="1.75">SSC-A Exp-SSC Low</text>
<path d="M201.5 7V103.5H297.8" class="ax"/>
<path d="M201.5 103.5h-2M201.5 100.3h-1.2M201.5 97.1h-1.2M201.5 93.8h-1.2M201.5 90.6h-1.2M201.5 87.4h-2M201.5 84.2h-1.2M201.5 81h-1.2M201.5 77.8h-1.2M201.5 74.5h-1.2M201.5 71.3h-2M201.5 68.1h-1.2M201.5 64.9h-1.2M201.5 61.7h-1.2M201.5 58.5h-1.2M201.5 55.2h-2M201.5 52h-1.2M201.5 48.8h-1.2M201.5 45.6h-1.2M201.5 42.4h-1.2M201.5 39.2h-2M201.5 36h-1.2M201.5 32.7h-1.2M201.5 29.5h-1.2M201.5 26.3h-1.2M201.5 23.1h-2M201.5 19.9h-1.2M201.5 16.7h-1.2M201.5 13.4h-1.2M201.5 10.2h-1.2M201.5 7h-2M201.5 103.5v2M204.7 103.5v1.2M207.9 103.5v1.2M211.1 103.5v1.2M214.3 103.5v1.2M217.6 103.5v2M220.8 103.5v1.2M224 103.5v1.2M227.2 103.5v1.2M230.4 103.5v1.2M233.6 103.5v2M236.8 103.5v1.2M240 103.5v1.2M243.2 103.5v1.2M246.4 103.5v1.2M249.7 103.5v2M252.9 103.5v1.2M256.1 103.5v1.2M259.3 103.5v1.2M262.5 103.5v1.2M265.7 103.5v2M268.9 103.5v1.2M272.1 103.5v1.2M275.3 103.5v1.2M278.5 103.5v1.2M281.8 103.5v2M285 103.5v1.2M288.2 103.5v1.2M291.4 103.5v1.2M294.6 103.5v1.2M297.8 103.5v2" class="tk"/>
<text transform="translate(197.1 18.6) rotate(-90)" font-size="4.60" textLength="16.1" lengthAdjust="spacingAndGlyphs" class="s" stroke-width="0.35">250000</text>
<text transform="translate(197.1 43.1) rotate(-90)" font-size="4.60" textLength="16.1" lengthAdjust="spacingAndGlyphs" class="s" stroke-width="0.35">100000</text>
<text transform="translate(197.1 65) rotate(-90)" font-size="4.60" textLength="13.1" lengthAdjust="spacingAndGlyphs" class="s" stroke-width="0.35">50000</text>
<text x="194" y="104.2" font-size="4.60" textLength="2.8" lengthAdjust="spacingAndGlyphs" class="s" stroke-width="0.35">0</text>
<text x="218.6" y="110" font-size="4.60" textLength="2.8" lengthAdjust="spacingAndGlyphs" class="s" stroke-width="0.35">0</text>
<text x="246.7" y="110" font-size="4.60" textLength="7.7" lengthAdjust="spacingAndGlyphs" class="s" stroke-width="0.35">1E3</text>
<text x="266.2" y="110" font-size="4.60" textLength="7.7" lengthAdjust="spacingAndGlyphs" class="s" stroke-width="0.35">1E4</text>
<text x="286.6" y="110" font-size="4.60" textLength="7.7" lengthAdjust="spacingAndGlyphs" class="s" stroke-width="0.35">1E5</text>
<text x="202.7" y="119" font-size="7.68" textLength="89.9" lengthAdjust="spacingAndGlyphs" class="t" stroke-width="1.75">CD10:PC7-A LOGICAL</text>
<text transform="translate(190 101.6) rotate(-90)" font-size="8.30" textLength="84.8" lengthAdjust="spacingAndGlyphs" class="t" stroke-width="1.75">SSC-A Exp-SSC Low</text>
<path d="M325.5 8.6V104.5H421" class="ax"/>
<path d="M325.5 104.5h-2M325.5 101.2h-1.2M325.5 97.9h-1.2M325.5 94.6h-1.2M325.5 91.3h-1.2M325.5 88h-2M325.5 84.7h-1.2M325.5 81.4h-1.2M325.5 78h-1.2M325.5 74.7h-1.2M325.5 71.4h-2M325.5 68.1h-1.2M325.5 64.8h-1.2M325.5 61.5h-1.2M325.5 58.2h-1.2M325.5 54.9h-2M325.5 51.6h-1.2M325.5 48.3h-1.2M325.5 45h-1.2M325.5 41.7h-1.2M325.5 38.4h-2M325.5 35.1h-1.2M325.5 31.7h-1.2M325.5 28.4h-1.2M325.5 25.1h-1.2M325.5 21.8h-2M325.5 18.5h-1.2M325.5 15.2h-1.2M325.5 11.9h-1.2M325.5 8.6h-1.2M325.5 104.5v2M328.8 104.5v1.2M332.1 104.5v1.2M335.4 104.5v1.2M338.7 104.5v1.2M342 104.5v2M345.3 104.5v1.2M348.6 104.5v1.2M351.8 104.5v1.2M355.1 104.5v1.2M358.4 104.5v2M361.7 104.5v1.2M365 104.5v1.2M368.3 104.5v1.2M371.6 104.5v1.2M374.9 104.5v2M378.2 104.5v1.2M381.5 104.5v1.2M384.8 104.5v1.2M388.1 104.5v1.2M391.4 104.5v2M394.7 104.5v1.2M397.9 104.5v1.2M401.2 104.5v1.2M404.5 104.5v1.2M407.8 104.5v2M411.1 104.5v1.2M414.4 104.5v1.2M417.7 104.5v1.2M421 104.5v1.2" class="tk"/>
<text transform="translate(320.7 20.1) rotate(-90)" font-size="4.60" textLength="16.1" lengthAdjust="spacingAndGlyphs" class="s" stroke-width="0.35">250000</text>
<text transform="translate(320.7 44.7) rotate(-90)" font-size="4.60" textLength="16.1" lengthAdjust="spacingAndGlyphs" class="s" stroke-width="0.35">100000</text>
<text transform="translate(320.7 66) rotate(-90)" font-size="4.60" textLength="13.1" lengthAdjust="spacingAndGlyphs" class="s" stroke-width="0.35">50000</text>
<text x="317.6" y="106" font-size="4.60" textLength="2.9" lengthAdjust="spacingAndGlyphs" class="s" stroke-width="0.35">0</text>
<text x="340.9" y="111.4" font-size="4.60" textLength="2.9" lengthAdjust="spacingAndGlyphs" class="s" stroke-width="0.35">0</text>
<text x="368.6" y="111.4" font-size="4.60" textLength="7.7" lengthAdjust="spacingAndGlyphs" class="s" stroke-width="0.35">1E3</text>
<text x="389.5" y="111.4" font-size="4.60" textLength="7.7" lengthAdjust="spacingAndGlyphs" class="s" stroke-width="0.35">1E4</text>
<text x="409.3" y="111.4" font-size="4.60" textLength="7.7" lengthAdjust="spacingAndGlyphs" class="s" stroke-width="0.35">1E5</text>
<text x="326.7" y="120.6" font-size="7.54" textLength="98.1" lengthAdjust="spacingAndGlyphs" class="t" stroke-width="1.75">CD11B:APC-A LOGICAL</text>
<text transform="translate(314.8 101.7) rotate(-90)" font-size="8.02" textLength="82.3" lengthAdjust="spacingAndGlyphs" class="t" stroke-width="1.75">SSC-A Exp-SSC Low</text>
<path d="M457.5 7.5V104.5H557.7" class="ax"/>
<path d="M457.5 104.5h-2M457.5 101.3h-1.2M457.5 98h-1.2M457.5 94.8h-1.2M457.5 91.6h-1.2M457.5 88.3h-2M457.5 85.1h-1.2M457.5 81.9h-1.2M457.5 78.6h-1.2M457.5 75.4h-1.2M457.5 72.2h-2M457.5 68.9h-1.2M457.5 65.7h-1.2M457.5 62.5h-1.2M457.5 59.2h-1.2M457.5 56h-2M457.5 52.8h-1.2M457.5 49.5h-1.2M457.5 46.3h-1.2M457.5 43.1h-1.2M457.5 39.8h-2M457.5 36.6h-1.2M457.5 33.4h-1.2M457.5 30.1h-1.2M457.5 26.9h-1.2M457.5 23.7h-2M457.5 20.4h-1.2M457.5 17.2h-1.2M457.5 14h-1.2M457.5 10.7h-1.2M457.5 7.5h-2M457.5 104.5v2M460.7 104.5v1.2M464 104.5v1.2M467.2 104.5v1.2M470.4 104.5v1.2M473.7 104.5v2M476.9 104.5v1.2M480.1 104.5v1.2M483.4 104.5v1.2M486.6 104.5v1.2M489.8 104.5v2M493.1 104.5v1.2M496.3 104.5v1.2M499.5 104.5v1.2M502.8 104.5v1.2M506 104.5v2M509.2 104.5v1.2M512.4 104.5v1.2M515.7 104.5v1.2M518.9 104.5v1.2M522.1 104.5v2M525.4 104.5v1.2M528.6 104.5v1.2M531.8 104.5v1.2M535.1 104.5v1.2M538.3 104.5v2M541.5 104.5v1.2M544.8 104.5v1.2M548 104.5v1.2M551.2 104.5v1.2M554.5 104.5v2M557.7 104.5v1.2" class="tk"/>
<text transform="translate(453.4 19.1) rotate(-90)" font-size="4.60" textLength="16.1" lengthAdjust="spacingAndGlyphs" class="s" stroke-width="0.35">250000</text>
<text transform="translate(453.4 44.1) rotate(-90)" font-size="4.60" textLength="16.1" lengthAdjust="spacingAndGlyphs" class="s" stroke-width="0.35">100000</text>
<text transform="translate(453.4 65.5) rotate(-90)" font-size="4.60" textLength="13.1" lengthAdjust="spacingAndGlyphs" class="s" stroke-width="0.35">50000</text>
<text x="450.3" y="105.2" font-size="4.60" textLength="2.9" lengthAdjust="spacingAndGlyphs" class="s" stroke-width="0.35">0</text>
<text x="473.5" y="111.2" font-size="4.60" textLength="2.9" lengthAdjust="spacingAndGlyphs" class="s" stroke-width="0.35">0</text>
<text x="503.9" y="111.2" font-size="4.60" textLength="7.7" lengthAdjust="spacingAndGlyphs" class="s" stroke-width="0.35">1E3</text>
<text x="525.1" y="111.2" font-size="4.60" textLength="7.7" lengthAdjust="spacingAndGlyphs" class="s" stroke-width="0.35">1E4</text>
<text x="546.2" y="111.2" font-size="4.60" textLength="7.7" lengthAdjust="spacingAndGlyphs" class="s" stroke-width="0.35">1E5</text>
<text x="458.9" y="119.3" font-size="6.72" textLength="81.5" lengthAdjust="spacingAndGlyphs" class="t" stroke-width="1.75">CD11C:APC-A LOGICAL</text>
<text transform="translate(447 102.5) rotate(-90)" font-size="8.57" textLength="69.2" lengthAdjust="spacingAndGlyphs" class="t" stroke-width="1.75">SSC-A Exp-SSC Low</text>
<path d="M82.5 141V235.5H171.4" class="ax"/>
<path d="M82.5 235.5h-2M82.5 232.2h-1.2M82.5 229h-1.2M82.5 225.7h-1.2M82.5 222.5h-1.2M82.5 219.2h-2M82.5 215.9h-1.2M82.5 212.7h-1.2M82.5 209.4h-1.2M82.5 206.2h-1.2M82.5 202.9h-2M82.5 199.7h-1.2M82.5 196.4h-1.2M82.5 193.1h-1.2M82.5 189.9h-1.2M82.5 186.6h-2M82.5 183.4h-1.2M82.5 180.1h-1.2M82.5 176.8h-1.2M82.5 173.6h-1.2M82.5 170.3h-2M82.5 167.1h-1.2M82.5 163.8h-1.2M82.5 160.6h-1.2M82.5 157.3h-1.2M82.5 154h-2M82.5 150.8h-1.2M82.5 147.5h-1.2M82.5 144.3h-1.2M82.5 141h-1.2M82.5 235.5v2M85.8 235.5v1.2M89.1 235.5v1.2M92.4 235.5v1.2M95.7 235.5v1.2M99 235.5v2M102.3 235.5v1.2M105.5 235.5v1.2M108.8 235.5v1.2M112.1 235.5v1.2M115.4 235.5v2M118.7 235.5v1.2M122 235.5v1.2M125.3 235.5v1.2M128.6 235.5v1.2M131.9 235.5v2M135.2 235.5v1.2M138.5 235.5v1.2M141.8 235.5v1.2M145.1 235.5v1.2M148.4 235.5v2M151.6 235.5v1.2M154.9 235.5v1.2M158.2 235.5v1.2M161.5 235.5v1.2M164.8 235.5v2M168.1 235.5v1.2M171.4 235.5v1.2" class="tk"/>
<text transform="translate(77.9 151.1) rotate(-90)" font-size="4.60" textLength="16.1" lengthAdjust="spacingAndGlyphs" class="s" stroke-width="0.35">250000</text>
<text transform="translate(77.9 175.5) rotate(-90)" font-size="4.60" textLength="16.1" lengthAdjust="spacingAndGlyphs" class="s" stroke-width="0.35">100000</text>
<text transform="translate(77.9 196.5) rotate(-90)" font-size="4.60" textLength="13" lengthAdjust="spacingAndGlyphs" class="s" stroke-width="0.35">50000</text>
<text x="74.8" y="234.7" font-size="4.60" textLength="2.8" lengthAdjust="spacingAndGlyphs" class="s" stroke-width="0.35">0</text>
<text x="82.1" y="243.1" font-size="4.60" textLength="2.8" lengthAdjust="spacingAndGlyphs" class="s" stroke-width="0.35">0</text>
<text x="95.3" y="243.1" font-size="4.60" textLength="13.1" lengthAdjust="spacingAndGlyphs" class="s" stroke-width="0.35">50000</text>
<text x="112" y="243.1" font-size="4.60" textLength="16.1" lengthAdjust="spacingAndGlyphs" class="s" stroke-width="0.35">100000</text>
<text x="147.4" y="243.1" font-size="4.60" textLength="16.1" lengthAdjust="spacingAndGlyphs" class="s" stroke-width="0.35">200000</text>
<text x="82.9" y="250.7" font-size="6.04" textLength="59.9" lengthAdjust="spacingAndGlyphs" class="t" stroke-width="1.75">FSC-A LINEAR</text>
<text transform="translate(70.9 233.4) rotate(-90)" font-size="8.02" textLength="83.7" lengthAdjust="spacingAndGlyphs" class="t" stroke-width="1.75">SSC-A Exp-SSC Low</text>
<path d="M200.5 141V235.5H294.8" class="ax"/>
<path d="M200.5 235.5h-2M200.5 232.2h-1.2M200.5 229h-1.2M200.5 225.7h-1.2M200.5 222.5h-1.2M200.5 219.2h-2M200.5 215.9h-1.2M200.5 212.7h-1.2M200.5 209.4h-1.2M200.5 206.2h-1.2M200.5 202.9h-2M200.5 199.7h-1.2M200.5 196.4h-1.2M200.5 193.1h-1.2M200.5 189.9h-1.2M200.5 186.6h-2M200.5 183.4h-1.2M200.5 180.1h-1.2M200.5 176.8h-1.2M200.5 173.6h-1.2M200.5 170.3h-2M200.5 167.1h-1.2M200.5 163.8h-1.2M200.5 160.6h-1.2M200.5 157.3h-1.2M200.5 154h-2M200.5 150.8h-1.2M200.5 147.5h-1.2M200.5 144.3h-1.2M200.5 141h-1.2M200.5 235.5v2M203.8 235.5v1.2M207 235.5v1.2M210.3 235.5v1.2M213.5 235.5v1.2M216.8 235.5v2M220 235.5v1.2M223.3 235.5v1.2M226.5 235.5v1.2M229.8 235.5v1.2M233 235.5v2M236.3 235.5v1.2M239.5 235.5v1.2M242.8 235.5v1.2M246 235.5v1.2M249.3 235.5v2M252.5 235.5v1.2M255.8 235.5v1.2M259 235.5v1.2M262.3 235.5v1.2M265.5 235.5v2M268.8 235.5v1.2M272 235.5v1.2M275.3 235.5v1.2M278.5 235.5v1.2M281.8 235.5v2M285 235.5v1.2M288.3 235.5v1.2M291.5 235.5v1.2M294.8 235.5v1.2" class="tk"/>
<text transform="translate(195.7 151.1) rotate(-90)" font-size="4.60" textLength="16.1" lengthAdjust="spacingAndGlyphs" class="s" stroke-width="0.35">250000</text>
<text transform="translate(195.7 175.1) rotate(-90)" font-size="4.60" textLength="16.1" lengthAdjust="spacingAndGlyphs" class="s" stroke-width="0.35">100000</text>
<text transform="translate(195.7 196.8) rotate(-90)" font-size="4.60" textLength="13" lengthAdjust="spacingAndGlyphs" class="s" stroke-width="0.35">50000</text>
<text x="192.6" y="234.7" font-size="4.60" textLength="2.8" lengthAdjust="spacingAndGlyphs" class="s" stroke-width="0.35">0</text>
<text x="216.9" y="242.9" font-size="4.60" textLength="2.8" lengthAdjust="spacingAndGlyphs" class="s" stroke-width="0.35">0</text>
<text x="243.6" y="242.9" font-size="4.60" textLength="7.7" lengthAdjust="spacingAndGlyphs" class="s" stroke-width="0.35">1E3</text>
<text x="263.9" y="242.9" font-size="4.60" textLength="7.7" lengthAdjust="spacingAndGlyphs" class="s" stroke-width="0.35">1E4</text>
<text x="282.2" y="242.9" font-size="4.60" textLength="7.7" lengthAdjust="spacingAndGlyphs" class="s" stroke-width="0.35">1E5</text>
<text x="201.7" y="251" font-size="6.72" textLength="88.8" lengthAdjust="spacingAndGlyphs" class="t" stroke-width="1.75">CD10:PC7-A LOGICAL</text>
<text transform="translate(189.8 233.4) rotate(-90)" font-size="8.57" textLength="82.6" lengthAdjust="spacingAndGlyphs" class="t" stroke-width="1.75">SSC-A Exp-SSC Low</text>
<path d="M324.5 141V235.5H421" class="ax"/>
<path d="M324.5 235.5h-2M324.5 232.2h-1.2M324.5 229h-1.2M324.5 225.7h-1.2M324.5 222.5h-1.2M324.5 219.2h-2M324.5 215.9h-1.2M324.5 212.7h-1.2M324.5 209.4h-1.2M324.5 206.2h-1.2M324.5 202.9h-2M324.5 199.7h-1.2M324.5 196.4h-1.2M324.5 193.1h-1.2M324.5 189.9h-1.2M324.5 186.6h-2M324.5 183.4h-1.2M324.5 180.1h-1.2M324.5 176.8h-1.2M324.5 173.6h-1.2M324.5 170.3h-2M324.5 167.1h-1.2M324.5 163.8h-1.2M324.5 160.6h-1.2M324.5 157.3h-1.2M324.5 154h-2M324.5 150.8h-1.2M324.5 147.5h-1.2M324.5 144.3h-1.2M324.5 141h-1.2M324.5 235.5v2M327.7 235.5v1.2M330.9 235.5v1.2M334.1 235.5v1.2M337.4 235.5v1.2M340.6 235.5v2M343.8 235.5v1.2M347 235.5v1.2M350.2 235.5v1.2M353.4 235.5v1.2M356.7 235.5v2M359.9 235.5v1.2M363.1 235.5v1.2M366.3 235.5v1.2M369.5 235.5v1.2M372.8 235.5v2M376 235.5v1.2M379.2 235.5v1.2M382.4 235.5v1.2M385.6 235.5v1.2M388.8 235.5v2M392.1 235.5v1.2M395.3 235.5v1.2M398.5 235.5v1.2M401.7 235.5v1.2M404.9 235.5v2M408.1 235.5v1.2M411.4 235.5v1.2M414.6 235.5v1.2M417.8 235.5v1.2M421 235.5v2" class="tk"/>
<text transform="translate(320.7 151.1) rotate(-90)" font-size="4.60" textLength="16.1" lengthAdjust="spacingAndGlyphs" class="s" stroke-width="0.35">250000</text>
<text transform="translate(320.7 174.4) rotate(-90)" font-size="4.60" textLength="16.1" lengthAdjust="spacingAndGlyphs" class="s" stroke-width="0.35">100000</text>
<text transform="translate(320.7 196.2) rotate(-90)" font-size="4.60" textLength="13" lengthAdjust="spacingAndGlyphs" class="s" stroke-width="0.35">50000</text>
<text x="317.6" y="234.7" font-size="4.60" textLength="2.9" lengthAdjust="spacingAndGlyphs" class="s" stroke-width="0.35">0</text>
<text x="340.9" y="242.3" font-size="4.60" textLength="2.9" lengthAdjust="spacingAndGlyphs" class="s" stroke-width="0.35">0</text>
<text x="368.6" y="242.3" font-size="4.60" textLength="7.7" lengthAdjust="spacingAndGlyphs" class="s" stroke-width="0.35">1E3</text>
<text x="388.9" y="242.3" font-size="4.60" textLength="7.7" lengthAdjust="spacingAndGlyphs" class="s" stroke-width="0.35">1E4</text>
<text x="406.7" y="242.3" font-size="4.60" textLength="7.7" lengthAdjust="spacingAndGlyphs" class="s" stroke-width="0.35">1E5</text>
<text x="326.7" y="250.7" font-size="6.72" textLength="98.1" lengthAdjust="spacingAndGlyphs" class="t" stroke-width="1.75">CD11B:APC-A LOGICAL</text>
<text transform="translate(314.9 232.3) rotate(-90)" font-size="8.71" textLength="82.5" lengthAdjust="spacingAndGlyphs" class="t" stroke-width="1.75">SSC-A Exp-SSC Low</text>
<path d="M458.5 143.8V236.5H564" class="ax"/>
<path d="M458.5 236.5h-2M458.5 233.2h-1.2M458.5 229.9h-1.2M458.5 226.6h-1.2M458.5 223.3h-1.2M458.5 219.9h-2M458.5 216.6h-1.2M458.5 213.3h-1.2M458.5 210h-1.2M458.5 206.7h-1.2M458.5 203.4h-2M458.5 200.1h-1.2M458.5 196.8h-1.2M458.5 193.5h-1.2M458.5 190.2h-1.2M458.5 186.8h-2M458.5 183.5h-1.2M458.5 180.2h-1.2M458.5 176.9h-1.2M458.5 173.6h-1.2M458.5 170.3h-2M458.5 167h-1.2M458.5 163.7h-1.2M458.5 160.4h-1.2M458.5 157h-1.2M458.5 153.7h-2M458.5 150.4h-1.2M458.5 147.1h-1.2M458.5 143.8h-1.2M458.5 236.5v2M461.8 236.5v1.2M465.1 236.5v1.2M468.4 236.5v1.2M471.7 236.5v1.2M475 236.5v2M478.3 236.5v1.2M481.6 236.5v1.2M484.9 236.5v1.2M488.2 236.5v1.2M491.5 236.5v2M494.8 236.5v1.2M498.1 236.5v1.2M501.4 236.5v1.2M504.7 236.5v1.2M508 236.5v2M511.2 236.5v1.2M514.5 236.5v1.2M517.8 236.5v1.2M521.1 236.5v1.2M524.4 236.5v2M527.7 236.5v1.2M531 236.5v1.2M534.3 236.5v1.2M537.6 236.5v1.2M540.9 236.5v2M544.2 236.5v1.2M547.5 236.5v1.2M550.8 236.5v1.2M554.1 236.5v1.2M557.4 236.5v2M560.7 236.5v1.2M564 236.5v1.2" class="tk"/>
<text transform="translate(453.3 153.1) rotate(-90)" font-size="4.60" textLength="16.1" lengthAdjust="spacingAndGlyphs" class="s" stroke-width="0.35">250000</text>
<text transform="translate(453.3 177.7) rotate(-90)" font-size="4.60" textLength="16.1" lengthAdjust="spacingAndGlyphs" class="s" stroke-width="0.35">100000</text>
<text transform="translate(453.3 198.5) rotate(-90)" font-size="4.60" textLength="13" lengthAdjust="spacingAndGlyphs" class="s" stroke-width="0.35">50000</text>
<text x="450.2" y="236.4" font-size="4.60" textLength="2.9" lengthAdjust="spacingAndGlyphs" class="s" stroke-width="0.35">0</text>
<text x="475.9" y="243" font-size="4.60" textLength="2.9" lengthAdjust="spacingAndGlyphs" class="s" stroke-width="0.35">0</text>
<text x="481" y="243" font-size="4.60" textLength="7.7" lengthAdjust="spacingAndGlyphs" class="s" stroke-width="0.35">1E2</text>
<text x="507.9" y="243" font-size="4.60" textLength="7.7" lengthAdjust="spacingAndGlyphs" class="s" stroke-width="0.35">1E3</text>
<text x="531.6" y="243" font-size="4.60" textLength="7.7" lengthAdjust="spacingAndGlyphs" class="s" stroke-width="0.35">1E4</text>
<text x="552" y="243" font-size="4.60" textLength="7.7" lengthAdjust="spacingAndGlyphs" class="s" stroke-width="0.35">1E5</text>
<text x="458.8" y="251" font-size="6.72" textLength="102.6" lengthAdjust="spacingAndGlyphs" class="t" stroke-width="1.75">CD11C:APC-A LOGICAL</text>
<text transform="translate(448.4 234.4) rotate(-90)" font-size="8.30" textLength="74.2" lengthAdjust="spacingAndGlyphs" class="t" stroke-width="1.75">SSC-A Exp-SSC Low</text>
<path d="M82.5 285.3V380.5H178" class="ax"/>
<path d="M82.5 380.5h-2M82.5 377.2h-1.2M82.5 373.9h-1.2M82.5 370.7h-1.2M82.5 367.4h-1.2M82.5 364.1h-2M82.5 360.8h-1.2M82.5 357.5h-1.2M82.5 354.2h-1.2M82.5 351h-1.2M82.5 347.7h-2M82.5 344.4h-1.2M82.5 341.1h-1.2M82.5 337.8h-1.2M82.5 334.5h-1.2M82.5 331.3h-2M82.5 328h-1.2M82.5 324.7h-1.2M82.5 321.4h-1.2M82.5 318.1h-1.2M82.5 314.8h-2M82.5 311.6h-1.2M82.5 308.3h-1.2M82.5 305h-1.2M82.5 301.7h-1.2M82.5 298.4h-2M82.5 295.1h-1.2M82.5 291.9h-1.2M82.5 288.6h-1.2M82.5 285.3h-1.2M82.5 380.5v2M85.8 380.5v1.2M89.1 380.5v1.2M92.4 380.5v1.2M95.7 380.5v1.2M99 380.5v2M102.3 380.5v1.2M105.6 380.5v1.2M108.8 380.5v1.2M112.1 380.5v1.2M115.4 380.5v2M118.7 380.5v1.2M122 380.5v1.2M125.3 380.5v1.2M128.6 380.5v1.2M131.9 380.5v2M135.2 380.5v1.2M138.5 380.5v1.2M141.8 380.5v1.2M145.1 380.5v1.2M148.4 380.5v2M151.7 380.5v1.2M154.9 380.5v1.2M158.2 380.5v1.2M161.5 380.5v1.2M164.8 380.5v2M168.1 380.5v1.2M171.4 380.5v1.2M174.7 380.5v1.2M178 380.5v1.2" class="tk"/>
<text transform="translate(78.2 298.1) rotate(-90)" font-size="4.60" textLength="16.1" lengthAdjust="spacingAndGlyphs" class="s" stroke-width="0.35">250000</text>
<text transform="translate(78.2 321.4) rotate(-90)" font-size="4.60" textLength="16.1" lengthAdjust="spacingAndGlyphs" class="s" stroke-width="0.35">100000</text>
<text transform="translate(78.2 342) rotate(-90)" font-size="4.60" textLength="13" lengthAdjust="spacingAndGlyphs" class="s" stroke-width="0.35">50000</text>
<text x="75.1" y="381.7" font-size="4.60" textLength="2.8" lengthAdjust="spacingAndGlyphs" class="s" stroke-width="0.35">0</text>
<text x="90.8" y="387.6" font-size="4.60" textLength="2.8" lengthAdjust="spacingAndGlyphs" class="s" stroke-width="0.35">0</text>
<text x="108.1" y="387.6" font-size="4.60" textLength="7.7" lengthAdjust="spacingAndGlyphs" class="s" stroke-width="0.35">1E2</text>
<text x="127.1" y="387.6" font-size="4.60" textLength="7.7" lengthAdjust="spacingAndGlyphs" class="s" stroke-width="0.35">1E3</text>
<text x="147.2" y="387.6" font-size="4.60" textLength="7.7" lengthAdjust="spacingAndGlyphs" class="s" stroke-width="0.35">1E4</text>
<text x="166.2" y="387.6" font-size="4.60" textLength="7.7" lengthAdjust="spacingAndGlyphs" class="s" stroke-width="0.35">1E5</text>
<text x="83.1" y="396.5" font-size="7.00" textLength="44.9" lengthAdjust="spacingAndGlyphs" class="t" stroke-width="1.75">CD13:PE-A</text>
<text transform="translate(70.7 379.4) rotate(-90)" font-size="7.75" textLength="83.6" lengthAdjust="spacingAndGlyphs" class="t" stroke-width="1.75">SSC-A Exp-SSC Low</text>
<path d="M200.5 284V380.5H297" class="ax"/>
<path d="M200.5 380.5h-2M200.5 377.3h-1.2M200.5 374.1h-1.2M200.5 370.9h-1.2M200.5 367.6h-1.2M200.5 364.4h-2M200.5 361.2h-1.2M200.5 358h-1.2M200.5 354.8h-1.2M200.5 351.6h-1.2M200.5 348.3h-2M200.5 345.1h-1.2M200.5 341.9h-1.2M200.5 338.7h-1.2M200.5 335.5h-1.2M200.5 332.2h-2M200.5 329h-1.2M200.5 325.8h-1.2M200.5 322.6h-1.2M200.5 319.4h-1.2M200.5 316.2h-2M200.5 312.9h-1.2M200.5 309.7h-1.2M200.5 306.5h-1.2M200.5 303.3h-1.2M200.5 300.1h-2M200.5 296.9h-1.2M200.5 293.6h-1.2M200.5 290.4h-1.2M200.5 287.2h-1.2M200.5 284h-2M200.5 380.5v2M203.7 380.5v1.2M206.9 380.5v1.2M210.2 380.5v1.2M213.4 380.5v1.2M216.6 380.5v2M219.8 380.5v1.2M223 380.5v1.2M226.2 380.5v1.2M229.4 380.5v1.2M232.7 380.5v2M235.9 380.5v1.2M239.1 380.5v1.2M242.3 380.5v1.2M245.5 380.5v1.2M248.8 380.5v2M252 380.5v1.2M255.2 380.5v1.2M258.4 380.5v1.2M261.6 380.5v1.2M264.8 380.5v2M268.1 380.5v1.2M271.3 380.5v1.2M274.5 380.5v1.2M277.7 380.5v1.2M280.9 380.5v2M284.1 380.5v1.2M287.4 380.5v1.2M290.6 380.5v1.2M293.8 380.5v1.2M297 380.5v2" class="tk"/>
<text transform="translate(196.7 296.6) rotate(-90)" font-size="4.60" textLength="16.1" lengthAdjust="spacingAndGlyphs" class="s" stroke-width="0.35">250000</text>
<text transform="translate(196.7 320.1) rotate(-90)" font-size="4.60" textLength="16.1" lengthAdjust="spacingAndGlyphs" class="s" stroke-width="0.35">100000</text>
<text transform="translate(196.7 342) rotate(-90)" font-size="4.60" textLength="13" lengthAdjust="spacingAndGlyphs" class="s" stroke-width="0.35">50000</text>
<text x="193.6" y="381.7" font-size="4.60" textLength="2.8" lengthAdjust="spacingAndGlyphs" class="s" stroke-width="0.35">0</text>
<text x="209.8" y="387.6" font-size="4.60" textLength="2.8" lengthAdjust="spacingAndGlyphs" class="s" stroke-width="0.35">0</text>
<text x="226.8" y="387.6" font-size="4.60" textLength="7.7" lengthAdjust="spacingAndGlyphs" class="s" stroke-width="0.35">1E2</text>
<text x="246.1" y="387.6" font-size="4.60" textLength="7.7" lengthAdjust="spacingAndGlyphs" class="s" stroke-width="0.35">1E3</text>
<text x="266.2" y="387.6" font-size="4.60" textLength="7.7" lengthAdjust="spacingAndGlyphs" class="s" stroke-width="0.35">1E4</text>
<text x="284.6" y="387.6" font-size="4.60" textLength="7.7" lengthAdjust="spacingAndGlyphs" class="s" stroke-width="0.35">1E5</text>
<text x="203.2" y="396.2" font-size="7.54" textLength="91.1" lengthAdjust="spacingAndGlyphs" class="t" stroke-width="1.75">CD15:FITC-A LOGICAL</text>
<text transform="translate(190.7 379.3) rotate(-90)" font-size="9.12" textLength="84.4" lengthAdjust="spacingAndGlyphs" class="t" stroke-width="1.75">SSC-A Exp-SSC Low</text>
<path d="M324.5 285.4V380.5H424" class="ax"/>
<path d="M324.5 380.5h-2M324.5 377.2h-1.2M324.5 373.9h-1.2M324.5 370.7h-1.2M324.5 367.4h-1.2M324.5 364.1h-2M324.5 360.8h-1.2M324.5 357.5h-1.2M324.5 354.3h-1.2M324.5 351h-1.2M324.5 347.7h-2M324.5 344.4h-1.2M324.5 341.1h-1.2M324.5 337.9h-1.2M324.5 334.6h-1.2M324.5 331.3h-2M324.5 328h-1.2M324.5 324.8h-1.2M324.5 321.5h-1.2M324.5 318.2h-1.2M324.5 314.9h-2M324.5 311.6h-1.2M324.5 308.4h-1.2M324.5 305.1h-1.2M324.5 301.8h-1.2M324.5 298.5h-2M324.5 295.2h-1.2M324.5 292h-1.2M324.5 288.7h-1.2M324.5 285.4h-1.2M324.5 380.5v2M327.7 380.5v1.2M330.9 380.5v1.2M334.1 380.5v1.2M337.3 380.5v1.2M340.5 380.5v2M343.8 380.5v1.2M347 380.5v1.2M350.2 380.5v1.2M353.4 380.5v1.2M356.6 380.5v2M359.8 380.5v1.2M363 380.5v1.2M366.2 380.5v1.2M369.4 380.5v1.2M372.6 380.5v2M375.9 380.5v1.2M379.1 380.5v1.2M382.3 380.5v1.2M385.5 380.5v1.2M388.7 380.5v2M391.9 380.5v1.2M395.1 380.5v1.2M398.3 380.5v1.2M401.5 380.5v1.2M404.7 380.5v2M408 380.5v1.2M411.2 380.5v1.2M414.4 380.5v1.2M417.6 380.5v1.2M420.8 380.5v2M424 380.5v1.2" class="tk"/>
<text transform="translate(321.7 297.1) rotate(-90)" font-size="4.60" textLength="16.1" lengthAdjust="spacingAndGlyphs" class="s" stroke-width="0.35">250000</text>
<text transform="translate(321.7 321.1) rotate(-90)" font-size="4.60" textLength="16.1" lengthAdjust="spacingAndGlyphs" class="s" stroke-width="0.35">100000</text>
<text transform="translate(321.7 342.5) rotate(-90)" font-size="4.60" textLength="13" lengthAdjust="spacingAndGlyphs" class="s" stroke-width="0.35">50000</text>
<text x="318.6" y="381.7" font-size="4.60" textLength="2.9" lengthAdjust="spacingAndGlyphs" class="s" stroke-width="0.35">0</text>
<text x="333.7" y="387.6" font-size="4.60" textLength="2.9" lengthAdjust="spacingAndGlyphs" class="s" stroke-width="0.35">0</text>
<text x="350.4" y="387.6" font-size="4.60" textLength="7.7" lengthAdjust="spacingAndGlyphs" class="s" stroke-width="0.35">1E2</text>
<text x="368.3" y="387.6" font-size="4.60" textLength="7.7" lengthAdjust="spacingAndGlyphs" class="s" stroke-width="0.35">1E3</text>
<text x="389.5" y="387.6" font-size="4.60" textLength="7.7" lengthAdjust="spacingAndGlyphs" class="s" stroke-width="0.35">1E4</text>
<text x="408.1" y="387.6" font-size="4.60" textLength="7.7" lengthAdjust="spacingAndGlyphs" class="s" stroke-width="0.35">1E5</text>
<text x="328.2" y="396.5" font-size="7.27" textLength="101.2" lengthAdjust="spacingAndGlyphs" class="t" stroke-width="1.75">CD16:HV450-A LOGICAL</text>
<text transform="translate(314.3 379.4) rotate(-90)" font-size="8.44" textLength="83.6" lengthAdjust="spacingAndGlyphs" class="t" stroke-width="1.75">SSC-A Exp-SSC Low</text>
<path d="M457.5 284V379.5H552" class="ax"/>
<path d="M457.5 379.5h-2M457.5 376.2h-1.2M457.5 372.9h-1.2M457.5 369.6h-1.2M457.5 366.3h-1.2M457.5 363h-2M457.5 359.7h-1.2M457.5 356.4h-1.2M457.5 353.2h-1.2M457.5 349.9h-1.2M457.5 346.6h-2M457.5 343.3h-1.2M457.5 340h-1.2M457.5 336.7h-1.2M457.5 333.4h-1.2M457.5 330.1h-2M457.5 326.8h-1.2M457.5 323.5h-1.2M457.5 320.2h-1.2M457.5 316.9h-1.2M457.5 313.6h-2M457.5 310.3h-1.2M457.5 307.1h-1.2M457.5 303.8h-1.2M457.5 300.5h-1.2M457.5 297.2h-2M457.5 293.9h-1.2M457.5 290.6h-1.2M457.5 287.3h-1.2M457.5 284h-1.2M457.5 379.5v2M460.8 379.5v1.2M464 379.5v1.2M467.3 379.5v1.2M470.5 379.5v1.2M473.8 379.5v2M477.1 379.5v1.2M480.3 379.5v1.2M483.6 379.5v1.2M486.8 379.5v1.2M490.1 379.5v2M493.3 379.5v1.2M496.6 379.5v1.2M499.9 379.5v1.2M503.1 379.5v1.2M506.4 379.5v2M509.6 379.5v1.2M512.9 379.5v1.2M516.2 379.5v1.2M519.4 379.5v1.2M522.7 379.5v2M525.9 379.5v1.2M529.2 379.5v1.2M532.4 379.5v1.2M535.7 379.5v1.2M539 379.5v2M542.2 379.5v1.2M545.5 379.5v1.2M548.7 379.5v1.2M552 379.5v1.2" class="tk"/>
<text transform="translate(452.3 296.1) rotate(-90)" font-size="4.60" textLength="16.1" lengthAdjust="spacingAndGlyphs" class="s" stroke-width="0.35">250000</text>
<text transform="translate(452.3 319) rotate(-90)" font-size="4.60" textLength="16.1" lengthAdjust="spacingAndGlyphs" class="s" stroke-width="0.35">100000</text>
<text transform="translate(452.3 341.3) rotate(-90)" font-size="4.60" textLength="13" lengthAdjust="spacingAndGlyphs" class="s" stroke-width="0.35">50000</text>
<text x="449.2" y="380" font-size="4.60" textLength="2.9" lengthAdjust="spacingAndGlyphs" class="s" stroke-width="0.35">0</text>
<text x="464.8" y="386.9" font-size="4.60" textLength="2.9" lengthAdjust="spacingAndGlyphs" class="s" stroke-width="0.35">0</text>
<text x="482.2" y="386.9" font-size="4.60" textLength="7.7" lengthAdjust="spacingAndGlyphs" class="s" stroke-width="0.35">1E2</text>
<text x="502.5" y="386.9" font-size="4.60" textLength="7.7" lengthAdjust="spacingAndGlyphs" class="s" stroke-width="0.35">1E3</text>
<text x="522.2" y="386.9" font-size="4.60" textLength="7.7" lengthAdjust="spacingAndGlyphs" class="s" stroke-width="0.35">1E4</text>
<text x="541.2" y="386.9" font-size="4.60" textLength="7.7" lengthAdjust="spacingAndGlyphs" class="s" stroke-width="0.35">1E5</text>
<text x="458.2" y="395.4" font-size="7.54" textLength="87.4" lengthAdjust="spacingAndGlyphs" class="t" stroke-width="1.75">CD45:KO-A LOGICAL</text>
<text transform="translate(446.9 377.3) rotate(-90)" font-size="8.57" textLength="80.4" lengthAdjust="spacingAndGlyphs" class="t" stroke-width="1.75">SSC-A Exp-SSC Low</text>
<path d="M83.5 418V512.5H179" class="ax"/>
<path d="M83.5 512.5h-2M83.5 509.2h-1.2M83.5 506h-1.2M83.5 502.7h-1.2M83.5 499.5h-1.2M83.5 496.2h-2M83.5 492.9h-1.2M83.5 489.7h-1.2M83.5 486.4h-1.2M83.5 483.2h-1.2M83.5 479.9h-2M83.5 476.7h-1.2M83.5 473.4h-1.2M83.5 470.1h-1.2M83.5 466.9h-1.2M83.5 463.6h-2M83.5 460.4h-1.2M83.5 457.1h-1.2M83.5 453.8h-1.2M83.5 450.6h-1.2M83.5 447.3h-2M83.5 444.1h-1.2M83.5 440.8h-1.2M83.5 437.6h-1.2M83.5 434.3h-1.2M83.5 431h-2M83.5 427.8h-1.2M83.5 424.5h-1.2M83.5 421.3h-1.2M83.5 418h-1.2M83.5 512.5v2M86.8 512.5v1.2M90.1 512.5v1.2M93.4 512.5v1.2M96.7 512.5v1.2M100 512.5v2M103.3 512.5v1.2M106.6 512.5v1.2M109.8 512.5v1.2M113.1 512.5v1.2M116.4 512.5v2M119.7 512.5v1.2M123 512.5v1.2M126.3 512.5v1.2M129.6 512.5v1.2M132.9 512.5v2M136.2 512.5v1.2M139.5 512.5v1.2M142.8 512.5v1.2M146.1 512.5v1.2M149.4 512.5v2M152.7 512.5v1.2M155.9 512.5v1.2M159.2 512.5v1.2M162.5 512.5v1.2M165.8 512.5v2M169.1 512.5v1.2M172.4 512.5v1.2M175.7 512.5v1.2M179 512.5v1.2" class="tk"/>
<text transform="translate(79.3 428.1) rotate(-90)" font-size="4.60" textLength="16.1" lengthAdjust="spacingAndGlyphs" class="s" stroke-width="0.35">250000</text>
<text transform="translate(79.3 453.1) rotate(-90)" font-size="4.60" textLength="16.1" lengthAdjust="spacingAndGlyphs" class="s" stroke-width="0.35">100000</text>
<text transform="translate(79.3 474.5) rotate(-90)" font-size="4.60" textLength="13" lengthAdjust="spacingAndGlyphs" class="s" stroke-width="0.35">50000</text>
<text x="76.2" y="513" font-size="4.60" textLength="2.8" lengthAdjust="spacingAndGlyphs" class="s" stroke-width="0.35">0</text>
<text x="91.4" y="519.9" font-size="4.60" textLength="2.8" lengthAdjust="spacingAndGlyphs" class="s" stroke-width="0.35">0</text>
<text x="109.1" y="519.9" font-size="4.60" textLength="7.7" lengthAdjust="spacingAndGlyphs" class="s" stroke-width="0.35">1E2</text>
<text x="127.7" y="519.9" font-size="4.60" textLength="7.7" lengthAdjust="spacingAndGlyphs" class="s" stroke-width="0.35">1E3</text>
<text x="147.6" y="519.9" font-size="4.60" textLength="7.7" lengthAdjust="spacingAndGlyphs" class="s" stroke-width="0.35">1E4</text>
<text x="166.2" y="519.9" font-size="4.60" textLength="7.7" lengthAdjust="spacingAndGlyphs" class="s" stroke-width="0.35">1E5</text>
<text x="84.2" y="528.9" font-size="7.54" textLength="44.8" lengthAdjust="spacingAndGlyphs" class="t" stroke-width="1.75">CD13:PE-A</text>
<text transform="translate(72.9 510.4) rotate(-90)" font-size="8.57" textLength="82.6" lengthAdjust="spacingAndGlyphs" class="t" stroke-width="1.75">SSC-A Exp-SSC Low</text>
<path d="M200.5 416.7V511.5H295.4" class="ax"/>
<path d="M200.5 511.5h-2M200.5 508.2h-1.2M200.5 505h-1.2M200.5 501.7h-1.2M200.5 498.4h-1.2M200.5 495.2h-2M200.5 491.9h-1.2M200.5 488.6h-1.2M200.5 485.3h-1.2M200.5 482.1h-1.2M200.5 478.8h-2M200.5 475.5h-1.2M200.5 472.3h-1.2M200.5 469h-1.2M200.5 465.7h-1.2M200.5 462.5h-2M200.5 459.2h-1.2M200.5 455.9h-1.2M200.5 452.7h-1.2M200.5 449.4h-1.2M200.5 446.1h-2M200.5 442.9h-1.2M200.5 439.6h-1.2M200.5 436.3h-1.2M200.5 433h-1.2M200.5 429.8h-2M200.5 426.5h-1.2M200.5 423.2h-1.2M200.5 420h-1.2M200.5 416.7h-1.2M200.5 511.5v2M203.8 511.5v1.2M207 511.5v1.2M210.3 511.5v1.2M213.6 511.5v1.2M216.9 511.5v2M220.1 511.5v1.2M223.4 511.5v1.2M226.7 511.5v1.2M230 511.5v1.2M233.2 511.5v2M236.5 511.5v1.2M239.8 511.5v1.2M243 511.5v1.2M246.3 511.5v1.2M249.6 511.5v2M252.9 511.5v1.2M256.1 511.5v1.2M259.4 511.5v1.2M262.7 511.5v1.2M265.9 511.5v2M269.2 511.5v1.2M272.5 511.5v1.2M275.8 511.5v1.2M279 511.5v1.2M282.3 511.5v2M285.6 511.5v1.2M288.9 511.5v1.2M292.1 511.5v1.2M295.4 511.5v1.2" class="tk"/>
<text transform="translate(195.7 427.1) rotate(-90)" font-size="4.60" textLength="16.1" lengthAdjust="spacingAndGlyphs" class="s" stroke-width="0.35">250000</text>
<text transform="translate(195.7 451.1) rotate(-90)" font-size="4.60" textLength="16.1" lengthAdjust="spacingAndGlyphs" class="s" stroke-width="0.35">100000</text>
<text transform="translate(195.7 472.5) rotate(-90)" font-size="4.60" textLength="13" lengthAdjust="spacingAndGlyphs" class="s" stroke-width="0.35">50000</text>
<text x="192.6" y="511.7" font-size="4.60" textLength="2.8" lengthAdjust="spacingAndGlyphs" class="s" stroke-width="0.35">0</text>
<text x="208.1" y="518.5" font-size="4.60" textLength="2.8" lengthAdjust="spacingAndGlyphs" class="s" stroke-width="0.35">0</text>
<text x="221.8" y="518.5" font-size="4.60" textLength="7.7" lengthAdjust="spacingAndGlyphs" class="s" stroke-width="0.35">1E2</text>
<text x="244.4" y="518.5" font-size="4.60" textLength="7.7" lengthAdjust="spacingAndGlyphs" class="s" stroke-width="0.35">1E3</text>
<text x="264.5" y="518.5" font-size="4.60" textLength="7.7" lengthAdjust="spacingAndGlyphs" class="s" stroke-width="0.35">1E4</text>
<text x="283.6" y="518.5" font-size="4.60" textLength="7.7" lengthAdjust="spacingAndGlyphs" class="s" stroke-width="0.35">1E5</text>
<text x="201.5" y="527.4" font-size="7.00" textLength="92.5" lengthAdjust="spacingAndGlyphs" class="t" stroke-width="1.75">CD15:FITC-A LOGICAL</text>
<text transform="translate(189.8 509.3) rotate(-90)" font-size="8.57" textLength="83.6" lengthAdjust="spacingAndGlyphs" class="t" stroke-width="1.75">SSC-A Exp-SSC Low</text>
<path d="M324.5 418V512.5H421" class="ax"/>
<path d="M324.5 512.5h-2M324.5 509.2h-1.2M324.5 506h-1.2M324.5 502.7h-1.2M324.5 499.5h-1.2M324.5 496.2h-2M324.5 492.9h-1.2M324.5 489.7h-1.2M324.5 486.4h-1.2M324.5 483.2h-1.2M324.5 479.9h-2M324.5 476.7h-1.2M324.5 473.4h-1.2M324.5 470.1h-1.2M324.5 466.9h-1.2M324.5 463.6h-2M324.5 460.4h-1.2M324.5 457.1h-1.2M324.5 453.8h-1.2M324.5 450.6h-1.2M324.5 447.3h-2M324.5 444.1h-1.2M324.5 440.8h-1.2M324.5 437.6h-1.2M324.5 434.3h-1.2M324.5 431h-2M324.5 427.8h-1.2M324.5 424.5h-1.2M324.5 421.3h-1.2M324.5 418h-1.2M324.5 512.5v2M327.7 512.5v1.2M330.9 512.5v1.2M334.1 512.5v1.2M337.4 512.5v1.2M340.6 512.5v2M343.8 512.5v1.2M347 512.5v1.2M350.2 512.5v1.2M353.4 512.5v1.2M356.7 512.5v2M359.9 512.5v1.2M363.1 512.5v1.2M366.3 512.5v1.2M369.5 512.5v1.2M372.8 512.5v2M376 512.5v1.2M379.2 512.5v1.2M382.4 512.5v1.2M385.6 512.5v1.2M388.8 512.5v2M392.1 512.5v1.2M395.3 512.5v1.2M398.5 512.5v1.2M401.7 512.5v1.2M404.9 512.5v2M408.1 512.5v1.2M411.4 512.5v1.2M414.6 512.5v1.2M417.8 512.5v1.2M421 512.5v2" class="tk"/>
<text transform="translate(320.2 428.1) rotate(-90)" font-size="4.60" textLength="16.1" lengthAdjust="spacingAndGlyphs" class="s" stroke-width="0.35">250000</text>
<text transform="translate(320.2 452.1) rotate(-90)" font-size="4.60" textLength="16.1" lengthAdjust="spacingAndGlyphs" class="s" stroke-width="0.35">100000</text>
<text transform="translate(320.2 473.5) rotate(-90)" font-size="4.60" textLength="13" lengthAdjust="spacingAndGlyphs" class="s" stroke-width="0.35">50000</text>
<text x="317.1" y="512.7" font-size="4.60" textLength="2.9" lengthAdjust="spacingAndGlyphs" class="s" stroke-width="0.35">0</text>
<text x="332.6" y="519.5" font-size="4.60" textLength="2.9" lengthAdjust="spacingAndGlyphs" class="s" stroke-width="0.35">0</text>
<text x="346.8" y="519.5" font-size="4.60" textLength="7.7" lengthAdjust="spacingAndGlyphs" class="s" stroke-width="0.35">1E2</text>
<text x="368.8" y="519.5" font-size="4.60" textLength="7.7" lengthAdjust="spacingAndGlyphs" class="s" stroke-width="0.35">1E3</text>
<text x="387.8" y="519.5" font-size="4.60" textLength="7.7" lengthAdjust="spacingAndGlyphs" class="s" stroke-width="0.35">1E4</text>
<text x="407.5" y="519.5" font-size="4.60" textLength="7.7" lengthAdjust="spacingAndGlyphs" class="s" stroke-width="0.35">1E5</text>
<text x="326.5" y="528.1" font-size="6.86" textLength="98.8" lengthAdjust="spacingAndGlyphs" class="t" stroke-width="1.75">CD16:HV450-A LOGICAL</text>
<text transform="translate(314.3 509.3) rotate(-90)" font-size="8.44" textLength="82.6" lengthAdjust="spacingAndGlyphs" class="t" stroke-width="1.75">SSC-A Exp-SSC Low</text>
<path d="M457.5 419.4V512.5H553" class="ax"/>
<path d="M457.5 512.5h-2M457.5 509.3h-1.2M457.5 506.1h-1.2M457.5 502.9h-1.2M457.5 499.7h-1.2M457.5 496.4h-2M457.5 493.2h-1.2M457.5 490h-1.2M457.5 486.8h-1.2M457.5 483.6h-1.2M457.5 480.4h-2M457.5 477.2h-1.2M457.5 474h-1.2M457.5 470.8h-1.2M457.5 467.6h-1.2M457.5 464.3h-2M457.5 461.1h-1.2M457.5 457.9h-1.2M457.5 454.7h-1.2M457.5 451.5h-1.2M457.5 448.3h-2M457.5 445.1h-1.2M457.5 441.9h-1.2M457.5 438.7h-1.2M457.5 435.5h-1.2M457.5 432.2h-2M457.5 429h-1.2M457.5 425.8h-1.2M457.5 422.6h-1.2M457.5 419.4h-1.2M457.5 512.5v2M460.8 512.5v1.2M464.1 512.5v1.2M467.4 512.5v1.2M470.7 512.5v1.2M474 512.5v2M477.3 512.5v1.2M480.6 512.5v1.2M483.8 512.5v1.2M487.1 512.5v1.2M490.4 512.5v2M493.7 512.5v1.2M497 512.5v1.2M500.3 512.5v1.2M503.6 512.5v1.2M506.9 512.5v2M510.2 512.5v1.2M513.5 512.5v1.2M516.8 512.5v1.2M520.1 512.5v1.2M523.4 512.5v2M526.7 512.5v1.2M529.9 512.5v1.2M533.2 512.5v1.2M536.5 512.5v1.2M539.8 512.5v2M543.1 512.5v1.2M546.4 512.5v1.2M549.7 512.5v1.2M553 512.5v1.2" class="tk"/>
<text transform="translate(453.3 429.1) rotate(-90)" font-size="4.60" textLength="16.1" lengthAdjust="spacingAndGlyphs" class="s" stroke-width="0.35">250000</text>
<text transform="translate(453.3 453.1) rotate(-90)" font-size="4.60" textLength="16.1" lengthAdjust="spacingAndGlyphs" class="s" stroke-width="0.35">100000</text>
<text transform="translate(453.3 474.5) rotate(-90)" font-size="4.60" textLength="13" lengthAdjust="spacingAndGlyphs" class="s" stroke-width="0.35">50000</text>
<text x="450.2" y="513" font-size="4.60" textLength="2.9" lengthAdjust="spacingAndGlyphs" class="s" stroke-width="0.35">0</text>
<text x="464.8" y="520.1" font-size="4.60" textLength="2.9" lengthAdjust="spacingAndGlyphs" class="s" stroke-width="0.35">0</text>
<text x="481.2" y="520.1" font-size="4.60" textLength="7.7" lengthAdjust="spacingAndGlyphs" class="s" stroke-width="0.35">1E2</text>
<text x="501.5" y="520.1" font-size="4.60" textLength="7.7" lengthAdjust="spacingAndGlyphs" class="s" stroke-width="0.35">1E3</text>
<text x="521.7" y="520.1" font-size="4.60" textLength="7.7" lengthAdjust="spacingAndGlyphs" class="s" stroke-width="0.35">1E4</text>
<text x="541" y="520.1" font-size="4.60" textLength="7.7" lengthAdjust="spacingAndGlyphs" class="s" stroke-width="0.35">1E5</text>
<text x="459" y="528.6" font-size="6.31" textLength="87.1" lengthAdjust="spacingAndGlyphs" class="t" stroke-width="1.75">CD45:KO-A LOGICAL</text>
<text transform="translate(446.9 510.4) rotate(-90)" font-size="8.57" textLength="82.6" lengthAdjust="spacingAndGlyphs" class="t" stroke-width="1.75">SSC-A Exp-SSC Low</text>
<text x="0.6" y="66" class="lab" textLength="42.2" lengthAdjust="spacingAndGlyphs">Control</text><text x="2.6" y="193" class="lab" textLength="45" lengthAdjust="spacingAndGlyphs">LR-MDS</text><text x="0.6" y="335.6" class="lab" textLength="42.2" lengthAdjust="spacingAndGlyphs">Control</text><text x="2.6" y="462.4" class="lab" textLength="45" lengthAdjust="spacingAndGlyphs">LR-MDS</text>
</svg>
</body></html>
